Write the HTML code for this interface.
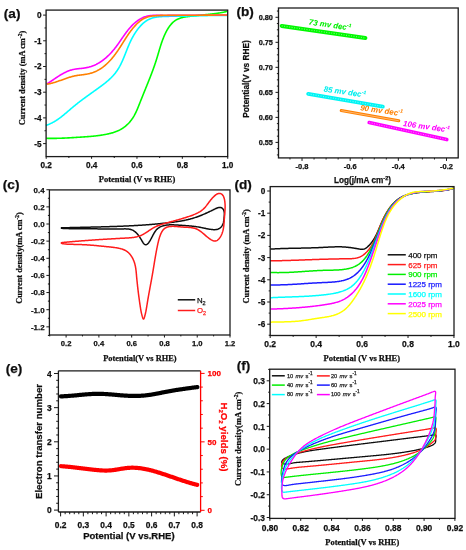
<!DOCTYPE html>
<html><head><meta charset="utf-8"><title>Figure</title>
<style>
html,body{margin:0;padding:0;background:#fff;}
body{width:466px;height:550px;overflow:hidden;}
svg{display:block;}
</style></head><body>
<svg width="466" height="550" viewBox="0 0 466 550">
<defs><filter id="soft" filterUnits="userSpaceOnUse" x="0" y="0" width="466" height="550"><feGaussianBlur stdDeviation="0.4"/></filter></defs>
<rect x="0" y="0" width="466" height="550" fill="#ffffff"/>
<g filter="url(#soft)">
<polyline points="46.33,138.30 47.01,138.32 47.69,138.33 48.37,138.35 49.05,138.36 49.74,138.37 50.42,138.38 51.10,138.38 51.79,138.38 52.48,138.38 53.16,138.38 53.85,138.38 54.54,138.37 55.23,138.36 55.92,138.35 56.62,138.34 57.31,138.32 58.00,138.30 58.70,138.29 59.39,138.27 60.09,138.24 60.79,138.22 61.48,138.19 62.18,138.17 62.88,138.14 63.58,138.11 64.28,138.08 64.98,138.05 65.68,138.01 66.38,137.98 67.08,137.94 67.78,137.91 68.49,137.87 69.19,137.83 69.89,137.79 70.59,137.75 71.30,137.71 72.00,137.67 72.70,137.63 73.41,137.59 74.11,137.54 74.82,137.50 75.52,137.46 76.22,137.41 76.93,137.37 77.63,137.32 78.34,137.28 79.04,137.23 79.75,137.19 80.45,137.14 81.15,137.10 81.86,137.05 82.56,137.01 83.26,136.96 83.97,136.91 84.67,136.87 85.37,136.82 86.07,136.77 86.78,136.72 87.48,136.66 88.18,136.61 88.88,136.55 89.58,136.50 90.28,136.44 90.98,136.38 91.67,136.31 92.37,136.25 93.07,136.18 93.77,136.11 94.46,136.04 95.16,135.96 95.85,135.89 96.54,135.80 97.24,135.72 97.93,135.63 98.62,135.54 99.31,135.45 100.00,135.35 100.69,135.25 101.38,135.15 102.06,135.04 102.75,134.93 103.43,134.82 104.12,134.70 104.80,134.57 105.48,134.44 106.16,134.31 106.84,134.17 107.52,134.03 108.19,133.88 108.87,133.73 109.54,133.57 110.21,133.40 110.88,133.23 111.54,133.05 112.20,132.86 112.86,132.67 113.52,132.46 114.17,132.25 114.82,132.03 115.46,131.80 116.10,131.56 116.74,131.31 117.37,131.05 117.99,130.77 118.61,130.49 119.23,130.19 119.84,129.89 120.44,129.57 121.04,129.24 121.63,128.89 122.22,128.53 122.79,128.16 123.37,127.77 123.93,127.37 124.49,126.96 125.04,126.53 125.58,126.09 126.11,125.64 126.64,125.17 127.15,124.70 127.66,124.21 128.16,123.71 128.65,123.21 129.13,122.69 129.60,122.16 130.06,121.62 130.51,121.08 130.95,120.52 131.38,119.96 131.80,119.39 132.21,118.81 132.61,118.22 132.99,117.63 133.37,117.03 133.73,116.42 134.09,115.81 134.43,115.20 134.77,114.58 135.10,113.95 135.42,113.32 135.73,112.69 136.03,112.05 136.33,111.41 136.63,110.76 136.91,110.12 137.19,109.47 137.47,108.82 137.74,108.17 138.01,107.52 138.28,106.87 138.54,106.22 138.80,105.57 139.06,104.92 139.31,104.27 139.57,103.62 139.83,102.97 140.08,102.33 140.34,101.69 140.59,101.05 140.84,100.41 141.10,99.77 141.35,99.13 141.61,98.50 141.86,97.86 142.12,97.23 142.37,96.59 142.62,95.96 142.88,95.32 143.13,94.69 143.39,94.05 143.65,93.42 143.90,92.78 144.16,92.15 144.42,91.51 144.68,90.87 144.94,90.23 145.20,89.59 145.46,88.94 145.72,88.30 145.98,87.65 146.24,87.01 146.50,86.36 146.77,85.71 147.03,85.06 147.29,84.41 147.55,83.76 147.82,83.10 148.08,82.45 148.34,81.79 148.60,81.14 148.87,80.48 149.13,79.82 149.39,79.16 149.65,78.50 149.91,77.84 150.17,77.18 150.43,76.52 150.68,75.85 150.94,75.19 151.19,74.53 151.45,73.86 151.70,73.20 151.95,72.53 152.20,71.87 152.45,71.20 152.70,70.53 152.94,69.86 153.19,69.20 153.43,68.53 153.67,67.86 153.91,67.19 154.14,66.52 154.38,65.86 154.61,65.19 154.84,64.52 155.07,63.85 155.29,63.18 155.52,62.51 155.74,61.84 155.95,61.17 156.17,60.50 156.38,59.83 156.59,59.17 156.80,58.50 157.00,57.83 157.21,57.16 157.41,56.50 157.60,55.83 157.80,55.16 158.00,54.50 158.19,53.83 158.39,53.16 158.58,52.50 158.78,51.84 158.97,51.17 159.17,50.51 159.37,49.85 159.56,49.19 159.76,48.53 159.96,47.87 160.16,47.21 160.37,46.55 160.57,45.89 160.78,45.23 160.99,44.58 161.21,43.92 161.42,43.27 161.64,42.62 161.87,41.97 162.10,41.32 162.33,40.67 162.57,40.02 162.81,39.37 163.06,38.73 163.32,38.08 163.58,37.44 163.84,36.80 164.11,36.16 164.39,35.52 164.68,34.88 164.97,34.25 165.27,33.61 165.57,32.98 165.89,32.35 166.21,31.72 166.54,31.09 166.88,30.47 167.22,29.85 167.58,29.24 167.95,28.64 168.32,28.04 168.71,27.45 169.10,26.87 169.50,26.30 169.92,25.74 170.34,25.19 170.78,24.65 171.23,24.13 171.69,23.62 172.16,23.13 172.64,22.65 173.13,22.19 173.64,21.75 174.15,21.33 174.68,20.92 175.23,20.54 175.78,20.18 176.35,19.84 176.94,19.52 177.53,19.22 178.14,18.95 178.76,18.69 179.38,18.45 180.02,18.23 180.67,18.02 181.32,17.83 181.99,17.65 182.66,17.49 183.33,17.33 184.02,17.19 184.70,17.06 185.40,16.94 186.09,16.82 186.79,16.72 187.49,16.61 188.20,16.52 188.90,16.43 189.60,16.34 190.31,16.25 191.01,16.16 191.72,16.08 192.42,16.00 193.13,15.92 193.83,15.85 194.54,15.77 195.24,15.70 195.95,15.62 196.65,15.55 197.36,15.48 198.06,15.41 198.77,15.34 199.47,15.28 200.17,15.21 200.88,15.14 201.58,15.07 202.28,15.01 202.99,14.94 203.69,14.87 204.39,14.80 205.09,14.73 205.79,14.67 206.49,14.60 207.19,14.52 207.89,14.45 208.58,14.38 209.28,14.30 209.98,14.23 210.67,14.15 211.37,14.07 212.06,13.99 212.75,13.91 213.45,13.82 214.14,13.73 214.83,13.64 215.52,13.55 216.21,13.45 216.90,13.35 217.58,13.25 218.27,13.15 218.95,13.04 219.64,12.93 220.32,12.81 221.00,12.69 221.68,12.57 222.36,12.44 223.03,12.31 223.71,12.17 224.39,12.03 225.06,11.89 225.73,11.74 226.40,11.58 227.07,11.42" fill="none" stroke="#00ff00" stroke-width="1.60" stroke-linejoin="round" />
<polyline points="45.78,125.37 46.47,125.16 47.14,124.94 47.81,124.70 48.48,124.45 49.13,124.19 49.78,123.92 50.42,123.64 51.06,123.35 51.69,123.04 52.31,122.73 52.93,122.40 53.54,122.07 54.15,121.73 54.75,121.37 55.34,121.01 55.93,120.65 56.52,120.27 57.10,119.89 57.68,119.50 58.25,119.10 58.82,118.70 59.39,118.29 59.95,117.87 60.51,117.45 61.07,117.03 61.62,116.60 62.17,116.16 62.72,115.72 63.26,115.28 63.81,114.84 64.35,114.39 64.89,113.94 65.43,113.48 65.96,113.03 66.50,112.57 67.03,112.11 67.57,111.66 68.10,111.20 68.63,110.74 69.16,110.28 69.70,109.82 70.23,109.36 70.76,108.91 71.29,108.45 71.83,108.00 72.36,107.55 72.90,107.10 73.44,106.65 73.98,106.21 74.52,105.77 75.06,105.33 75.60,104.89 76.14,104.46 76.68,104.03 77.23,103.60 77.78,103.17 78.32,102.74 78.87,102.32 79.42,101.90 79.97,101.47 80.52,101.06 81.07,100.64 81.63,100.22 82.18,99.80 82.74,99.39 83.29,98.98 83.85,98.56 84.41,98.15 84.96,97.74 85.52,97.33 86.08,96.92 86.65,96.51 87.21,96.11 87.77,95.70 88.33,95.29 88.90,94.89 89.46,94.48 90.03,94.07 90.60,93.67 91.17,93.26 91.73,92.85 92.30,92.45 92.87,92.04 93.44,91.63 94.02,91.22 94.59,90.81 95.16,90.41 95.74,90.00 96.31,89.58 96.88,89.17 97.46,88.76 98.04,88.35 98.61,87.93 99.19,87.52 99.76,87.10 100.34,86.68 100.91,86.26 101.48,85.84 102.05,85.41 102.62,84.98 103.18,84.55 103.74,84.12 104.30,83.69 104.85,83.25 105.40,82.81 105.95,82.36 106.49,81.92 107.03,81.47 107.56,81.01 108.09,80.56 108.61,80.10 109.13,79.63 109.64,79.16 110.14,78.69 110.64,78.21 111.13,77.73 111.61,77.24 112.09,76.75 112.55,76.26 113.02,75.76 113.47,75.25 113.92,74.74 114.36,74.22 114.79,73.70 115.21,73.17 115.63,72.64 116.04,72.10 116.44,71.55 116.83,71.00 117.22,70.44 117.60,69.88 117.97,69.31 118.33,68.73 118.69,68.14 119.03,67.55 119.37,66.96 119.71,66.36 120.03,65.75 120.35,65.14 120.67,64.52 120.98,63.90 121.28,63.27 121.58,62.64 121.88,62.01 122.17,61.37 122.46,60.73 122.74,60.09 123.02,59.44 123.30,58.79 123.57,58.14 123.84,57.48 124.11,56.83 124.38,56.17 124.64,55.51 124.90,54.85 125.17,54.19 125.43,53.52 125.69,52.86 125.95,52.20 126.21,51.53 126.47,50.87 126.74,50.21 127.00,49.54 127.26,48.88 127.53,48.22 127.80,47.56 128.07,46.90 128.34,46.25 128.61,45.60 128.89,44.94 129.17,44.29 129.46,43.65 129.74,43.00 130.04,42.36 130.33,41.73 130.63,41.09 130.94,40.46 131.25,39.84 131.57,39.21 131.89,38.59 132.21,37.97 132.54,37.36 132.88,36.75 133.22,36.14 133.57,35.54 133.92,34.94 134.28,34.34 134.65,33.75 135.02,33.16 135.40,32.57 135.79,31.99 136.18,31.41 136.58,30.84 136.99,30.27 137.40,29.71 137.83,29.14 138.26,28.59 138.70,28.03 139.14,27.49 139.60,26.95 140.06,26.41 140.53,25.89 141.01,25.37 141.50,24.87 142.00,24.37 142.50,23.88 143.02,23.41 143.54,22.95 144.07,22.50 144.61,22.07 145.16,21.65 145.71,21.24 146.28,20.86 146.85,20.49 147.42,20.13 148.01,19.80 148.60,19.49 149.20,19.19 149.81,18.92 150.42,18.66 151.05,18.43 151.67,18.21 152.31,18.01 152.94,17.83 153.59,17.66 154.24,17.51 154.90,17.38 155.56,17.25 156.22,17.14 156.89,17.04 157.57,16.95 158.25,16.87 158.93,16.80 159.62,16.74 160.31,16.68 161.00,16.63 161.70,16.58 162.40,16.54 163.10,16.51 163.81,16.47 164.52,16.44 165.23,16.42 165.94,16.40 166.65,16.38 167.36,16.36 168.08,16.34 168.80,16.33 169.51,16.32 170.23,16.31 170.95,16.30 171.66,16.30 172.38,16.29 173.10,16.28 173.82,16.28 174.53,16.27 175.25,16.26 175.96,16.26 176.67,16.25 177.38,16.24 178.09,16.23 178.80,16.22 179.51,16.21 180.22,16.20 180.92,16.19 181.63,16.18 182.33,16.16 183.03,16.15 183.74,16.14 184.44,16.12 185.14,16.11 185.84,16.10 186.54,16.08 187.24,16.07 187.93,16.05 188.63,16.03 189.33,16.02 190.02,16.00 190.72,15.99 191.42,15.97 192.11,15.95 192.81,15.94 193.50,15.92 194.19,15.90 194.89,15.89 195.58,15.87 196.27,15.85 196.97,15.83 197.66,15.82 198.35,15.80 199.05,15.78 199.74,15.76 200.43,15.75 201.12,15.73 201.82,15.71 202.51,15.70 203.20,15.68 203.90,15.66 204.59,15.65 205.28,15.63 205.98,15.62 206.67,15.60 207.37,15.59 208.06,15.57 208.76,15.56 209.45,15.54 210.15,15.53 210.85,15.52 211.54,15.50 212.24,15.49 212.94,15.48 213.64,15.47 214.34,15.46 215.04,15.45 215.74,15.44 216.44,15.43 217.15,15.42 217.85,15.41 218.55,15.40 219.26,15.40 219.97,15.39 220.67,15.38 221.38,15.38 222.09,15.38 222.80,15.37 223.51,15.37 224.23,15.37 224.94,15.37 225.66,15.37 226.37,15.37 227.09,15.37" fill="none" stroke="#00ffff" stroke-width="1.60" stroke-linejoin="round" />
<polyline points="46.91,83.96 47.43,83.63 47.96,83.29 48.49,82.95 49.02,82.60 49.56,82.24 50.11,81.87 50.65,81.50 51.21,81.13 51.76,80.75 52.33,80.36 52.89,79.97 53.46,79.58 54.04,79.19 54.62,78.80 55.20,78.40 55.78,78.01 56.37,77.61 56.97,77.22 57.57,76.83 58.17,76.44 58.77,76.05 59.38,75.67 59.99,75.29 60.61,74.92 61.23,74.55 61.85,74.19 62.48,73.84 63.11,73.49 63.74,73.15 64.38,72.82 65.02,72.50 65.66,72.18 66.30,71.88 66.95,71.59 67.60,71.32 68.26,71.05 68.91,70.80 69.57,70.56 70.23,70.33 70.90,70.12 71.57,69.93 72.24,69.75 72.91,69.59 73.58,69.44 74.26,69.31 74.94,69.19 75.62,69.08 76.30,68.99 76.98,68.90 77.66,68.81 78.35,68.73 79.03,68.66 79.72,68.58 80.40,68.51 81.09,68.44 81.77,68.36 82.45,68.28 83.13,68.20 83.81,68.11 84.49,68.01 85.17,67.90 85.85,67.78 86.52,67.65 87.19,67.51 87.86,67.35 88.53,67.19 89.19,67.02 89.85,66.83 90.50,66.64 91.16,66.43 91.80,66.21 92.45,65.98 93.09,65.74 93.72,65.49 94.35,65.22 94.98,64.95 95.60,64.66 96.21,64.37 96.82,64.06 97.43,63.74 98.03,63.41 98.62,63.07 99.21,62.72 99.80,62.36 100.37,62.00 100.95,61.62 101.52,61.23 102.08,60.83 102.64,60.43 103.20,60.02 103.74,59.60 104.29,59.17 104.83,58.73 105.36,58.28 105.89,57.83 106.42,57.37 106.94,56.90 107.45,56.43 107.96,55.95 108.47,55.46 108.97,54.97 109.47,54.47 109.96,53.97 110.45,53.45 110.93,52.94 111.41,52.42 111.88,51.89 112.35,51.36 112.81,50.82 113.27,50.28 113.73,49.74 114.18,49.19 114.62,48.64 115.06,48.09 115.50,47.53 115.93,46.96 116.36,46.40 116.78,45.83 117.20,45.26 117.62,44.69 118.03,44.12 118.44,43.54 118.85,42.96 119.25,42.39 119.66,41.81 120.06,41.23 120.46,40.65 120.86,40.06 121.26,39.48 121.65,38.90 122.05,38.32 122.45,37.74 122.85,37.16 123.25,36.59 123.65,36.01 124.05,35.44 124.45,34.86 124.86,34.29 125.27,33.73 125.68,33.16 126.10,32.60 126.51,32.04 126.94,31.48 127.36,30.93 127.79,30.38 128.22,29.84 128.66,29.30 129.11,28.76 129.56,28.23 130.02,27.71 130.48,27.19 130.95,26.67 131.42,26.17 131.91,25.66 132.40,25.17 132.89,24.68 133.40,24.20 133.91,23.72 134.43,23.26 134.95,22.80 135.48,22.35 136.02,21.91 136.57,21.49 137.12,21.07 137.68,20.66 138.24,20.27 138.81,19.89 139.39,19.52 139.97,19.16 140.56,18.82 141.15,18.49 141.75,18.18 142.36,17.88 142.97,17.60 143.59,17.34 144.21,17.09 144.84,16.85 145.48,16.64 146.12,16.44 146.76,16.26 147.41,16.10 148.07,15.96 148.73,15.84 149.39,15.74 150.06,15.65 150.73,15.57 151.41,15.51 152.09,15.46 152.77,15.42 153.46,15.39 154.15,15.37 154.84,15.36 155.54,15.36 156.23,15.36 156.93,15.36 157.63,15.37 158.34,15.38 159.04,15.39 159.74,15.40 160.45,15.41 161.15,15.41 161.86,15.42 162.57,15.42 163.28,15.43 163.99,15.43 164.69,15.43 165.40,15.43 166.11,15.43 166.82,15.43 167.53,15.42 168.24,15.42 168.95,15.41 169.66,15.41 170.38,15.40 171.09,15.39 171.80,15.39 172.51,15.38 173.22,15.37 173.93,15.36 174.64,15.35 175.35,15.34 176.06,15.34 176.77,15.33 177.47,15.32 178.18,15.31 178.89,15.30 179.60,15.29 180.30,15.28 181.01,15.27 181.71,15.27 182.41,15.26 183.12,15.25 183.82,15.24 184.52,15.24 185.22,15.23 185.92,15.23 186.62,15.22 187.32,15.22 188.01,15.21 188.71,15.21 189.41,15.21 190.10,15.20 190.80,15.20 191.49,15.20 192.19,15.20 192.88,15.19 193.57,15.19 194.27,15.19 194.96,15.19 195.65,15.19 196.34,15.19 197.04,15.19 197.73,15.18 198.42,15.18 199.11,15.18 199.80,15.18 200.50,15.18 201.19,15.18 201.88,15.18 202.57,15.18 203.26,15.18 203.95,15.18 204.65,15.18 205.34,15.18 206.03,15.18 206.72,15.18 207.42,15.18 208.11,15.18 208.80,15.18 209.50,15.18 210.19,15.18 210.89,15.18 211.58,15.17 212.28,15.17 212.98,15.17 213.67,15.17 214.37,15.17 215.07,15.16 215.77,15.16 216.47,15.16 217.17,15.16 217.87,15.15 218.57,15.15 219.27,15.14 219.98,15.14 220.68,15.14 221.39,15.13 222.10,15.12 222.80,15.12 223.51,15.11 224.22,15.11 224.93,15.10 225.65,15.09 226.36,15.08 227.07,15.07" fill="none" stroke="#ff00ff" stroke-width="1.60" stroke-linejoin="round" />
<polyline points="46.75,84.12 47.40,84.04 48.05,83.95 48.70,83.85 49.35,83.73 50.00,83.60 50.65,83.46 51.31,83.31 51.97,83.14 52.62,82.97 53.28,82.79 53.94,82.60 54.60,82.40 55.26,82.20 55.92,81.99 56.58,81.77 57.25,81.55 57.91,81.33 58.58,81.09 59.24,80.86 59.91,80.62 60.58,80.38 61.25,80.14 61.92,79.90 62.59,79.66 63.26,79.41 63.94,79.17 64.61,78.93 65.28,78.69 65.96,78.46 66.64,78.22 67.31,77.99 67.99,77.77 68.67,77.55 69.35,77.33 70.03,77.12 70.71,76.92 71.39,76.73 72.07,76.54 72.76,76.36 73.44,76.19 74.13,76.03 74.81,75.88 75.50,75.75 76.19,75.62 76.88,75.50 77.56,75.39 78.25,75.29 78.94,75.20 79.63,75.11 80.32,75.02 81.00,74.94 81.69,74.86 82.37,74.77 83.06,74.69 83.74,74.60 84.42,74.51 85.10,74.41 85.78,74.31 86.45,74.20 87.13,74.08 87.80,73.95 88.47,73.81 89.13,73.66 89.79,73.49 90.45,73.31 91.11,73.12 91.76,72.92 92.41,72.70 93.05,72.48 93.69,72.24 94.33,71.99 94.96,71.73 95.58,71.46 96.20,71.17 96.82,70.88 97.43,70.57 98.04,70.25 98.64,69.92 99.23,69.58 99.82,69.23 100.40,68.87 100.97,68.50 101.54,68.11 102.11,67.72 102.66,67.32 103.21,66.90 103.76,66.48 104.30,66.05 104.83,65.61 105.36,65.16 105.88,64.70 106.40,64.23 106.91,63.76 107.42,63.28 107.92,62.79 108.42,62.30 108.91,61.79 109.39,61.29 109.87,60.77 110.35,60.25 110.82,59.72 111.29,59.19 111.75,58.65 112.21,58.11 112.66,57.56 113.11,57.01 113.55,56.46 113.99,55.90 114.42,55.33 114.85,54.77 115.28,54.20 115.70,53.63 116.12,53.05 116.54,52.47 116.95,51.89 117.35,51.31 117.76,50.73 118.15,50.15 118.55,49.56 118.94,48.97 119.33,48.39 119.72,47.80 120.10,47.21 120.48,46.63 120.85,46.04 121.23,45.45 121.60,44.87 121.97,44.28 122.33,43.70 122.70,43.11 123.07,42.53 123.43,41.95 123.80,41.36 124.16,40.78 124.53,40.20 124.90,39.62 125.26,39.04 125.63,38.46 126.00,37.88 126.38,37.31 126.75,36.73 127.13,36.16 127.51,35.59 127.89,35.02 128.28,34.45 128.67,33.88 129.07,33.32 129.47,32.75 129.87,32.19 130.28,31.63 130.70,31.07 131.12,30.52 131.54,29.97 131.98,29.41 132.42,28.86 132.86,28.32 133.32,27.77 133.78,27.23 134.25,26.69 134.73,26.15 135.22,25.62 135.71,25.09 136.21,24.57 136.72,24.05 137.24,23.54 137.77,23.04 138.30,22.55 138.84,22.07 139.39,21.60 139.95,21.15 140.51,20.71 141.08,20.29 141.65,19.88 142.23,19.50 142.82,19.13 143.41,18.79 144.01,18.46 144.62,18.17 145.23,17.89 145.84,17.64 146.47,17.40 147.09,17.19 147.72,17.00 148.36,16.82 149.00,16.66 149.64,16.51 150.29,16.38 150.95,16.27 151.60,16.16 152.27,16.06 152.93,15.98 153.60,15.90 154.27,15.83 154.95,15.77 155.62,15.71 156.30,15.66 156.99,15.61 157.67,15.56 158.36,15.52 159.05,15.48 159.74,15.45 160.44,15.41 161.14,15.38 161.84,15.36 162.54,15.33 163.24,15.31 163.94,15.29 164.65,15.28 165.36,15.26 166.06,15.25 166.77,15.24 167.48,15.23 168.20,15.23 168.91,15.22 169.62,15.22 170.33,15.22 171.05,15.22 171.76,15.22 172.48,15.22 173.19,15.22 173.91,15.22 174.62,15.23 175.33,15.23 176.05,15.24 176.76,15.24 177.47,15.25 178.19,15.25 178.90,15.26 179.61,15.26 180.32,15.27 181.03,15.27 181.73,15.27 182.44,15.28 183.14,15.28 183.85,15.28 184.55,15.28 185.25,15.28 185.95,15.28 186.65,15.28 187.35,15.28 188.05,15.28 188.75,15.28 189.44,15.28 190.14,15.27 190.83,15.27 191.53,15.27 192.22,15.26 192.91,15.26 193.61,15.25 194.30,15.25 194.99,15.25 195.68,15.24 196.37,15.23 197.06,15.23 197.75,15.22 198.44,15.22 199.13,15.21 199.82,15.21 200.51,15.20 201.20,15.19 201.89,15.19 202.58,15.18 203.27,15.17 203.96,15.17 204.65,15.16 205.35,15.15 206.04,15.14 206.73,15.14 207.42,15.13 208.11,15.12 208.80,15.12 209.50,15.11 210.19,15.11 210.88,15.10 211.58,15.09 212.27,15.09 212.97,15.08 213.66,15.08 214.36,15.07 215.06,15.06 215.76,15.06 216.46,15.06 217.16,15.05 217.86,15.05 218.56,15.04 219.27,15.04 219.97,15.04 220.68,15.03 221.39,15.03 222.09,15.03 222.80,15.03 223.52,15.03 224.23,15.03 224.94,15.03 225.66,15.03 226.37,15.03 227.09,15.03" fill="none" stroke="#ff8000" stroke-width="1.60" stroke-linejoin="round" />
<rect x="46.10" y="10.10" width="181.60" height="146.50" fill="none" stroke="#1a1a1a" stroke-width="1.30"/>
<line x1="46.10" y1="143.60" x2="43.10" y2="143.60" stroke="#1a1a1a" stroke-width="1.00"/>
<line x1="46.10" y1="117.90" x2="43.10" y2="117.90" stroke="#1a1a1a" stroke-width="1.00"/>
<line x1="46.10" y1="92.20" x2="43.10" y2="92.20" stroke="#1a1a1a" stroke-width="1.00"/>
<line x1="46.10" y1="66.50" x2="43.10" y2="66.50" stroke="#1a1a1a" stroke-width="1.00"/>
<line x1="46.10" y1="40.80" x2="43.10" y2="40.80" stroke="#1a1a1a" stroke-width="1.00"/>
<line x1="46.10" y1="15.10" x2="43.10" y2="15.10" stroke="#1a1a1a" stroke-width="1.00"/>
<line x1="46.10" y1="130.75" x2="44.50" y2="130.75" stroke="#1a1a1a" stroke-width="1.00"/>
<line x1="46.10" y1="105.05" x2="44.50" y2="105.05" stroke="#1a1a1a" stroke-width="1.00"/>
<line x1="46.10" y1="79.35" x2="44.50" y2="79.35" stroke="#1a1a1a" stroke-width="1.00"/>
<line x1="46.10" y1="53.65" x2="44.50" y2="53.65" stroke="#1a1a1a" stroke-width="1.00"/>
<line x1="46.10" y1="27.95" x2="44.50" y2="27.95" stroke="#1a1a1a" stroke-width="1.00"/>
<text x="41.50" y="18.00" font-family='"Liberation Sans", sans-serif' font-size="8.20" font-weight="bold" text-anchor="end" fill="#111"  stroke="#111" stroke-width="0.25">0</text>
<text x="41.50" y="43.70" font-family='"Liberation Sans", sans-serif' font-size="8.20" font-weight="bold" text-anchor="end" fill="#111"  stroke="#111" stroke-width="0.25">-1</text>
<text x="41.50" y="69.40" font-family='"Liberation Sans", sans-serif' font-size="8.20" font-weight="bold" text-anchor="end" fill="#111"  stroke="#111" stroke-width="0.25">-2</text>
<text x="41.50" y="95.10" font-family='"Liberation Sans", sans-serif' font-size="8.20" font-weight="bold" text-anchor="end" fill="#111"  stroke="#111" stroke-width="0.25">-3</text>
<text x="41.50" y="120.80" font-family='"Liberation Sans", sans-serif' font-size="8.20" font-weight="bold" text-anchor="end" fill="#111"  stroke="#111" stroke-width="0.25">-4</text>
<text x="41.50" y="146.50" font-family='"Liberation Sans", sans-serif' font-size="8.20" font-weight="bold" text-anchor="end" fill="#111"  stroke="#111" stroke-width="0.25">-5</text>
<line x1="46.20" y1="156.60" x2="46.20" y2="158.80" stroke="#1a1a1a" stroke-width="1.00"/>
<line x1="91.58" y1="156.60" x2="91.58" y2="158.80" stroke="#1a1a1a" stroke-width="1.00"/>
<line x1="136.96" y1="156.60" x2="136.96" y2="158.80" stroke="#1a1a1a" stroke-width="1.00"/>
<line x1="182.34" y1="156.60" x2="182.34" y2="158.80" stroke="#1a1a1a" stroke-width="1.00"/>
<line x1="227.72" y1="156.60" x2="227.72" y2="158.80" stroke="#1a1a1a" stroke-width="1.00"/>
<line x1="68.89" y1="156.60" x2="68.89" y2="158.00" stroke="#1a1a1a" stroke-width="1.00"/>
<line x1="114.27" y1="156.60" x2="114.27" y2="158.00" stroke="#1a1a1a" stroke-width="1.00"/>
<line x1="159.65" y1="156.60" x2="159.65" y2="158.00" stroke="#1a1a1a" stroke-width="1.00"/>
<line x1="205.03" y1="156.60" x2="205.03" y2="158.00" stroke="#1a1a1a" stroke-width="1.00"/>
<text x="46.20" y="168.30" font-family='"Liberation Sans", sans-serif' font-size="8.20" font-weight="bold" text-anchor="middle" fill="#111"  stroke="#111" stroke-width="0.25">0.2</text>
<text x="91.58" y="168.30" font-family='"Liberation Sans", sans-serif' font-size="8.20" font-weight="bold" text-anchor="middle" fill="#111"  stroke="#111" stroke-width="0.25">0.4</text>
<text x="136.96" y="168.30" font-family='"Liberation Sans", sans-serif' font-size="8.20" font-weight="bold" text-anchor="middle" fill="#111"  stroke="#111" stroke-width="0.25">0.6</text>
<text x="182.34" y="168.30" font-family='"Liberation Sans", sans-serif' font-size="8.20" font-weight="bold" text-anchor="middle" fill="#111"  stroke="#111" stroke-width="0.25">0.8</text>
<text x="227.72" y="168.30" font-family='"Liberation Sans", sans-serif' font-size="8.20" font-weight="bold" text-anchor="middle" fill="#111"  stroke="#111" stroke-width="0.25">1.0</text>
<text x="137.00" y="182.40" font-family='"Liberation Serif", serif' font-size="8.50" font-weight="bold" text-anchor="middle" fill="#111"  stroke="#111" stroke-width="0.25">Potential (V vs RHE)</text>
<text x="24.90" y="78.00" font-family='"Liberation Serif", serif' font-size="8.40" font-weight="bold" text-anchor="middle" fill="#111" transform="rotate(-90.00 24.90 78.00)"  stroke="#111" stroke-width="0.25">Current density (mA cm<tspan dy="-3" font-size="5.5">-2</tspan><tspan dy="3">)</tspan></text>
<text x="3.80" y="17.70" font-family='"Liberation Sans", sans-serif' font-size="13.60" font-weight="bold" text-anchor="start" fill="#111"  stroke="#111" stroke-width="0.25">(a)</text>
<line x1="281.70" y1="25.90" x2="365.40" y2="38.00" stroke="#00f800" stroke-width="4.00" stroke-linecap="round"/>
<line x1="281.70" y1="25.90" x2="365.40" y2="38.00" stroke="#ffffff" stroke-opacity="0.45" stroke-width="1.10" stroke-dasharray="1.0 1.5"/>
<line x1="308.20" y1="93.90" x2="382.80" y2="106.60" stroke="#00f4f4" stroke-width="3.90" stroke-linecap="round"/>
<line x1="308.20" y1="93.90" x2="382.80" y2="106.60" stroke="#ffffff" stroke-opacity="0.45" stroke-width="1.10" stroke-dasharray="1.0 1.5"/>
<line x1="341.20" y1="110.60" x2="398.80" y2="120.80" stroke="#ff8000" stroke-width="3.00" stroke-linecap="round"/>
<line x1="341.20" y1="110.60" x2="398.80" y2="120.80" stroke="#ffffff" stroke-opacity="0.55" stroke-width="0.80"/>
<line x1="369.20" y1="122.60" x2="446.80" y2="139.60" stroke="#ff00ff" stroke-width="3.60" stroke-linecap="round"/>
<line x1="369.20" y1="122.60" x2="446.80" y2="139.60" stroke="#ffffff" stroke-opacity="0.50" stroke-width="1.00" stroke-dasharray="1.0 1.5"/>
<rect x="278.50" y="8.00" width="179.70" height="149.90" fill="none" stroke="#1a1a1a" stroke-width="1.30"/>
<line x1="278.50" y1="142.40" x2="275.50" y2="142.40" stroke="#1a1a1a" stroke-width="1.00"/>
<line x1="278.50" y1="117.38" x2="275.50" y2="117.38" stroke="#1a1a1a" stroke-width="1.00"/>
<line x1="278.50" y1="92.36" x2="275.50" y2="92.36" stroke="#1a1a1a" stroke-width="1.00"/>
<line x1="278.50" y1="67.34" x2="275.50" y2="67.34" stroke="#1a1a1a" stroke-width="1.00"/>
<line x1="278.50" y1="42.32" x2="275.50" y2="42.32" stroke="#1a1a1a" stroke-width="1.00"/>
<line x1="278.50" y1="17.30" x2="275.50" y2="17.30" stroke="#1a1a1a" stroke-width="1.00"/>
<line x1="278.50" y1="154.91" x2="276.90" y2="154.91" stroke="#1a1a1a" stroke-width="1.00"/>
<line x1="278.50" y1="148.66" x2="276.90" y2="148.66" stroke="#1a1a1a" stroke-width="1.00"/>
<line x1="278.50" y1="136.15" x2="276.90" y2="136.15" stroke="#1a1a1a" stroke-width="1.00"/>
<line x1="278.50" y1="129.89" x2="276.90" y2="129.89" stroke="#1a1a1a" stroke-width="1.00"/>
<line x1="278.50" y1="123.64" x2="276.90" y2="123.64" stroke="#1a1a1a" stroke-width="1.00"/>
<line x1="278.50" y1="111.13" x2="276.90" y2="111.13" stroke="#1a1a1a" stroke-width="1.00"/>
<line x1="278.50" y1="104.87" x2="276.90" y2="104.87" stroke="#1a1a1a" stroke-width="1.00"/>
<line x1="278.50" y1="98.62" x2="276.90" y2="98.62" stroke="#1a1a1a" stroke-width="1.00"/>
<line x1="278.50" y1="86.11" x2="276.90" y2="86.11" stroke="#1a1a1a" stroke-width="1.00"/>
<line x1="278.50" y1="79.85" x2="276.90" y2="79.85" stroke="#1a1a1a" stroke-width="1.00"/>
<line x1="278.50" y1="73.60" x2="276.90" y2="73.60" stroke="#1a1a1a" stroke-width="1.00"/>
<line x1="278.50" y1="61.09" x2="276.90" y2="61.09" stroke="#1a1a1a" stroke-width="1.00"/>
<line x1="278.50" y1="54.83" x2="276.90" y2="54.83" stroke="#1a1a1a" stroke-width="1.00"/>
<line x1="278.50" y1="48.58" x2="276.90" y2="48.58" stroke="#1a1a1a" stroke-width="1.00"/>
<line x1="278.50" y1="36.07" x2="276.90" y2="36.07" stroke="#1a1a1a" stroke-width="1.00"/>
<line x1="278.50" y1="29.81" x2="276.90" y2="29.81" stroke="#1a1a1a" stroke-width="1.00"/>
<line x1="278.50" y1="23.56" x2="276.90" y2="23.56" stroke="#1a1a1a" stroke-width="1.00"/>
<line x1="278.50" y1="11.05" x2="276.90" y2="11.05" stroke="#1a1a1a" stroke-width="1.00"/>
<text x="272.90" y="145.00" font-family='"Liberation Sans", sans-serif' font-size="7.30" font-weight="bold" text-anchor="end" fill="#111"  stroke="#111" stroke-width="0.25">0.55</text>
<text x="272.90" y="119.98" font-family='"Liberation Sans", sans-serif' font-size="7.30" font-weight="bold" text-anchor="end" fill="#111"  stroke="#111" stroke-width="0.25">0.60</text>
<text x="272.90" y="94.96" font-family='"Liberation Sans", sans-serif' font-size="7.30" font-weight="bold" text-anchor="end" fill="#111"  stroke="#111" stroke-width="0.25">0.65</text>
<text x="272.90" y="69.94" font-family='"Liberation Sans", sans-serif' font-size="7.30" font-weight="bold" text-anchor="end" fill="#111"  stroke="#111" stroke-width="0.25">0.70</text>
<text x="272.90" y="44.92" font-family='"Liberation Sans", sans-serif' font-size="7.30" font-weight="bold" text-anchor="end" fill="#111"  stroke="#111" stroke-width="0.25">0.75</text>
<text x="272.90" y="19.90" font-family='"Liberation Sans", sans-serif' font-size="7.30" font-weight="bold" text-anchor="end" fill="#111"  stroke="#111" stroke-width="0.25">0.80</text>
<line x1="302.02" y1="157.90" x2="302.02" y2="160.90" stroke="#1a1a1a" stroke-width="1.00"/>
<line x1="350.18" y1="157.90" x2="350.18" y2="160.90" stroke="#1a1a1a" stroke-width="1.00"/>
<line x1="398.34" y1="157.90" x2="398.34" y2="160.90" stroke="#1a1a1a" stroke-width="1.00"/>
<line x1="446.50" y1="157.90" x2="446.50" y2="160.90" stroke="#1a1a1a" stroke-width="1.00"/>
<line x1="289.98" y1="157.90" x2="289.98" y2="159.50" stroke="#1a1a1a" stroke-width="1.00"/>
<line x1="314.06" y1="157.90" x2="314.06" y2="159.50" stroke="#1a1a1a" stroke-width="1.00"/>
<line x1="326.10" y1="157.90" x2="326.10" y2="159.50" stroke="#1a1a1a" stroke-width="1.00"/>
<line x1="338.14" y1="157.90" x2="338.14" y2="159.50" stroke="#1a1a1a" stroke-width="1.00"/>
<line x1="362.22" y1="157.90" x2="362.22" y2="159.50" stroke="#1a1a1a" stroke-width="1.00"/>
<line x1="374.26" y1="157.90" x2="374.26" y2="159.50" stroke="#1a1a1a" stroke-width="1.00"/>
<line x1="386.30" y1="157.90" x2="386.30" y2="159.50" stroke="#1a1a1a" stroke-width="1.00"/>
<line x1="410.38" y1="157.90" x2="410.38" y2="159.50" stroke="#1a1a1a" stroke-width="1.00"/>
<line x1="422.42" y1="157.90" x2="422.42" y2="159.50" stroke="#1a1a1a" stroke-width="1.00"/>
<line x1="434.46" y1="157.90" x2="434.46" y2="159.50" stroke="#1a1a1a" stroke-width="1.00"/>
<text x="302.02" y="169.00" font-family='"Liberation Sans", sans-serif' font-size="7.50" font-weight="bold" text-anchor="middle" fill="#111"  stroke="#111" stroke-width="0.25">-0.8</text>
<text x="350.18" y="169.00" font-family='"Liberation Sans", sans-serif' font-size="7.50" font-weight="bold" text-anchor="middle" fill="#111"  stroke="#111" stroke-width="0.25">-0.6</text>
<text x="398.34" y="169.00" font-family='"Liberation Sans", sans-serif' font-size="7.50" font-weight="bold" text-anchor="middle" fill="#111"  stroke="#111" stroke-width="0.25">-0.4</text>
<text x="446.50" y="169.00" font-family='"Liberation Sans", sans-serif' font-size="7.50" font-weight="bold" text-anchor="middle" fill="#111"  stroke="#111" stroke-width="0.25">-0.2</text>
<text x="362.50" y="182.70" font-family='"Liberation Sans", sans-serif' font-size="8.20" font-weight="bold" text-anchor="middle" fill="#111"  stroke="#111" stroke-width="0.25">Log(j/mA cm<tspan dy="-3" font-size="5.5">-2</tspan><tspan dy="3">)</tspan></text>
<text x="249.00" y="79.00" font-family='"Liberation Sans", sans-serif' font-size="8.30" font-weight="bold" text-anchor="middle" fill="#111" transform="rotate(-90.00 249.00 79.00)"  stroke="#111" stroke-width="0.25">Potential(V vs RHE)</text>
<text x="308.60" y="24.60" font-family='"Liberation Sans", sans-serif' font-size="7.90" font-weight="bold" text-anchor="start" fill="#00ee00" transform="rotate(8.00 308.60 24.60)" font-style="italic" stroke="#00ee00" stroke-width="0.05">73 mv dec<tspan dy="-3.2" font-size="5.0">-1</tspan></text>
<text x="323.40" y="91.60" font-family='"Liberation Sans", sans-serif' font-size="7.90" font-weight="bold" text-anchor="start" fill="#00eeee" transform="rotate(8.00 323.40 91.60)" font-style="italic" stroke="#00eeee" stroke-width="0.05">85 mv dec<tspan dy="-3.2" font-size="5.0">-1</tspan></text>
<text x="360.00" y="110.20" font-family='"Liberation Sans", sans-serif' font-size="7.90" font-weight="bold" text-anchor="start" fill="#ff8000" transform="rotate(8.00 360.00 110.20)" font-style="italic" stroke="#ff8000" stroke-width="0.05">90 mv dec<tspan dy="-3.2" font-size="5.0">-1</tspan></text>
<text x="402.80" y="126.00" font-family='"Liberation Sans", sans-serif' font-size="7.90" font-weight="bold" text-anchor="start" fill="#ff00ff" transform="rotate(8.00 402.80 126.00)" font-style="italic" stroke="#ff00ff" stroke-width="0.05">106 mv dec<tspan dy="-3.2" font-size="5.0">-1</tspan></text>
<text x="236.40" y="16.40" font-family='"Liberation Sans", sans-serif' font-size="13.60" font-weight="bold" text-anchor="start" fill="#111"  stroke="#111" stroke-width="0.25">(b)</text>
<polyline points="60.84,227.87 61.54,227.85 62.25,227.83 62.95,227.81 63.65,227.79 64.36,227.77 65.06,227.75 65.76,227.73 66.47,227.71 67.17,227.69 67.87,227.67 68.57,227.65 69.27,227.64 69.97,227.62 70.68,227.60 71.38,227.58 72.08,227.56 72.78,227.55 73.48,227.53 74.18,227.51 74.88,227.49 75.58,227.48 76.28,227.46 76.98,227.44 77.68,227.43 78.38,227.41 79.08,227.39 79.78,227.38 80.48,227.36 81.18,227.34 81.88,227.33 82.58,227.31 83.28,227.30 83.98,227.28 84.68,227.26 85.38,227.25 86.08,227.23 86.77,227.22 87.47,227.20 88.17,227.18 88.87,227.17 89.57,227.15 90.27,227.13 90.97,227.12 91.66,227.10 92.36,227.09 93.06,227.07 93.76,227.05 94.46,227.04 95.15,227.02 95.85,227.00 96.55,226.98 97.25,226.97 97.94,226.95 98.64,226.93 99.34,226.91 100.04,226.90 100.73,226.88 101.43,226.86 102.13,226.84 102.83,226.82 103.52,226.80 104.22,226.78 104.92,226.76 105.62,226.74 106.31,226.72 107.01,226.70 107.71,226.68 108.40,226.66 109.10,226.64 109.80,226.62 110.50,226.60 111.19,226.58 111.89,226.55 112.59,226.53 113.28,226.51 113.98,226.48 114.68,226.46 115.38,226.43 116.07,226.41 116.77,226.38 117.47,226.36 118.16,226.33 118.86,226.31 119.56,226.28 120.26,226.25 120.95,226.22 121.65,226.20 122.35,226.17 123.04,226.14 123.74,226.11 124.44,226.08 125.14,226.05 125.83,226.02 126.53,225.99 127.23,225.95 127.93,225.92 128.62,225.89 129.32,225.85 130.02,225.82 130.72,225.78 131.42,225.75 132.11,225.71 132.81,225.67 133.51,225.64 134.21,225.60 134.91,225.56 135.61,225.52 136.30,225.48 137.00,225.44 137.70,225.40 138.40,225.35 139.10,225.31 139.80,225.27 140.50,225.22 141.20,225.18 141.89,225.13 142.59,225.09 143.29,225.04 143.99,224.99 144.69,224.94 145.39,224.89 146.09,224.84 146.79,224.79 147.49,224.74 148.19,224.69 148.89,224.63 149.59,224.58 150.29,224.52 150.99,224.47 151.69,224.41 152.39,224.35 153.09,224.29 153.79,224.23 154.49,224.17 155.19,224.11 155.89,224.05 156.59,223.99 157.29,223.92 157.99,223.86 158.69,223.79 159.39,223.72 160.09,223.65 160.79,223.59 161.49,223.52 162.18,223.44 162.88,223.37 163.58,223.30 164.27,223.22 164.97,223.15 165.67,223.07 166.36,223.00 167.06,222.92 167.75,222.84 168.45,222.76 169.14,222.67 169.83,222.59 170.53,222.51 171.22,222.42 171.91,222.34 172.60,222.25 173.29,222.16 173.98,222.07 174.67,221.97 175.36,221.88 176.04,221.78 176.73,221.68 177.42,221.58 178.10,221.48 178.78,221.37 179.47,221.26 180.15,221.15 180.83,221.03 181.51,220.91 182.19,220.79 182.87,220.66 183.55,220.53 184.23,220.40 184.91,220.26 185.58,220.12 186.26,219.98 186.93,219.83 187.60,219.67 188.27,219.51 188.94,219.35 189.61,219.18 190.28,219.00 190.95,218.82 191.61,218.64 192.28,218.45 192.94,218.25 193.60,218.05 194.26,217.84 194.92,217.63 195.58,217.41 196.24,217.18 196.90,216.95 197.55,216.72 198.21,216.48 198.86,216.24 199.52,215.99 200.17,215.73 200.83,215.47 201.48,215.21 202.13,214.94 202.78,214.67 203.44,214.40 204.09,214.12 204.74,213.83 205.39,213.54 206.05,213.25 206.70,212.96 207.35,212.66 208.01,212.36 208.66,212.05 209.32,211.74 209.97,211.43 210.63,211.12 211.29,210.80 211.94,210.48 212.60,210.16 213.26,209.83 213.92,209.50 214.58,209.18 215.24,208.85 215.90,208.54 216.55,208.26 217.20,208.00 217.83,207.78 218.46,207.60 219.07,207.48 219.66,207.42 220.24,207.42 220.80,207.51 221.33,207.68 221.84,207.93 222.32,208.27 222.75,208.68 223.13,209.16 223.45,209.69 223.72,210.27 223.94,210.89 224.10,211.55 224.22,212.23 224.29,212.94 224.33,213.66 224.33,214.40 224.31,215.14 224.26,215.89 224.20,216.64 224.13,217.38 224.05,218.11 223.97,218.83 223.90,219.53 223.82,220.22 223.73,220.89 223.62,221.56 223.49,222.22 223.31,222.88 223.10,223.54 222.83,224.19 222.52,224.84 222.18,225.47 221.79,226.07 221.37,226.64 220.91,227.18 220.42,227.66 219.90,228.10 219.35,228.47 218.78,228.79 218.18,229.05 217.56,229.25 216.93,229.41 216.28,229.52 215.61,229.60 214.93,229.64 214.25,229.65 213.55,229.63 212.85,229.59 212.15,229.53 211.45,229.46 210.74,229.37 210.04,229.27 209.33,229.16 208.63,229.04 207.92,228.92 207.22,228.78 206.51,228.64 205.81,228.50 205.11,228.36 204.41,228.21 203.71,228.06 203.01,227.91 202.32,227.77 201.62,227.62 200.93,227.48 200.24,227.35 199.55,227.22 198.87,227.10 198.18,226.99 197.50,226.88 196.82,226.77 196.14,226.68 195.46,226.58 194.78,226.49 194.11,226.41 193.43,226.33 192.75,226.25 192.08,226.17 191.40,226.10 190.72,226.04 190.04,225.97 189.37,225.91 188.68,225.85 188.00,225.80 187.32,225.74 186.63,225.69 185.95,225.64 185.26,225.59 184.57,225.54 183.87,225.49 183.17,225.44 182.47,225.39 181.77,225.35 181.06,225.30 180.35,225.25 179.63,225.20 178.91,225.15 178.19,225.10 177.46,225.05 176.74,225.01 176.01,224.96 175.28,224.92 174.55,224.89 173.82,224.86 173.09,224.84 172.36,224.82 171.64,224.82 170.91,224.82 170.20,224.83 169.48,224.86 168.77,224.89 168.07,224.94 167.38,225.01 166.69,225.09 166.00,225.18 165.33,225.29 164.67,225.42 164.01,225.57 163.37,225.73 162.73,225.92 162.11,226.13 161.50,226.36 160.90,226.61 160.32,226.89 159.75,227.19 159.19,227.52 158.65,227.88 158.13,228.26 157.62,228.67 157.13,229.11 156.66,229.58 156.21,230.09 155.77,230.62 155.35,231.18 154.95,231.76 154.55,232.37 154.17,232.99 153.80,233.63 153.44,234.28 153.08,234.94 152.73,235.62 152.37,236.29 152.03,236.97 151.68,237.65 151.32,238.32 150.97,238.99 150.61,239.65 150.24,240.29 149.86,240.93 149.47,241.54 149.07,242.13 148.66,242.68 148.24,243.19 147.81,243.64 147.37,244.03 146.92,244.34 146.46,244.56 145.99,244.69 145.51,244.71 145.04,244.61 144.58,244.39 144.14,244.03 143.71,243.57 143.29,243.02 142.89,242.41 142.49,241.75 142.09,241.08 141.70,240.40 141.30,239.73 140.91,239.07 140.51,238.42 140.11,237.78 139.70,237.16 139.29,236.55 138.88,235.95 138.45,235.38 138.02,234.82 137.59,234.28 137.14,233.75 136.68,233.25 136.21,232.78 135.73,232.32 135.24,231.89 134.74,231.49 134.22,231.11 133.68,230.77 133.13,230.45 132.56,230.16 131.98,229.90 131.37,229.68 130.75,229.49 130.11,229.33 129.45,229.19 128.78,229.09 128.10,229.01 127.41,228.95 126.70,228.91 125.99,228.88 125.27,228.87 124.54,228.87 123.81,228.88 123.08,228.90 122.34,228.92 121.61,228.95 120.88,228.97 120.15,229.00 119.42,229.01 118.70,229.03 117.98,229.04 117.27,229.06 116.55,229.06 115.84,229.07 115.14,229.08 114.43,229.08 113.73,229.08 113.03,229.08 112.33,229.07 111.63,229.07 110.94,229.06 110.24,229.06 109.55,229.05 108.86,229.04 108.17,229.03 107.48,229.02 106.79,229.01 106.10,229.00 105.41,228.99 104.72,228.97 104.03,228.96 103.35,228.95 102.66,228.94 101.97,228.93 101.28,228.92 100.59,228.91 99.90,228.90 99.20,228.89 98.51,228.88 97.82,228.88 97.12,228.87 96.43,228.87 95.73,228.86 95.03,228.86 94.33,228.86 93.63,228.85 92.93,228.85 92.23,228.85 91.53,228.85 90.83,228.85 90.13,228.85 89.43,228.85 88.72,228.84 88.02,228.84 87.32,228.84 86.61,228.84 85.91,228.84 85.20,228.84 84.50,228.84 83.80,228.84 83.09,228.84 82.39,228.83 81.68,228.83 80.98,228.83 80.28,228.82 79.57,228.82 78.87,228.81 78.17,228.81 77.46,228.80 76.76,228.79 76.06,228.79 75.36,228.78 74.66,228.77 73.96,228.75 73.26,228.74 72.56,228.73 71.86,228.71 71.17,228.70 70.47,228.68 69.77,228.66 69.08,228.64 68.39,228.62 67.69,228.60 67.00,228.57 66.31,228.55 65.62,228.52 64.94,228.49 64.25,228.46 63.56,228.42 62.88,228.39 62.20,228.35 61.51,228.31 60.83,228.27" fill="none" stroke="#111111" stroke-width="1.50" stroke-linejoin="round" />
<polyline points="60.81,242.71 61.52,242.64 62.22,242.57 62.92,242.50 63.62,242.43 64.32,242.36 65.02,242.30 65.72,242.23 66.42,242.17 67.12,242.10 67.82,242.04 68.52,241.97 69.22,241.91 69.92,241.85 70.62,241.78 71.32,241.72 72.02,241.66 72.71,241.60 73.41,241.54 74.11,241.48 74.81,241.42 75.51,241.36 76.20,241.30 76.90,241.24 77.60,241.19 78.29,241.13 78.99,241.07 79.69,241.02 80.38,240.96 81.08,240.91 81.77,240.85 82.47,240.80 83.17,240.74 83.86,240.69 84.56,240.64 85.25,240.58 85.95,240.53 86.65,240.48 87.34,240.43 88.04,240.38 88.73,240.33 89.43,240.28 90.12,240.23 90.82,240.18 91.52,240.13 92.21,240.08 92.91,240.03 93.60,239.98 94.30,239.93 94.99,239.89 95.69,239.84 96.39,239.79 97.08,239.75 97.78,239.70 98.48,239.65 99.17,239.61 99.87,239.56 100.56,239.52 101.26,239.47 101.96,239.43 102.66,239.39 103.35,239.34 104.05,239.30 104.75,239.26 105.45,239.21 106.14,239.17 106.84,239.13 107.54,239.08 108.24,239.04 108.94,239.00 109.64,238.96 110.34,238.92 111.04,238.88 111.73,238.84 112.43,238.80 113.14,238.75 113.84,238.71 114.54,238.67 115.24,238.63 115.94,238.59 116.64,238.56 117.34,238.52 118.05,238.48 118.75,238.44 119.45,238.40 120.15,238.36 120.86,238.32 121.56,238.28 122.27,238.24 122.97,238.21 123.68,238.17 124.38,238.13 125.09,238.09 125.80,238.05 126.50,238.02 127.21,237.98 127.91,237.93 128.62,237.89 129.32,237.83 130.03,237.78 130.73,237.72 131.43,237.65 132.12,237.57 132.82,237.49 133.51,237.39 134.19,237.29 134.88,237.17 135.56,237.04 136.23,236.90 136.90,236.75 137.57,236.58 138.23,236.39 138.89,236.19 139.54,235.97 140.18,235.73 140.82,235.48 141.45,235.20 142.07,234.91 142.69,234.59 143.31,234.26 143.91,233.92 144.52,233.57 145.12,233.20 145.72,232.82 146.31,232.44 146.91,232.05 147.50,231.66 148.09,231.26 148.68,230.86 149.27,230.46 149.86,230.07 150.45,229.68 151.05,229.29 151.64,228.91 152.24,228.54 152.85,228.18 153.45,227.83 154.07,227.49 154.68,227.17 155.30,226.86 155.93,226.56 156.56,226.27 157.19,226.00 157.82,225.74 158.46,225.48 159.11,225.24 159.75,225.00 160.40,224.77 161.06,224.55 161.71,224.34 162.37,224.13 163.03,223.93 163.69,223.73 164.35,223.54 165.02,223.35 165.69,223.16 166.36,222.98 167.03,222.80 167.70,222.62 168.37,222.45 169.04,222.27 169.71,222.09 170.39,221.92 171.06,221.74 171.74,221.56 172.41,221.38 173.08,221.20 173.76,221.01 174.43,220.83 175.11,220.64 175.78,220.45 176.46,220.26 177.13,220.07 177.80,219.88 178.48,219.69 179.15,219.49 179.82,219.30 180.49,219.10 181.16,218.90 181.83,218.70 182.50,218.50 183.17,218.29 183.84,218.09 184.51,217.88 185.18,217.67 185.84,217.46 186.51,217.25 187.17,217.03 187.83,216.82 188.50,216.60 189.16,216.38 189.82,216.15 190.47,215.92 191.13,215.68 191.79,215.44 192.44,215.19 193.10,214.94 193.75,214.67 194.40,214.40 195.05,214.13 195.70,213.84 196.34,213.54 196.98,213.24 197.62,212.92 198.24,212.60 198.86,212.26 199.47,211.91 200.06,211.55 200.64,211.17 201.21,210.78 201.76,210.38 202.29,209.96 202.81,209.53 203.31,209.08 203.79,208.62 204.26,208.15 204.71,207.66 205.16,207.17 205.59,206.66 206.02,206.14 206.44,205.62 206.85,205.08 207.27,204.54 207.68,203.99 208.09,203.44 208.51,202.88 208.93,202.32 209.35,201.76 209.78,201.19 210.22,200.62 210.67,200.06 211.13,199.49 211.61,198.92 212.10,198.36 212.61,197.79 213.14,197.23 213.69,196.68 214.25,196.14 214.83,195.61 215.43,195.12 216.03,194.67 216.63,194.28 217.24,193.94 217.84,193.68 218.44,193.50 219.03,193.40 219.60,193.40 220.16,193.48 220.69,193.64 221.20,193.87 221.68,194.16 222.13,194.53 222.54,194.95 222.90,195.42 223.24,195.95 223.53,196.52 223.79,197.13 224.02,197.77 224.23,198.44 224.40,199.14 224.55,199.86 224.68,200.59 224.79,201.33 224.88,202.07 224.95,202.82 225.01,203.55 225.05,204.29 225.08,205.02 225.10,205.74 225.11,206.46 225.11,207.17 225.10,207.88 225.08,208.59 225.06,209.29 225.03,209.99 224.99,210.69 224.94,211.38 224.89,212.08 224.84,212.77 224.78,213.45 224.72,214.14 224.66,214.83 224.60,215.51 224.54,216.20 224.48,216.88 224.42,217.57 224.37,218.26 224.32,218.94 224.27,219.63 224.22,220.32 224.18,221.01 224.13,221.70 224.08,222.39 224.03,223.08 223.98,223.77 223.92,224.46 223.85,225.15 223.78,225.84 223.69,226.54 223.60,227.23 223.49,227.92 223.37,228.61 223.24,229.30 223.08,230.00 222.92,230.69 222.73,231.38 222.52,232.07 222.29,232.75 222.04,233.44 221.77,234.13 221.47,234.82 221.14,235.49 220.79,236.16 220.42,236.80 220.03,237.43 219.62,238.02 219.19,238.57 218.73,239.09 218.26,239.55 217.77,239.97 217.27,240.32 216.74,240.61 216.20,240.83 215.65,240.98 215.08,241.04 214.50,241.02 213.91,240.93 213.31,240.77 212.71,240.55 212.10,240.27 211.49,239.95 210.89,239.60 210.28,239.21 209.68,238.80 209.09,238.38 208.51,237.94 207.93,237.49 207.35,237.03 206.78,236.56 206.22,236.08 205.65,235.60 205.09,235.12 204.54,234.64 203.98,234.15 203.42,233.68 202.87,233.21 202.31,232.74 201.75,232.29 201.19,231.85 200.63,231.42 200.06,231.01 199.49,230.62 198.92,230.25 198.34,229.90 197.75,229.57 197.16,229.27 196.56,229.00 195.95,228.76 195.34,228.54 194.72,228.34 194.09,228.17 193.46,228.02 192.81,227.89 192.17,227.77 191.51,227.67 190.85,227.58 190.18,227.51 189.51,227.45 188.82,227.40 188.14,227.35 187.44,227.31 186.74,227.27 186.04,227.24 185.33,227.21 184.61,227.17 183.88,227.13 183.16,227.09 182.42,227.05 181.68,226.99 180.93,226.93 180.19,226.87 179.43,226.80 178.68,226.73 177.93,226.66 177.18,226.59 176.43,226.53 175.68,226.47 174.94,226.43 174.20,226.39 173.48,226.37 172.75,226.36 172.04,226.37 171.34,226.40 170.65,226.44 169.98,226.51 169.31,226.60 168.66,226.72 168.03,226.87 167.42,227.05 166.82,227.26 166.25,227.50 165.69,227.78 165.16,228.10 164.65,228.45 164.16,228.85 163.70,229.29 163.27,229.77 162.85,230.28 162.46,230.83 162.09,231.40 161.74,232.00 161.41,232.62 161.09,233.26 160.80,233.92 160.52,234.59 160.25,235.26 160.00,235.95 159.76,236.63 159.54,237.31 159.33,238.00 159.13,238.68 158.93,239.36 158.75,240.04 158.57,240.72 158.41,241.40 158.24,242.08 158.08,242.76 157.93,243.44 157.78,244.12 157.63,244.80 157.49,245.48 157.34,246.16 157.20,246.85 157.06,247.53 156.93,248.22 156.79,248.90 156.66,249.59 156.53,250.27 156.40,250.96 156.27,251.65 156.14,252.33 156.02,253.02 155.89,253.71 155.77,254.40 155.65,255.09 155.53,255.78 155.41,256.47 155.29,257.16 155.17,257.85 155.06,258.54 154.94,259.23 154.82,259.92 154.71,260.61 154.60,261.30 154.48,261.99 154.37,262.69 154.26,263.38 154.14,264.07 154.03,264.76 153.92,265.45 153.81,266.14 153.69,266.83 153.58,267.52 153.47,268.22 153.35,268.91 153.24,269.60 153.12,270.29 153.01,270.98 152.89,271.67 152.78,272.36 152.66,273.05 152.54,273.74 152.42,274.42 152.30,275.11 152.18,275.80 152.06,276.49 151.94,277.18 151.81,277.86 151.69,278.55 151.56,279.24 151.44,279.93 151.31,280.61 151.19,281.30 151.06,281.98 150.93,282.67 150.81,283.36 150.68,284.04 150.55,284.73 150.42,285.42 150.30,286.10 150.17,286.79 150.04,287.48 149.91,288.16 149.79,288.85 149.66,289.54 149.53,290.22 149.41,290.91 149.28,291.60 149.15,292.29 149.03,292.98 148.91,293.67 148.78,294.35 148.66,295.04 148.54,295.73 148.41,296.42 148.29,297.11 148.17,297.81 148.05,298.50 147.93,299.19 147.82,299.88 147.70,300.58 147.59,301.27 147.47,301.96 147.36,302.66 147.25,303.35 147.14,304.05 147.03,304.75 146.91,305.44 146.80,306.14 146.69,306.83 146.57,307.53 146.45,308.22 146.33,308.92 146.21,309.61 146.08,310.30 145.94,310.99 145.81,311.68 145.66,312.36 145.51,313.05 145.36,313.73 145.20,314.41 145.03,315.09 144.85,315.76 144.67,316.44 144.47,317.10 144.27,317.77 144.06,318.37 143.84,318.84 143.62,319.10 143.39,319.08 143.16,318.81 142.93,318.35 142.71,317.76 142.49,317.09 142.27,316.38 142.06,315.64 141.86,314.88 141.67,314.11 141.49,313.34 141.32,312.59 141.17,311.85 141.02,311.13 140.89,310.42 140.77,309.73 140.65,309.04 140.54,308.36 140.43,307.68 140.33,307.01 140.23,306.33 140.13,305.66 140.03,304.98 139.93,304.30 139.83,303.62 139.73,302.94 139.63,302.25 139.53,301.57 139.44,300.88 139.34,300.20 139.25,299.51 139.15,298.82 139.06,298.13 138.97,297.44 138.87,296.75 138.78,296.05 138.69,295.36 138.60,294.67 138.51,293.97 138.42,293.28 138.34,292.58 138.25,291.88 138.16,291.18 138.08,290.49 138.00,289.79 137.91,289.09 137.83,288.39 137.75,287.69 137.67,286.99 137.59,286.29 137.51,285.59 137.44,284.89 137.36,284.19 137.28,283.49 137.21,282.79 137.14,282.09 137.07,281.40 137.00,280.70 136.93,280.00 136.86,279.30 136.79,278.60 136.73,277.90 136.66,277.21 136.60,276.51 136.54,275.82 136.48,275.12 136.41,274.43 136.35,273.73 136.29,273.04 136.22,272.35 136.15,271.66 136.08,270.97 136.00,270.28 135.91,269.60 135.82,268.91 135.72,268.23 135.61,267.55 135.48,266.87 135.35,266.19 135.21,265.51 135.05,264.83 134.88,264.16 134.70,263.49 134.49,262.82 134.28,262.15 134.04,261.49 133.79,260.83 133.51,260.17 133.22,259.51 132.91,258.86 132.58,258.21 132.22,257.57 131.86,256.94 131.47,256.33 131.06,255.73 130.64,255.14 130.20,254.57 129.75,254.03 129.28,253.50 128.79,253.00 128.29,252.52 127.78,252.07 127.25,251.65 126.71,251.26 126.16,250.90 125.59,250.57 125.01,250.27 124.42,249.99 123.82,249.73 123.21,249.50 122.59,249.28 121.95,249.08 121.31,248.89 120.66,248.71 120.00,248.55 119.34,248.39 118.66,248.24 117.98,248.10 117.30,247.97 116.60,247.85 115.91,247.73 115.20,247.63 114.50,247.52 113.79,247.42 113.08,247.33 112.36,247.24 111.65,247.16 110.93,247.08 110.21,247.00 109.50,246.93 108.78,246.86 108.06,246.78 107.35,246.72 106.64,246.65 105.93,246.58 105.22,246.51 104.52,246.44 103.82,246.37 103.12,246.30 102.42,246.23 101.73,246.16 101.04,246.09 100.35,246.02 99.66,245.95 98.97,245.88 98.29,245.81 97.60,245.75 96.91,245.68 96.23,245.62 95.54,245.55 94.86,245.49 94.17,245.43 93.49,245.37 92.80,245.31 92.11,245.25 91.42,245.19 90.73,245.14 90.04,245.09 89.34,245.04 88.65,244.99 87.95,244.94 87.25,244.89 86.55,244.85 85.85,244.81 85.15,244.77 84.45,244.73 83.74,244.69 83.04,244.66 82.33,244.63 81.63,244.59 80.93,244.57 80.22,244.54 79.51,244.51 78.81,244.49 78.10,244.47 77.40,244.45 76.69,244.43 75.99,244.42 75.29,244.40 74.58,244.39 73.88,244.38 73.18,244.37 72.48,244.36 71.78,244.35 71.08,244.34 70.38,244.32 69.68,244.30 68.99,244.27 68.30,244.24 67.60,244.20 66.91,244.15 66.22,244.09 65.54,244.02 64.85,243.95 64.17,243.86 63.49,243.75 62.81,243.64 62.14,243.51 61.47,243.36 60.80,243.20" fill="none" stroke="#ff1a1a" stroke-width="1.50" stroke-linejoin="round" />
<rect x="49.40" y="189.90" width="180.60" height="145.10" fill="none" stroke="#1a1a1a" stroke-width="1.30"/>
<line x1="49.40" y1="326.84" x2="46.40" y2="326.84" stroke="#1a1a1a" stroke-width="1.00"/>
<line x1="49.40" y1="309.70" x2="46.40" y2="309.70" stroke="#1a1a1a" stroke-width="1.00"/>
<line x1="49.40" y1="292.56" x2="46.40" y2="292.56" stroke="#1a1a1a" stroke-width="1.00"/>
<line x1="49.40" y1="275.42" x2="46.40" y2="275.42" stroke="#1a1a1a" stroke-width="1.00"/>
<line x1="49.40" y1="258.28" x2="46.40" y2="258.28" stroke="#1a1a1a" stroke-width="1.00"/>
<line x1="49.40" y1="241.14" x2="46.40" y2="241.14" stroke="#1a1a1a" stroke-width="1.00"/>
<line x1="49.40" y1="224.00" x2="46.40" y2="224.00" stroke="#1a1a1a" stroke-width="1.00"/>
<line x1="49.40" y1="206.86" x2="46.40" y2="206.86" stroke="#1a1a1a" stroke-width="1.00"/>
<line x1="49.40" y1="189.72" x2="46.40" y2="189.72" stroke="#1a1a1a" stroke-width="1.00"/>
<line x1="49.40" y1="335.41" x2="47.90" y2="335.41" stroke="#1a1a1a" stroke-width="1.00"/>
<line x1="49.40" y1="318.27" x2="47.90" y2="318.27" stroke="#1a1a1a" stroke-width="1.00"/>
<line x1="49.40" y1="301.13" x2="47.90" y2="301.13" stroke="#1a1a1a" stroke-width="1.00"/>
<line x1="49.40" y1="283.99" x2="47.90" y2="283.99" stroke="#1a1a1a" stroke-width="1.00"/>
<line x1="49.40" y1="266.85" x2="47.90" y2="266.85" stroke="#1a1a1a" stroke-width="1.00"/>
<line x1="49.40" y1="249.71" x2="47.90" y2="249.71" stroke="#1a1a1a" stroke-width="1.00"/>
<line x1="49.40" y1="232.57" x2="47.90" y2="232.57" stroke="#1a1a1a" stroke-width="1.00"/>
<line x1="49.40" y1="215.43" x2="47.90" y2="215.43" stroke="#1a1a1a" stroke-width="1.00"/>
<line x1="49.40" y1="198.29" x2="47.90" y2="198.29" stroke="#1a1a1a" stroke-width="1.00"/>
<text x="44.60" y="329.64" font-family='"Liberation Sans", sans-serif' font-size="7.90" font-weight="bold" text-anchor="end" fill="#111"  stroke="#111" stroke-width="0.25">-1.2</text>
<text x="44.60" y="312.50" font-family='"Liberation Sans", sans-serif' font-size="7.90" font-weight="bold" text-anchor="end" fill="#111"  stroke="#111" stroke-width="0.25">-1.0</text>
<text x="44.60" y="295.36" font-family='"Liberation Sans", sans-serif' font-size="7.90" font-weight="bold" text-anchor="end" fill="#111"  stroke="#111" stroke-width="0.25">-0.8</text>
<text x="44.60" y="278.22" font-family='"Liberation Sans", sans-serif' font-size="7.90" font-weight="bold" text-anchor="end" fill="#111"  stroke="#111" stroke-width="0.25">-0.6</text>
<text x="44.60" y="261.08" font-family='"Liberation Sans", sans-serif' font-size="7.90" font-weight="bold" text-anchor="end" fill="#111"  stroke="#111" stroke-width="0.25">-0.4</text>
<text x="44.60" y="243.94" font-family='"Liberation Sans", sans-serif' font-size="7.90" font-weight="bold" text-anchor="end" fill="#111"  stroke="#111" stroke-width="0.25">-0.2</text>
<text x="44.60" y="226.80" font-family='"Liberation Sans", sans-serif' font-size="7.90" font-weight="bold" text-anchor="end" fill="#111"  stroke="#111" stroke-width="0.25">0.0</text>
<text x="44.60" y="209.66" font-family='"Liberation Sans", sans-serif' font-size="7.90" font-weight="bold" text-anchor="end" fill="#111"  stroke="#111" stroke-width="0.25">0.2</text>
<text x="44.60" y="192.52" font-family='"Liberation Sans", sans-serif' font-size="7.90" font-weight="bold" text-anchor="end" fill="#111"  stroke="#111" stroke-width="0.25">0.4</text>
<line x1="66.10" y1="335.00" x2="66.10" y2="337.50" stroke="#1a1a1a" stroke-width="1.00"/>
<line x1="98.88" y1="335.00" x2="98.88" y2="337.50" stroke="#1a1a1a" stroke-width="1.00"/>
<line x1="131.66" y1="335.00" x2="131.66" y2="337.50" stroke="#1a1a1a" stroke-width="1.00"/>
<line x1="164.44" y1="335.00" x2="164.44" y2="337.50" stroke="#1a1a1a" stroke-width="1.00"/>
<line x1="197.22" y1="335.00" x2="197.22" y2="337.50" stroke="#1a1a1a" stroke-width="1.00"/>
<line x1="230.00" y1="335.00" x2="230.00" y2="337.50" stroke="#1a1a1a" stroke-width="1.00"/>
<line x1="49.71" y1="335.00" x2="49.71" y2="336.40" stroke="#1a1a1a" stroke-width="1.00"/>
<line x1="82.49" y1="335.00" x2="82.49" y2="336.40" stroke="#1a1a1a" stroke-width="1.00"/>
<line x1="115.27" y1="335.00" x2="115.27" y2="336.40" stroke="#1a1a1a" stroke-width="1.00"/>
<line x1="148.05" y1="335.00" x2="148.05" y2="336.40" stroke="#1a1a1a" stroke-width="1.00"/>
<line x1="180.83" y1="335.00" x2="180.83" y2="336.40" stroke="#1a1a1a" stroke-width="1.00"/>
<line x1="213.61" y1="335.00" x2="213.61" y2="336.40" stroke="#1a1a1a" stroke-width="1.00"/>
<text x="66.10" y="346.30" font-family='"Liberation Sans", sans-serif' font-size="7.60" font-weight="bold" text-anchor="middle" fill="#111"  stroke="#111" stroke-width="0.25">0.2</text>
<text x="98.88" y="346.30" font-family='"Liberation Sans", sans-serif' font-size="7.60" font-weight="bold" text-anchor="middle" fill="#111"  stroke="#111" stroke-width="0.25">0.4</text>
<text x="131.66" y="346.30" font-family='"Liberation Sans", sans-serif' font-size="7.60" font-weight="bold" text-anchor="middle" fill="#111"  stroke="#111" stroke-width="0.25">0.6</text>
<text x="164.44" y="346.30" font-family='"Liberation Sans", sans-serif' font-size="7.60" font-weight="bold" text-anchor="middle" fill="#111"  stroke="#111" stroke-width="0.25">0.8</text>
<text x="197.22" y="346.30" font-family='"Liberation Sans", sans-serif' font-size="7.60" font-weight="bold" text-anchor="middle" fill="#111"  stroke="#111" stroke-width="0.25">1.0</text>
<text x="230.00" y="346.30" font-family='"Liberation Sans", sans-serif' font-size="7.60" font-weight="bold" text-anchor="middle" fill="#111"  stroke="#111" stroke-width="0.25">1.2</text>
<text x="139.90" y="360.80" font-family='"Liberation Serif", serif' font-size="8.40" font-weight="bold" text-anchor="middle" fill="#111"  stroke="#111" stroke-width="0.25">Potential(V vs RHE)</text>
<text x="22.20" y="258.00" font-family='"Liberation Serif", serif' font-size="8.30" font-weight="bold" text-anchor="middle" fill="#111" transform="rotate(-90.00 22.20 258.00)"  stroke="#111" stroke-width="0.25">Current density(mA cm<tspan dy="-3" font-size="5.5">-2</tspan><tspan dy="3">)</tspan></text>
<line x1="177.80" y1="299.80" x2="195.20" y2="299.80" stroke="#111" stroke-width="1.50"/>
<text x="196.90" y="302.60" font-family='"Liberation Sans", sans-serif' font-size="7.80" font-weight="normal" text-anchor="start" fill="#111"  stroke="#111" stroke-width="0.25">N<tspan dy="2" font-size="5.5">2</tspan></text>
<line x1="177.80" y1="310.50" x2="195.20" y2="310.50" stroke="#ff1a1a" stroke-width="1.50"/>
<text x="196.90" y="313.40" font-family='"Liberation Sans", sans-serif' font-size="7.80" font-weight="normal" text-anchor="start" fill="#ff1a1a"  stroke="#ff1a1a" stroke-width="0.25">O<tspan dy="2" font-size="5.5">2</tspan></text>
<text x="2.80" y="188.70" font-family='"Liberation Sans", sans-serif' font-size="13.60" font-weight="bold" text-anchor="start" fill="#111"  stroke="#111" stroke-width="0.25">(c)</text>
<polyline points="270.31,249.11 271.13,249.06 271.94,249.01 272.76,248.96 273.57,248.92 274.38,248.88 275.19,248.84 276.00,248.80 276.81,248.76 277.62,248.73 278.42,248.69 279.23,248.66 280.03,248.63 280.83,248.60 281.63,248.57 282.43,248.55 283.23,248.52 284.03,248.50 284.82,248.47 285.62,248.45 286.42,248.43 287.21,248.41 288.00,248.39 288.80,248.37 289.59,248.35 290.38,248.34 291.17,248.32 291.96,248.30 292.76,248.29 293.55,248.27 294.33,248.26 295.12,248.24 295.91,248.23 296.70,248.21 297.49,248.20 298.28,248.18 299.07,248.17 299.86,248.15 300.64,248.14 301.43,248.12 302.22,248.11 303.01,248.09 303.80,248.07 304.59,248.06 305.38,248.04 306.17,248.02 306.96,248.00 307.75,247.98 308.54,247.96 309.33,247.94 310.12,247.92 310.91,247.90 311.70,247.87 312.50,247.85 313.29,247.82 314.08,247.79 314.88,247.77 315.68,247.74 316.47,247.70 317.27,247.67 318.07,247.64 318.87,247.60 319.67,247.56 320.47,247.52 321.28,247.48 322.08,247.44 322.89,247.40 323.69,247.35 324.50,247.31 325.31,247.27 326.11,247.22 326.92,247.18 327.73,247.14 328.54,247.10 329.35,247.06 330.16,247.02 330.98,246.99 331.79,246.95 332.60,246.92 333.41,246.90 334.22,246.88 335.04,246.86 335.85,246.84 336.66,246.83 337.47,246.82 338.29,246.82 339.10,246.83 339.91,246.84 340.72,246.85 341.53,246.87 342.34,246.90 343.15,246.94 343.96,246.98 344.77,247.03 345.58,247.09 346.39,247.15 347.20,247.22 348.00,247.30 348.80,247.39 349.60,247.48 350.40,247.58 351.19,247.68 351.98,247.79 352.77,247.90 353.55,248.02 354.32,248.14 355.09,248.26 355.85,248.39 356.61,248.51 357.36,248.64 358.10,248.77 358.83,248.90 359.55,249.03 360.27,249.14 360.98,249.23 361.67,249.28 362.36,249.28 363.03,249.23 363.70,249.12 364.35,248.94 364.99,248.67 365.61,248.32 366.23,247.90 366.83,247.44 367.41,246.95 367.99,246.43 368.54,245.90 369.09,245.36 369.62,244.80 370.13,244.23 370.64,243.64 371.13,243.04 371.61,242.43 372.08,241.81 372.53,241.18 372.98,240.53 373.41,239.88 373.83,239.21 374.24,238.54 374.65,237.86 375.04,237.17 375.42,236.47 375.80,235.76 376.16,235.05 376.52,234.33 376.87,233.61 377.21,232.87 377.55,232.14 377.88,231.40 378.21,230.65 378.54,229.90 378.86,229.15 379.18,228.40 379.50,227.64 379.82,226.89 380.14,226.13 380.46,225.37 380.78,224.61 381.10,223.85 381.43,223.09 381.76,222.33 382.10,221.57 382.44,220.82 382.79,220.07 383.14,219.32 383.50,218.57 383.87,217.83 384.24,217.09 384.61,216.36 385.00,215.63 385.39,214.91 385.78,214.19 386.18,213.48 386.59,212.77 387.01,212.07 387.43,211.38 387.86,210.70 388.30,210.02 388.74,209.36 389.19,208.70 389.65,208.05 390.12,207.41 390.60,206.78 391.08,206.16 391.58,205.55 392.08,204.95 392.59,204.37 393.10,203.79 393.63,203.23 394.17,202.68 394.71,202.15 395.27,201.62 395.83,201.11 396.40,200.62 396.99,200.14 397.58,199.68 398.18,199.23 398.80,198.80 399.42,198.38 400.05,197.98 400.70,197.60 401.35,197.23 402.02,196.88 402.69,196.55 403.38,196.23 404.07,195.93 404.77,195.64 405.48,195.36 406.20,195.10 406.93,194.86 407.67,194.62 408.41,194.40 409.16,194.19 409.91,194.00 410.68,193.81 411.45,193.64 412.22,193.47 413.00,193.32 413.79,193.17 414.58,193.03 415.37,192.91 416.17,192.79 416.98,192.68 417.79,192.57 418.60,192.47 419.41,192.38 420.23,192.30 421.05,192.22 421.88,192.14 422.70,192.07 423.53,192.01 424.36,191.95 425.18,191.89 426.01,191.83 426.85,191.78 427.68,191.73 428.51,191.68 429.34,191.63 430.17,191.58 431.00,191.54 431.83,191.49 432.65,191.44 433.48,191.39 434.30,191.34 435.12,191.29 435.94,191.24 436.75,191.18 437.56,191.12 438.37,191.06 439.17,190.99 439.97,190.92 440.77,190.84 441.56,190.76 442.34,190.67 443.12,190.58 443.89,190.47 444.66,190.37 445.42,190.25 446.18,190.13 446.92,189.99 447.67,189.85 448.40,189.70 449.12,189.54 449.84,189.37 450.55,189.19 451.25,189.00 451.94,188.80 452.62,188.58" fill="none" stroke="#111111" stroke-width="1.50" stroke-linejoin="round" />
<polyline points="270.27,260.85 271.10,260.84 271.93,260.83 272.76,260.82 273.58,260.80 274.41,260.79 275.23,260.78 276.05,260.76 276.86,260.75 277.68,260.73 278.49,260.71 279.30,260.70 280.11,260.68 280.91,260.66 281.72,260.64 282.52,260.62 283.32,260.60 284.12,260.58 284.92,260.56 285.71,260.53 286.51,260.51 287.30,260.49 288.10,260.47 288.89,260.44 289.68,260.42 290.47,260.39 291.26,260.37 292.05,260.34 292.83,260.32 293.62,260.29 294.41,260.26 295.19,260.24 295.98,260.21 296.76,260.18 297.55,260.16 298.33,260.13 299.12,260.10 299.90,260.07 300.69,260.04 301.47,260.02 302.26,259.99 303.04,259.96 303.83,259.93 304.62,259.90 305.40,259.87 306.19,259.84 306.98,259.82 307.77,259.79 308.56,259.76 309.35,259.73 310.14,259.70 310.94,259.67 311.73,259.64 312.53,259.62 313.33,259.59 314.13,259.56 314.93,259.53 315.73,259.51 316.53,259.48 317.34,259.45 318.15,259.43 318.95,259.40 319.77,259.37 320.58,259.35 321.39,259.32 322.21,259.30 323.03,259.27 323.85,259.25 324.68,259.22 325.50,259.20 326.33,259.18 327.15,259.16 327.98,259.13 328.81,259.11 329.64,259.09 330.47,259.07 331.29,259.05 332.12,259.03 332.95,259.01 333.78,258.99 334.61,258.97 335.44,258.95 336.26,258.93 337.09,258.92 337.91,258.90 338.73,258.88 339.55,258.87 340.37,258.85 341.19,258.84 342.00,258.82 342.82,258.81 343.63,258.79 344.43,258.78 345.24,258.77 346.04,258.76 346.84,258.74 347.63,258.73 348.42,258.72 349.21,258.71 349.99,258.69 350.77,258.67 351.54,258.63 352.31,258.59 353.07,258.53 353.83,258.46 354.57,258.37 355.31,258.26 356.05,258.13 356.77,257.97 357.49,257.79 358.19,257.58 358.89,257.35 359.58,257.07 360.26,256.77 360.93,256.43 361.58,256.07 362.23,255.67 362.86,255.26 363.48,254.81 364.09,254.34 364.69,253.86 365.27,253.35 365.84,252.82 366.40,252.28 366.94,251.72 367.46,251.15 367.98,250.57 368.47,249.98 368.96,249.37 369.42,248.76 369.88,248.13 370.32,247.49 370.76,246.85 371.18,246.19 371.59,245.53 371.98,244.86 372.37,244.18 372.75,243.49 373.12,242.79 373.49,242.09 373.84,241.38 374.19,240.67 374.53,239.94 374.86,239.22 375.19,238.48 375.52,237.74 375.83,237.00 376.15,236.25 376.46,235.50 376.77,234.75 377.07,233.99 377.37,233.23 377.68,232.46 377.98,231.70 378.27,230.93 378.57,230.16 378.87,229.39 379.17,228.62 379.48,227.84 379.78,227.07 380.09,226.30 380.40,225.53 380.71,224.76 381.03,223.99 381.35,223.22 381.68,222.45 382.01,221.69 382.35,220.93 382.69,220.17 383.04,219.42 383.40,218.67 383.76,217.92 384.13,217.18 384.51,216.44 384.89,215.71 385.28,214.99 385.68,214.27 386.08,213.55 386.49,212.85 386.91,212.15 387.34,211.46 387.77,210.77 388.21,210.10 388.66,209.43 389.12,208.77 389.59,208.12 390.06,207.48 390.54,206.85 391.03,206.23 391.53,205.62 392.03,205.03 392.55,204.44 393.07,203.87 393.61,203.30 394.15,202.75 394.70,202.22 395.26,201.70 395.83,201.19 396.41,200.69 397.00,200.21 397.59,199.74 398.20,199.29 398.82,198.86 399.45,198.44 400.09,198.04 400.73,197.65 401.39,197.28 402.06,196.93 402.74,196.59 403.43,196.27 404.12,195.96 404.83,195.66 405.54,195.39 406.26,195.12 406.99,194.87 407.73,194.63 408.47,194.40 409.22,194.19 409.98,193.98 410.74,193.79 411.51,193.61 412.28,193.44 413.06,193.28 413.85,193.13 414.64,192.98 415.43,192.85 416.23,192.72 417.03,192.61 417.84,192.50 418.65,192.39 419.46,192.30 420.28,192.20 421.09,192.12 421.91,192.04 422.73,191.96 423.55,191.89 424.38,191.83 425.20,191.76 426.03,191.70 426.85,191.64 427.68,191.59 428.50,191.54 429.32,191.48 430.15,191.43 430.97,191.38 431.79,191.33 432.61,191.28 433.43,191.23 434.24,191.18 435.06,191.13 435.87,191.07 436.68,191.01 437.48,190.95 438.29,190.89 439.09,190.82 439.89,190.75 440.69,190.68 441.48,190.60 442.27,190.51 443.06,190.42 443.84,190.32 444.62,190.22 445.39,190.11 446.16,189.99 446.93,189.86 447.69,189.73 448.44,189.58 449.19,189.43 449.94,189.27 450.68,189.10 451.42,188.92 452.15,188.73 452.87,188.52" fill="none" stroke="#ff1a1a" stroke-width="1.50" stroke-linejoin="round" />
<polyline points="270.40,272.45 271.21,272.48 272.02,272.52 272.82,272.54 273.63,272.57 274.44,272.58 275.24,272.60 276.04,272.61 276.85,272.62 277.65,272.63 278.45,272.63 279.25,272.62 280.05,272.62 280.85,272.61 281.64,272.60 282.44,272.59 283.23,272.57 284.03,272.55 284.82,272.53 285.62,272.50 286.41,272.48 287.20,272.45 288.00,272.41 288.79,272.38 289.58,272.35 290.37,272.31 291.16,272.27 291.96,272.23 292.75,272.18 293.54,272.14 294.33,272.09 295.12,272.05 295.91,272.00 296.70,271.95 297.49,271.90 298.28,271.85 299.07,271.80 299.87,271.75 300.66,271.69 301.45,271.64 302.24,271.58 303.04,271.53 303.83,271.48 304.62,271.42 305.42,271.37 306.21,271.31 307.01,271.26 307.81,271.20 308.60,271.15 309.40,271.10 310.20,271.04 311.00,270.99 311.80,270.94 312.60,270.89 313.40,270.84 314.21,270.79 315.01,270.75 315.82,270.70 316.63,270.66 317.43,270.61 318.24,270.57 319.05,270.53 319.87,270.50 320.68,270.46 321.49,270.43 322.31,270.40 323.13,270.37 323.95,270.34 324.77,270.31 325.59,270.29 326.42,270.27 327.24,270.25 328.07,270.24 328.90,270.22 329.72,270.21 330.55,270.19 331.38,270.17 332.21,270.16 333.03,270.14 333.86,270.11 334.68,270.09 335.50,270.06 336.32,270.03 337.14,269.99 337.95,269.95 338.77,269.90 339.57,269.84 340.38,269.78 341.18,269.71 341.97,269.64 342.77,269.55 343.55,269.46 344.33,269.35 345.11,269.24 345.88,269.12 346.64,268.98 347.40,268.83 348.15,268.67 348.89,268.50 349.63,268.32 350.36,268.12 351.08,267.90 351.79,267.67 352.49,267.43 353.19,267.17 353.87,266.89 354.55,266.60 355.22,266.29 355.88,265.96 356.53,265.62 357.17,265.25 357.80,264.87 358.42,264.47 359.04,264.05 359.64,263.61 360.24,263.15 360.82,262.67 361.40,262.17 361.97,261.65 362.53,261.11 363.08,260.54 363.62,259.96 364.15,259.35 364.67,258.73 365.18,258.09 365.68,257.43 366.17,256.76 366.66,256.08 367.13,255.39 367.59,254.70 368.05,253.99 368.49,253.28 368.92,252.56 369.35,251.85 369.76,251.13 370.17,250.41 370.56,249.70 370.95,248.98 371.33,248.27 371.70,247.56 372.06,246.85 372.41,246.14 372.76,245.42 373.10,244.71 373.43,244.00 373.76,243.29 374.08,242.58 374.40,241.87 374.71,241.16 375.02,240.44 375.32,239.73 375.63,239.02 375.92,238.30 376.22,237.58 376.51,236.87 376.80,236.15 377.09,235.42 377.38,234.70 377.67,233.98 377.96,233.25 378.25,232.52 378.54,231.79 378.83,231.05 379.12,230.31 379.41,229.57 379.71,228.83 380.01,228.09 380.31,227.34 380.62,226.58 380.93,225.83 381.24,225.07 381.56,224.31 381.88,223.54 382.21,222.78 382.54,222.01 382.87,221.25 383.22,220.49 383.56,219.72 383.92,218.96 384.27,218.20 384.64,217.45 385.01,216.69 385.38,215.94 385.77,215.20 386.16,214.46 386.55,213.72 386.96,212.99 387.37,212.27 387.78,211.56 388.21,210.85 388.64,210.15 389.08,209.46 389.53,208.78 389.99,208.11 390.45,207.45 390.93,206.80 391.41,206.17 391.90,205.54 392.40,204.93 392.91,204.33 393.43,203.74 393.96,203.17 394.50,202.62 395.05,202.08 395.61,201.55 396.18,201.05 396.76,200.56 397.35,200.08 397.96,199.63 398.57,199.19 399.19,198.77 399.82,198.36 400.46,197.97 401.11,197.60 401.77,197.24 402.44,196.90 403.12,196.57 403.81,196.25 404.50,195.95 405.20,195.66 405.91,195.39 406.63,195.12 407.35,194.87 408.08,194.63 408.82,194.41 409.57,194.19 410.32,193.99 411.07,193.79 411.83,193.61 412.60,193.43 413.37,193.26 414.15,193.11 414.93,192.96 415.72,192.82 416.51,192.68 417.30,192.56 418.10,192.44 418.90,192.33 419.71,192.22 420.51,192.12 421.32,192.03 422.14,191.94 422.95,191.85 423.77,191.77 424.59,191.70 425.41,191.63 426.23,191.56 427.05,191.49 427.88,191.43 428.70,191.37 429.52,191.31 430.35,191.25 431.17,191.19 432.00,191.14 432.82,191.08 433.64,191.02 434.46,190.97 435.28,190.91 436.10,190.85 436.91,190.79 437.73,190.73 438.54,190.67 439.35,190.60 440.15,190.53 440.95,190.46 441.75,190.38 442.55,190.30 443.34,190.22 444.13,190.13 444.91,190.03 445.69,189.93 446.46,189.82 447.23,189.71 447.99,189.59 448.75,189.46 449.50,189.33 450.25,189.19 450.98,189.03 451.72,188.88 452.44,188.71 453.16,188.53" fill="none" stroke="#00ee00" stroke-width="1.50" stroke-linejoin="round" />
<polyline points="270.29,284.88 271.12,284.90 271.94,284.91 272.77,284.92 273.59,284.93 274.40,284.93 275.22,284.93 276.04,284.93 276.85,284.92 277.66,284.91 278.47,284.90 279.28,284.89 280.08,284.88 280.89,284.86 281.69,284.84 282.49,284.82 283.29,284.79 284.09,284.77 284.88,284.74 285.68,284.71 286.48,284.68 287.27,284.64 288.06,284.61 288.86,284.57 289.65,284.53 290.44,284.49 291.23,284.45 292.02,284.41 292.81,284.37 293.60,284.32 294.38,284.27 295.17,284.23 295.96,284.18 296.75,284.13 297.53,284.08 298.32,284.03 299.11,283.98 299.89,283.93 300.68,283.88 301.47,283.83 302.26,283.78 303.05,283.72 303.83,283.67 304.62,283.62 305.41,283.57 306.20,283.52 306.99,283.46 307.79,283.41 308.58,283.36 309.37,283.31 310.17,283.26 310.96,283.21 311.76,283.16 312.55,283.11 313.35,283.06 314.15,283.02 314.95,282.97 315.76,282.93 316.56,282.88 317.37,282.84 318.18,282.80 318.98,282.76 319.80,282.72 320.61,282.69 321.42,282.65 322.24,282.62 323.06,282.58 323.88,282.55 324.70,282.52 325.52,282.49 326.34,282.45 327.17,282.41 327.99,282.37 328.82,282.33 329.64,282.29 330.47,282.24 331.29,282.18 332.11,282.12 332.94,282.06 333.76,281.98 334.58,281.91 335.40,281.82 336.22,281.73 337.04,281.62 337.85,281.51 338.66,281.39 339.46,281.26 340.26,281.12 341.06,280.97 341.85,280.80 342.63,280.63 343.40,280.44 344.17,280.23 344.93,280.02 345.68,279.79 346.42,279.54 347.15,279.28 347.88,279.00 348.59,278.71 349.28,278.40 349.97,278.07 350.64,277.72 351.31,277.36 351.96,276.98 352.60,276.58 353.23,276.17 353.84,275.75 354.45,275.30 355.04,274.85 355.63,274.38 356.20,273.89 356.77,273.39 357.32,272.88 357.87,272.36 358.41,271.82 358.93,271.27 359.45,270.71 359.96,270.14 360.46,269.56 360.95,268.96 361.43,268.36 361.90,267.75 362.37,267.12 362.83,266.49 363.28,265.85 363.72,265.20 364.15,264.55 364.58,263.88 365.00,263.21 365.42,262.53 365.83,261.84 366.23,261.15 366.62,260.46 367.01,259.75 367.39,259.05 367.77,258.33 368.14,257.62 368.51,256.90 368.87,256.17 369.23,255.44 369.58,254.71 369.92,253.98 370.27,253.25 370.60,252.51 370.94,251.77 371.27,251.03 371.60,250.30 371.92,249.56 372.24,248.82 372.55,248.07 372.87,247.33 373.18,246.59 373.49,245.85 373.79,245.10 374.10,244.36 374.40,243.62 374.70,242.87 375.00,242.13 375.30,241.38 375.59,240.64 375.89,239.89 376.18,239.15 376.48,238.40 376.77,237.65 377.07,236.91 377.36,236.16 377.65,235.41 377.95,234.66 378.24,233.92 378.54,233.17 378.84,232.42 379.13,231.67 379.43,230.93 379.74,230.18 380.04,229.43 380.34,228.68 380.65,227.94 380.96,227.19 381.27,226.44 381.59,225.70 381.91,224.95 382.23,224.20 382.55,223.46 382.88,222.71 383.21,221.97 383.55,221.22 383.89,220.48 384.23,219.73 384.58,218.99 384.94,218.25 385.30,217.51 385.66,216.78 386.03,216.05 386.40,215.32 386.79,214.60 387.17,213.88 387.56,213.17 387.96,212.47 388.37,211.77 388.78,211.07 389.20,210.38 389.63,209.71 390.06,209.03 390.50,208.37 390.95,207.72 391.41,207.07 391.87,206.44 392.35,205.81 392.83,205.20 393.32,204.59 393.82,204.00 394.33,203.42 394.85,202.85 395.37,202.30 395.91,201.76 396.46,201.23 397.02,200.71 397.58,200.21 398.16,199.73 398.75,199.26 399.35,198.81 399.96,198.37 400.58,197.95 401.21,197.55 401.86,197.16 402.51,196.80 403.18,196.44 403.86,196.11 404.54,195.79 405.24,195.48 405.95,195.19 406.66,194.92 407.39,194.65 408.12,194.41 408.86,194.17 409.61,193.95 410.36,193.74 411.13,193.54 411.90,193.35 412.67,193.17 413.46,193.01 414.24,192.85 415.04,192.70 415.84,192.56 416.64,192.43 417.45,192.31 418.26,192.20 419.08,192.09 419.90,191.99 420.72,191.90 421.55,191.81 422.38,191.73 423.21,191.66 424.04,191.59 424.88,191.52 425.71,191.46 426.55,191.40 427.38,191.34 428.22,191.29 429.06,191.24 429.89,191.19 430.73,191.14 431.57,191.09 432.40,191.04 433.23,190.99 434.06,190.95 434.89,190.90 435.71,190.85 436.53,190.80 437.35,190.74 438.16,190.69 438.97,190.63 439.78,190.56 440.58,190.50 441.38,190.42 442.17,190.35 442.95,190.27 443.73,190.18 444.50,190.09 445.27,189.99 446.03,189.88 446.78,189.77 447.52,189.64 448.26,189.51 448.99,189.37 449.70,189.23 450.41,189.07 451.11,188.90 451.80,188.72 452.49,188.53 453.16,188.33" fill="none" stroke="#1a1aff" stroke-width="1.50" stroke-linejoin="round" />
<polyline points="270.61,297.71 271.37,297.67 272.14,297.64 272.91,297.60 273.68,297.56 274.45,297.53 275.23,297.49 276.01,297.46 276.78,297.43 277.56,297.40 278.34,297.37 279.13,297.34 279.91,297.31 280.69,297.28 281.48,297.25 282.27,297.22 283.06,297.20 283.85,297.17 284.64,297.14 285.43,297.11 286.23,297.09 287.02,297.06 287.82,297.03 288.61,297.01 289.41,296.98 290.21,296.95 291.01,296.92 291.81,296.90 292.61,296.87 293.41,296.84 294.22,296.81 295.02,296.78 295.83,296.75 296.63,296.72 297.44,296.69 298.24,296.66 299.05,296.62 299.86,296.59 300.66,296.55 301.47,296.52 302.28,296.48 303.09,296.44 303.90,296.40 304.70,296.36 305.51,296.32 306.32,296.27 307.13,296.23 307.94,296.18 308.75,296.13 309.56,296.08 310.37,296.03 311.18,295.98 311.99,295.92 312.80,295.87 313.61,295.81 314.41,295.75 315.22,295.68 316.03,295.62 316.84,295.55 317.64,295.48 318.45,295.41 319.26,295.34 320.06,295.26 320.87,295.18 321.67,295.10 322.48,295.02 323.28,294.93 324.08,294.84 324.88,294.75 325.68,294.65 326.48,294.55 327.28,294.45 328.08,294.35 328.87,294.24 329.67,294.13 330.46,294.01 331.25,293.88 332.04,293.75 332.82,293.62 333.60,293.47 334.38,293.32 335.15,293.17 335.92,293.00 336.69,292.83 337.45,292.65 338.20,292.46 338.95,292.26 339.70,292.05 340.44,291.83 341.17,291.60 341.90,291.35 342.63,291.10 343.34,290.84 344.05,290.56 344.75,290.27 345.45,289.96 346.14,289.65 346.82,289.32 347.49,288.97 348.15,288.61 348.81,288.24 349.45,287.85 350.09,287.44 350.72,287.02 351.34,286.58 351.94,286.12 352.54,285.65 353.13,285.16 353.71,284.65 354.28,284.12 354.83,283.58 355.38,283.02 355.92,282.45 356.45,281.86 356.97,281.26 357.48,280.64 357.98,280.01 358.47,279.37 358.96,278.72 359.43,278.06 359.90,277.39 360.36,276.70 360.81,276.01 361.25,275.31 361.69,274.61 362.12,273.89 362.54,273.17 362.95,272.45 363.35,271.71 363.75,270.98 364.15,270.24 364.53,269.49 364.91,268.75 365.28,268.00 365.65,267.25 366.01,266.49 366.37,265.74 366.72,264.99 367.06,264.24 367.40,263.49 367.73,262.74 368.06,262.00 368.38,261.26 368.70,260.51 369.02,259.78 369.33,259.04 369.63,258.30 369.93,257.57 370.23,256.83 370.53,256.10 370.82,255.37 371.11,254.64 371.39,253.91 371.68,253.19 371.96,252.46 372.23,251.73 372.51,251.01 372.78,250.28 373.05,249.55 373.32,248.83 373.59,248.10 373.86,247.38 374.12,246.65 374.39,245.93 374.65,245.20 374.91,244.47 375.18,243.75 375.44,243.02 375.70,242.29 375.97,241.56 376.23,240.83 376.49,240.10 376.76,239.36 377.02,238.63 377.29,237.89 377.55,237.15 377.82,236.41 378.09,235.67 378.37,234.92 378.64,234.18 378.92,233.43 379.19,232.68 379.48,231.92 379.76,231.17 380.05,230.41 380.34,229.65 380.63,228.89 380.93,228.12 381.23,227.36 381.53,226.59 381.84,225.82 382.15,225.06 382.46,224.29 382.78,223.52 383.11,222.76 383.44,222.00 383.77,221.24 384.11,220.48 384.46,219.72 384.81,218.97 385.17,218.22 385.53,217.47 385.90,216.73 386.27,215.99 386.65,215.26 387.04,214.54 387.43,213.82 387.83,213.10 388.24,212.39 388.65,211.69 389.08,211.00 389.51,210.31 389.94,209.63 390.39,208.96 390.84,208.30 391.30,207.65 391.77,207.01 392.25,206.38 392.74,205.76 393.24,205.15 393.74,204.55 394.26,203.96 394.78,203.38 395.31,202.82 395.86,202.27 396.41,201.73 396.97,201.21 397.55,200.70 398.13,200.20 398.73,199.72 399.33,199.25 399.94,198.80 400.57,198.36 401.20,197.93 401.84,197.52 402.49,197.13 403.15,196.75 403.82,196.38 404.50,196.03 405.18,195.69 405.87,195.36 406.57,195.06 407.28,194.76 407.99,194.48 408.71,194.21 409.44,193.96 410.17,193.73 410.91,193.51 411.66,193.30 412.41,193.11 413.17,192.93 413.93,192.76 414.70,192.61 415.47,192.47 416.24,192.34 417.02,192.22 417.81,192.11 418.60,192.00 419.39,191.91 420.19,191.83 420.99,191.75 421.79,191.67 422.59,191.61 423.40,191.54 424.21,191.48 425.02,191.43 425.84,191.37 426.65,191.32 427.47,191.28 428.29,191.23 429.11,191.18 429.93,191.14 430.75,191.09 431.57,191.05 432.39,191.00 433.21,190.96 434.03,190.91 434.85,190.86 435.67,190.81 436.49,190.76 437.30,190.70 438.12,190.64 438.93,190.58 439.74,190.51 440.55,190.44 441.36,190.36 442.16,190.28 442.97,190.19 443.76,190.10 444.56,190.00 445.35,189.89 446.14,189.77 446.92,189.65 447.70,189.52 448.48,189.38 449.25,189.23 450.02,189.08 450.78,188.91 451.53,188.73 452.28,188.54 453.03,188.34 453.76,188.13" fill="none" stroke="#00ffff" stroke-width="1.50" stroke-linejoin="round" />
<polyline points="270.71,309.10 271.45,309.08 272.20,309.05 272.95,309.03 273.70,309.00 274.46,308.98 275.22,308.95 275.98,308.92 276.74,308.89 277.51,308.86 278.28,308.83 279.06,308.80 279.83,308.77 280.61,308.74 281.39,308.70 282.18,308.67 282.96,308.63 283.75,308.59 284.54,308.55 285.33,308.51 286.13,308.47 286.92,308.43 287.72,308.38 288.52,308.34 289.32,308.29 290.12,308.25 290.93,308.20 291.73,308.15 292.54,308.10 293.34,308.04 294.15,307.99 294.96,307.93 295.77,307.88 296.58,307.82 297.40,307.76 298.21,307.70 299.02,307.64 299.84,307.57 300.65,307.51 301.46,307.44 302.28,307.37 303.09,307.30 303.91,307.23 304.72,307.15 305.54,307.08 306.35,307.00 307.17,306.92 307.98,306.84 308.79,306.76 309.61,306.68 310.42,306.59 311.23,306.50 312.04,306.41 312.85,306.32 313.66,306.23 314.46,306.13 315.27,306.04 316.07,305.94 316.88,305.84 317.68,305.74 318.48,305.63 319.28,305.52 320.08,305.42 320.87,305.31 321.67,305.19 322.46,305.08 323.25,304.96 324.04,304.84 324.82,304.72 325.60,304.60 326.39,304.47 327.16,304.34 327.94,304.21 328.71,304.08 329.48,303.94 330.25,303.79 331.01,303.64 331.77,303.48 332.53,303.32 333.28,303.15 334.03,302.97 334.77,302.78 335.51,302.59 336.25,302.38 336.98,302.16 337.70,301.94 338.42,301.70 339.14,301.45 339.85,301.18 340.55,300.91 341.25,300.62 341.94,300.31 342.63,299.99 343.31,299.66 343.99,299.31 344.65,298.94 345.32,298.56 345.97,298.16 346.62,297.74 347.26,297.31 347.89,296.86 348.52,296.40 349.14,295.92 349.75,295.43 350.35,294.93 350.94,294.41 351.53,293.88 352.11,293.34 352.68,292.79 353.24,292.22 353.79,291.65 354.33,291.06 354.86,290.46 355.38,289.85 355.90,289.24 356.40,288.61 356.90,287.97 357.38,287.33 357.86,286.68 358.32,286.02 358.78,285.35 359.23,284.67 359.67,283.99 360.10,283.30 360.53,282.60 360.94,281.90 361.35,281.19 361.76,280.48 362.15,279.76 362.54,279.04 362.92,278.31 363.29,277.58 363.66,276.84 364.02,276.10 364.37,275.36 364.72,274.61 365.06,273.86 365.40,273.11 365.73,272.36 366.05,271.60 366.37,270.85 366.69,270.09 367.00,269.33 367.31,268.57 367.61,267.81 367.91,267.05 368.20,266.29 368.49,265.53 368.78,264.78 369.06,264.02 369.34,263.27 369.62,262.51 369.90,261.76 370.17,261.02 370.44,260.27 370.70,259.52 370.97,258.78 371.23,258.04 371.49,257.29 371.75,256.55 372.00,255.81 372.26,255.08 372.51,254.34 372.76,253.60 373.01,252.86 373.26,252.13 373.51,251.39 373.76,250.66 374.01,249.92 374.25,249.19 374.50,248.45 374.75,247.72 374.99,246.98 375.24,246.25 375.48,245.51 375.73,244.77 375.98,244.04 376.23,243.30 376.47,242.56 376.72,241.82 376.97,241.08 377.23,240.34 377.48,239.59 377.73,238.85 377.99,238.10 378.25,237.36 378.50,236.61 378.77,235.86 379.03,235.10 379.29,234.35 379.56,233.59 379.83,232.83 380.11,232.07 380.38,231.31 380.66,230.54 380.94,229.77 381.23,229.00 381.52,228.23 381.81,227.46 382.11,226.69 382.41,225.91 382.71,225.14 383.02,224.37 383.34,223.60 383.66,222.83 383.98,222.06 384.31,221.29 384.64,220.53 384.98,219.77 385.32,219.01 385.67,218.25 386.03,217.50 386.39,216.76 386.76,216.02 387.13,215.28 387.51,214.55 387.90,213.82 388.29,213.11 388.70,212.39 389.11,211.69 389.52,210.99 389.94,210.30 390.38,209.62 390.82,208.95 391.26,208.28 391.72,207.63 392.18,206.98 392.66,206.35 393.14,205.72 393.63,205.11 394.13,204.51 394.64,203.92 395.15,203.34 395.68,202.77 396.22,202.22 396.77,201.68 397.32,201.15 397.89,200.64 398.47,200.14 399.06,199.66 399.66,199.19 400.27,198.73 400.88,198.29 401.51,197.86 402.15,197.45 402.79,197.05 403.45,196.67 404.11,196.30 404.78,195.94 405.46,195.60 406.14,195.27 406.84,194.96 407.54,194.67 408.25,194.38 408.96,194.11 409.68,193.86 410.41,193.62 411.15,193.40 411.89,193.19 412.63,192.99 413.39,192.81 414.14,192.64 414.91,192.49 415.67,192.34 416.45,192.21 417.22,192.09 418.00,191.98 418.79,191.87 419.58,191.78 420.37,191.69 421.17,191.61 421.97,191.53 422.77,191.47 423.57,191.40 424.38,191.34 425.19,191.29 426.00,191.23 426.82,191.18 427.63,191.14 428.45,191.09 429.27,191.05 430.09,191.00 430.91,190.96 431.73,190.92 432.55,190.87 433.37,190.83 434.19,190.78 435.01,190.74 435.83,190.69 436.65,190.64 437.47,190.58 438.29,190.52 439.10,190.46 439.92,190.40 440.73,190.33 441.54,190.25 442.35,190.17 443.15,190.08 443.96,189.99 444.76,189.89 445.55,189.78 446.35,189.67 447.14,189.55 447.92,189.41 448.71,189.27 449.49,189.12 450.26,188.96 451.03,188.79 451.79,188.61 452.55,188.42 453.30,188.22 454.05,188.00" fill="none" stroke="#ff00ff" stroke-width="1.50" stroke-linejoin="round" />
<polyline points="270.38,322.17 271.21,322.14 272.03,322.11 272.85,322.09 273.66,322.07 274.47,322.05 275.28,322.03 276.08,322.02 276.88,322.00 277.68,321.99 278.47,321.97 279.27,321.96 280.06,321.95 280.85,321.93 281.63,321.92 282.42,321.91 283.20,321.89 283.98,321.88 284.76,321.86 285.54,321.84 286.32,321.82 287.10,321.80 287.88,321.77 288.66,321.75 289.43,321.72 290.21,321.68 290.99,321.65 291.77,321.61 292.54,321.57 293.32,321.52 294.10,321.47 294.88,321.42 295.67,321.36 296.45,321.30 297.23,321.23 298.02,321.15 298.81,321.08 299.60,320.99 300.39,320.90 301.19,320.81 301.99,320.71 302.79,320.60 303.59,320.49 304.39,320.38 305.20,320.26 306.01,320.14 306.82,320.02 307.63,319.89 308.44,319.76 309.25,319.63 310.07,319.50 310.88,319.37 311.70,319.24 312.52,319.11 313.34,318.97 314.16,318.84 314.98,318.71 315.81,318.59 316.63,318.46 317.46,318.33 318.28,318.21 319.11,318.09 319.93,317.97 320.76,317.85 321.58,317.73 322.40,317.61 323.21,317.49 324.02,317.37 324.83,317.24 325.64,317.11 326.43,316.97 327.23,316.83 328.01,316.68 328.79,316.53 329.56,316.36 330.32,316.19 331.08,316.02 331.82,315.83 332.56,315.63 333.28,315.43 334.00,315.21 334.71,314.98 335.42,314.74 336.11,314.49 336.80,314.22 337.48,313.95 338.15,313.65 338.81,313.35 339.46,313.02 340.11,312.69 340.75,312.33 341.38,311.96 342.00,311.57 342.62,311.17 343.22,310.74 343.83,310.30 344.42,309.84 345.01,309.36 345.58,308.86 346.16,308.34 346.72,307.80 347.28,307.25 347.83,306.68 348.37,306.10 348.91,305.50 349.44,304.89 349.97,304.27 350.49,303.64 351.00,303.00 351.50,302.35 352.00,301.69 352.49,301.02 352.98,300.35 353.46,299.67 353.93,298.99 354.40,298.30 354.86,297.61 355.32,296.92 355.77,296.23 356.22,295.54 356.66,294.84 357.09,294.15 357.52,293.46 357.94,292.77 358.36,292.07 358.77,291.38 359.18,290.69 359.58,289.99 359.98,289.30 360.37,288.60 360.76,287.90 361.14,287.21 361.52,286.51 361.89,285.81 362.26,285.11 362.63,284.41 362.99,283.70 363.34,283.00 363.69,282.30 364.04,281.59 364.38,280.88 364.72,280.17 365.05,279.46 365.39,278.75 365.71,278.04 366.04,277.32 366.35,276.61 366.67,275.89 366.98,275.17 367.29,274.44 367.60,273.72 367.90,272.99 368.20,272.27 368.49,271.53 368.78,270.80 369.07,270.07 369.36,269.33 369.64,268.59 369.92,267.85 370.20,267.10 370.48,266.36 370.75,265.61 371.02,264.85 371.28,264.10 371.55,263.34 371.81,262.58 372.07,261.82 372.33,261.06 372.59,260.30 372.84,259.53 373.09,258.77 373.35,258.00 373.59,257.23 373.84,256.46 374.09,255.68 374.33,254.91 374.58,254.14 374.82,253.36 375.06,252.59 375.30,251.81 375.54,251.03 375.78,250.25 376.01,249.48 376.25,248.70 376.49,247.92 376.72,247.14 376.96,246.36 377.19,245.58 377.43,244.81 377.66,244.03 377.90,243.25 378.13,242.47 378.36,241.70 378.60,240.92 378.83,240.15 379.07,239.37 379.30,238.60 379.54,237.83 379.78,237.05 380.02,236.29 380.25,235.52 380.49,234.75 380.73,233.98 380.97,233.22 381.22,232.46 381.46,231.70 381.71,230.94 381.96,230.18 382.21,229.43 382.46,228.68 382.72,227.93 382.98,227.18 383.25,226.44 383.51,225.69 383.79,224.96 384.06,224.22 384.34,223.49 384.63,222.75 384.92,222.03 385.21,221.30 385.52,220.58 385.82,219.86 386.14,219.15 386.45,218.44 386.78,217.73 387.11,217.03 387.45,216.33 387.80,215.63 388.15,214.94 388.51,214.26 388.88,213.57 389.26,212.90 389.65,212.22 390.04,211.55 390.45,210.89 390.86,210.23 391.28,209.57 391.71,208.92 392.16,208.28 392.61,207.64 393.07,207.00 393.54,206.37 394.03,205.75 394.52,205.13 395.03,204.51 395.55,203.91 396.08,203.31 396.62,202.71 397.17,202.13 397.74,201.55 398.31,200.98 398.89,200.42 399.49,199.88 400.09,199.34 400.70,198.82 401.33,198.31 401.96,197.81 402.60,197.33 403.25,196.86 403.91,196.41 404.58,195.98 405.25,195.56 405.93,195.17 406.62,194.79 407.32,194.43 408.03,194.09 408.74,193.77 409.46,193.47 410.18,193.20 410.91,192.95 411.65,192.72 412.39,192.52 413.14,192.34 413.90,192.18 414.66,192.05 415.42,191.93 416.19,191.84 416.96,191.75 417.74,191.69 418.52,191.63 419.31,191.58 420.10,191.55 420.89,191.52 421.69,191.49 422.49,191.47 423.29,191.45 424.10,191.43 424.90,191.41 425.71,191.38 426.52,191.35 427.33,191.32 428.15,191.28 428.96,191.24 429.78,191.19 430.60,191.14 431.41,191.09 432.23,191.03 433.05,190.97 433.86,190.91 434.68,190.84 435.50,190.77 436.31,190.69 437.13,190.61 437.94,190.53 438.75,190.44 439.56,190.35 440.37,190.26 441.18,190.16 441.98,190.06 442.78,189.95 443.58,189.84 444.37,189.73 445.17,189.62 445.95,189.50 446.74,189.38 447.52,189.25 448.30,189.13 449.07,188.99 449.84,188.86 450.60,188.72 451.36,188.58 452.11,188.44 452.85,188.29 453.60,188.14 454.33,187.98" fill="none" stroke="#ffff00" stroke-width="1.50" stroke-linejoin="round" />
<rect x="270.20" y="186.60" width="183.80" height="148.90" fill="none" stroke="#1a1a1a" stroke-width="1.30"/>
<line x1="270.20" y1="191.00" x2="267.20" y2="191.00" stroke="#1a1a1a" stroke-width="1.00"/>
<line x1="270.20" y1="213.20" x2="267.20" y2="213.20" stroke="#1a1a1a" stroke-width="1.00"/>
<line x1="270.20" y1="235.40" x2="267.20" y2="235.40" stroke="#1a1a1a" stroke-width="1.00"/>
<line x1="270.20" y1="257.60" x2="267.20" y2="257.60" stroke="#1a1a1a" stroke-width="1.00"/>
<line x1="270.20" y1="279.80" x2="267.20" y2="279.80" stroke="#1a1a1a" stroke-width="1.00"/>
<line x1="270.20" y1="302.00" x2="267.20" y2="302.00" stroke="#1a1a1a" stroke-width="1.00"/>
<line x1="270.20" y1="324.20" x2="267.20" y2="324.20" stroke="#1a1a1a" stroke-width="1.00"/>
<line x1="270.20" y1="202.10" x2="268.70" y2="202.10" stroke="#1a1a1a" stroke-width="1.00"/>
<line x1="270.20" y1="224.30" x2="268.70" y2="224.30" stroke="#1a1a1a" stroke-width="1.00"/>
<line x1="270.20" y1="246.50" x2="268.70" y2="246.50" stroke="#1a1a1a" stroke-width="1.00"/>
<line x1="270.20" y1="268.70" x2="268.70" y2="268.70" stroke="#1a1a1a" stroke-width="1.00"/>
<line x1="270.20" y1="290.90" x2="268.70" y2="290.90" stroke="#1a1a1a" stroke-width="1.00"/>
<line x1="270.20" y1="313.10" x2="268.70" y2="313.10" stroke="#1a1a1a" stroke-width="1.00"/>
<line x1="270.20" y1="335.28" x2="268.70" y2="335.28" stroke="#1a1a1a" stroke-width="1.00"/>
<text x="265.20" y="193.90" font-family='"Liberation Sans", sans-serif' font-size="8.20" font-weight="bold" text-anchor="end" fill="#111"  stroke="#111" stroke-width="0.25">0</text>
<text x="265.20" y="216.10" font-family='"Liberation Sans", sans-serif' font-size="8.20" font-weight="bold" text-anchor="end" fill="#111"  stroke="#111" stroke-width="0.25">-1</text>
<text x="265.20" y="238.30" font-family='"Liberation Sans", sans-serif' font-size="8.20" font-weight="bold" text-anchor="end" fill="#111"  stroke="#111" stroke-width="0.25">-2</text>
<text x="265.20" y="260.50" font-family='"Liberation Sans", sans-serif' font-size="8.20" font-weight="bold" text-anchor="end" fill="#111"  stroke="#111" stroke-width="0.25">-3</text>
<text x="265.20" y="282.70" font-family='"Liberation Sans", sans-serif' font-size="8.20" font-weight="bold" text-anchor="end" fill="#111"  stroke="#111" stroke-width="0.25">-4</text>
<text x="265.20" y="304.90" font-family='"Liberation Sans", sans-serif' font-size="8.20" font-weight="bold" text-anchor="end" fill="#111"  stroke="#111" stroke-width="0.25">-5</text>
<text x="265.20" y="327.10" font-family='"Liberation Sans", sans-serif' font-size="8.20" font-weight="bold" text-anchor="end" fill="#111"  stroke="#111" stroke-width="0.25">-6</text>
<line x1="270.20" y1="335.50" x2="270.20" y2="338.00" stroke="#1a1a1a" stroke-width="1.00"/>
<line x1="316.14" y1="335.50" x2="316.14" y2="338.00" stroke="#1a1a1a" stroke-width="1.00"/>
<line x1="362.08" y1="335.50" x2="362.08" y2="338.00" stroke="#1a1a1a" stroke-width="1.00"/>
<line x1="408.02" y1="335.50" x2="408.02" y2="338.00" stroke="#1a1a1a" stroke-width="1.00"/>
<line x1="453.96" y1="335.50" x2="453.96" y2="338.00" stroke="#1a1a1a" stroke-width="1.00"/>
<line x1="293.17" y1="335.50" x2="293.17" y2="336.90" stroke="#1a1a1a" stroke-width="1.00"/>
<line x1="339.11" y1="335.50" x2="339.11" y2="336.90" stroke="#1a1a1a" stroke-width="1.00"/>
<line x1="385.05" y1="335.50" x2="385.05" y2="336.90" stroke="#1a1a1a" stroke-width="1.00"/>
<line x1="430.99" y1="335.50" x2="430.99" y2="336.90" stroke="#1a1a1a" stroke-width="1.00"/>
<text x="270.20" y="346.90" font-family='"Liberation Sans", sans-serif' font-size="8.50" font-weight="bold" text-anchor="middle" fill="#111"  stroke="#111" stroke-width="0.25">0.2</text>
<text x="316.14" y="346.90" font-family='"Liberation Sans", sans-serif' font-size="8.50" font-weight="bold" text-anchor="middle" fill="#111"  stroke="#111" stroke-width="0.25">0.4</text>
<text x="362.08" y="346.90" font-family='"Liberation Sans", sans-serif' font-size="8.50" font-weight="bold" text-anchor="middle" fill="#111"  stroke="#111" stroke-width="0.25">0.6</text>
<text x="408.02" y="346.90" font-family='"Liberation Sans", sans-serif' font-size="8.50" font-weight="bold" text-anchor="middle" fill="#111"  stroke="#111" stroke-width="0.25">0.8</text>
<text x="453.96" y="346.90" font-family='"Liberation Sans", sans-serif' font-size="8.50" font-weight="bold" text-anchor="middle" fill="#111"  stroke="#111" stroke-width="0.25">1.0</text>
<text x="361.80" y="360.90" font-family='"Liberation Serif", serif' font-size="8.50" font-weight="bold" text-anchor="middle" fill="#111"  stroke="#111" stroke-width="0.25">Potential (V vs RHE)</text>
<text x="248.70" y="256.30" font-family='"Liberation Serif", serif' font-size="8.40" font-weight="bold" text-anchor="middle" fill="#111" transform="rotate(-90.00 248.70 256.30)"  stroke="#111" stroke-width="0.25">Current density (mA cm<tspan dy="-3" font-size="5.5">-2</tspan><tspan dy="3">)</tspan></text>
<line x1="387.70" y1="254.80" x2="405.80" y2="254.80" stroke="#111111" stroke-width="1.50"/>
<text x="408.20" y="257.80" font-family='"Liberation Sans", sans-serif' font-size="8.00" font-weight="normal" text-anchor="start" fill="#111111"  stroke="#111111" stroke-width="0.25">400 rpm</text>
<line x1="387.70" y1="264.60" x2="405.80" y2="264.60" stroke="#ff1a1a" stroke-width="1.50"/>
<text x="408.20" y="267.60" font-family='"Liberation Sans", sans-serif' font-size="8.00" font-weight="normal" text-anchor="start" fill="#ff1a1a"  stroke="#ff1a1a" stroke-width="0.25">625 rpm</text>
<line x1="387.70" y1="274.40" x2="405.80" y2="274.40" stroke="#00ee00" stroke-width="1.50"/>
<text x="408.20" y="277.40" font-family='"Liberation Sans", sans-serif' font-size="8.00" font-weight="normal" text-anchor="start" fill="#00ee00"  stroke="#00ee00" stroke-width="0.25">900 rpm</text>
<line x1="387.70" y1="284.20" x2="405.80" y2="284.20" stroke="#1a1aff" stroke-width="1.50"/>
<text x="408.20" y="287.20" font-family='"Liberation Sans", sans-serif' font-size="8.00" font-weight="normal" text-anchor="start" fill="#1a1aff"  stroke="#1a1aff" stroke-width="0.25">1225 rpm</text>
<line x1="387.70" y1="294.00" x2="405.80" y2="294.00" stroke="#00ffff" stroke-width="1.50"/>
<text x="408.20" y="297.00" font-family='"Liberation Sans", sans-serif' font-size="8.00" font-weight="normal" text-anchor="start" fill="#00ffff"  stroke="#00ffff" stroke-width="0.25">1600 rpm</text>
<line x1="387.70" y1="303.80" x2="405.80" y2="303.80" stroke="#ff00ff" stroke-width="1.50"/>
<text x="408.20" y="306.80" font-family='"Liberation Sans", sans-serif' font-size="8.00" font-weight="normal" text-anchor="start" fill="#ff00ff"  stroke="#ff00ff" stroke-width="0.25">2025 rpm</text>
<line x1="387.70" y1="313.60" x2="405.80" y2="313.60" stroke="#ffff00" stroke-width="1.50"/>
<text x="408.20" y="316.60" font-family='"Liberation Sans", sans-serif' font-size="8.00" font-weight="normal" text-anchor="start" fill="#ffff00"  stroke="#ffff00" stroke-width="0.25">2500 rpm</text>
<text x="234.40" y="189.40" font-family='"Liberation Sans", sans-serif' font-size="13.60" font-weight="bold" text-anchor="start" fill="#111"  stroke="#111" stroke-width="0.25">(d)</text>
<polyline points="60.96,396.38 61.66,396.35 62.36,396.32 63.05,396.29 63.75,396.25 64.45,396.21 65.15,396.17 65.85,396.13 66.54,396.08 67.24,396.04 67.94,395.99 68.64,395.94 69.33,395.88 70.03,395.83 70.73,395.77 71.43,395.72 72.12,395.66 72.82,395.60 73.52,395.54 74.22,395.48 74.91,395.42 75.61,395.35 76.31,395.29 77.01,395.22 77.70,395.16 78.40,395.09 79.10,395.03 79.79,394.96 80.49,394.89 81.19,394.83 81.89,394.76 82.58,394.70 83.28,394.63 83.98,394.57 84.67,394.51 85.37,394.45 86.07,394.39 86.76,394.33 87.46,394.27 88.16,394.22 88.85,394.17 89.55,394.12 90.25,394.07 90.94,394.03 91.64,393.99 92.34,393.96 93.03,393.92 93.73,393.89 94.43,393.87 95.12,393.85 95.82,393.83 96.51,393.82 97.21,393.82 97.91,393.82 98.60,393.82 99.30,393.83 99.99,393.84 100.69,393.85 101.39,393.87 102.08,393.90 102.78,393.92 103.47,393.95 104.17,393.99 104.86,394.02 105.56,394.06 106.26,394.11 106.95,394.15 107.65,394.20 108.34,394.25 109.04,394.30 109.73,394.35 110.43,394.40 111.12,394.46 111.82,394.52 112.51,394.57 113.21,394.63 113.90,394.69 114.60,394.75 115.29,394.81 115.99,394.87 116.68,394.93 117.38,395.00 118.07,395.06 118.77,395.12 119.46,395.17 120.15,395.23 120.85,395.29 121.54,395.34 122.24,395.40 122.93,395.45 123.63,395.50 124.32,395.55 125.01,395.60 125.71,395.64 126.40,395.69 127.09,395.72 127.79,395.76 128.48,395.80 129.18,395.83 129.87,395.85 130.56,395.88 131.26,395.90 131.95,395.91 132.64,395.92 133.34,395.93 134.03,395.94 134.72,395.94 135.41,395.93 136.11,395.92 136.80,395.91 137.49,395.89 138.19,395.87 138.88,395.85 139.57,395.82 140.26,395.78 140.95,395.74 141.65,395.70 142.34,395.65 143.03,395.60 143.72,395.54 144.42,395.48 145.11,395.42 145.80,395.34 146.49,395.27 147.18,395.19 147.87,395.11 148.57,395.02 149.26,394.92 149.95,394.82 150.64,394.72 151.33,394.61 152.02,394.50 152.71,394.39 153.40,394.27 154.09,394.15 154.78,394.02 155.48,393.90 156.17,393.77 156.86,393.64 157.55,393.50 158.24,393.37 158.93,393.23 159.62,393.10 160.31,392.96 161.00,392.82 161.69,392.68 162.38,392.55 163.07,392.41 163.76,392.27 164.45,392.14 165.14,392.00 165.82,391.87 166.51,391.73 167.20,391.60 167.89,391.47 168.58,391.35 169.27,391.22 169.96,391.10 170.65,390.98 171.34,390.86 172.02,390.74 172.71,390.62 173.40,390.50 174.09,390.39 174.78,390.27 175.46,390.16 176.15,390.05 176.84,389.94 177.53,389.83 178.22,389.72 178.90,389.62 179.59,389.51 180.28,389.41 180.96,389.31 181.65,389.21 182.34,389.10 183.03,389.00 183.71,388.91 184.40,388.81 185.09,388.71 185.77,388.61 186.46,388.52 187.14,388.42 187.83,388.33 188.52,388.24 189.20,388.14 189.89,388.05 190.57,387.96 191.26,387.87 191.95,387.78 192.63,387.69 193.32,387.60 194.00,387.51 194.69,387.42 195.37,387.33 196.06,387.24 196.74,387.16 197.42,387.07" fill="none" stroke="#000000" stroke-width="4.20" stroke-linejoin="round" stroke-linecap="round"/>
<polyline points="60.95,466.18 61.64,466.23 62.34,466.28 63.04,466.33 63.73,466.38 64.43,466.43 65.12,466.49 65.82,466.55 66.52,466.61 67.21,466.68 67.91,466.74 68.61,466.81 69.30,466.88 70.00,466.95 70.69,467.02 71.39,467.09 72.09,467.17 72.78,467.24 73.48,467.32 74.18,467.40 74.87,467.48 75.57,467.56 76.27,467.64 76.96,467.72 77.66,467.80 78.36,467.89 79.05,467.97 79.75,468.06 80.45,468.14 81.14,468.23 81.84,468.31 82.54,468.40 83.23,468.48 83.93,468.57 84.62,468.65 85.32,468.74 86.02,468.83 86.71,468.91 87.41,468.99 88.11,469.08 88.80,469.16 89.50,469.24 90.19,469.33 90.89,469.41 91.58,469.49 92.28,469.57 92.98,469.65 93.67,469.72 94.37,469.80 95.06,469.87 95.76,469.94 96.45,470.01 97.15,470.08 97.84,470.15 98.54,470.21 99.23,470.26 99.93,470.32 100.62,470.36 101.32,470.41 102.01,470.44 102.71,470.48 103.40,470.50 104.09,470.52 104.79,470.54 105.48,470.55 106.17,470.55 106.87,470.54 107.56,470.52 108.25,470.50 108.95,470.47 109.64,470.42 110.33,470.37 111.03,470.31 111.72,470.24 112.41,470.17 113.10,470.08 113.79,469.99 114.49,469.90 115.18,469.80 115.87,469.69 116.56,469.58 117.25,469.47 117.94,469.36 118.63,469.24 119.32,469.13 120.01,469.01 120.70,468.90 121.39,468.78 122.08,468.67 122.77,468.56 123.46,468.46 124.15,468.36 124.84,468.26 125.53,468.17 126.22,468.09 126.90,468.01 127.59,467.94 128.28,467.88 128.97,467.83 129.65,467.79 130.34,467.76 131.03,467.74 131.71,467.72 132.40,467.72 133.09,467.72 133.77,467.73 134.46,467.75 135.14,467.78 135.83,467.82 136.51,467.86 137.20,467.92 137.88,467.97 138.56,468.04 139.25,468.11 139.93,468.19 140.61,468.28 141.30,468.38 141.98,468.48 142.66,468.58 143.34,468.70 144.02,468.81 144.70,468.94 145.38,469.07 146.06,469.21 146.74,469.35 147.42,469.49 148.10,469.64 148.78,469.80 149.46,469.96 150.14,470.13 150.82,470.30 151.50,470.47 152.17,470.65 152.85,470.83 153.53,471.02 154.20,471.21 154.88,471.40 155.56,471.60 156.23,471.79 156.91,472.00 157.58,472.20 158.25,472.41 158.93,472.62 159.60,472.83 160.28,473.04 160.95,473.26 161.62,473.48 162.29,473.70 162.96,473.92 163.63,474.14 164.31,474.36 164.98,474.59 165.65,474.81 166.32,475.04 166.98,475.26 167.65,475.49 168.32,475.72 168.99,475.95 169.66,476.18 170.32,476.41 170.99,476.64 171.66,476.86 172.32,477.09 172.99,477.32 173.65,477.55 174.32,477.78 174.98,478.01 175.64,478.24 176.31,478.46 176.97,478.69 177.63,478.92 178.29,479.14 178.95,479.37 179.61,479.59 180.27,479.81 180.93,480.03 181.59,480.25 182.25,480.47 182.91,480.68 183.57,480.90 184.23,481.11 184.88,481.32 185.54,481.53 186.19,481.74 186.85,481.94 187.50,482.15 188.16,482.35 188.81,482.54 189.46,482.74 190.12,482.93 190.77,483.12 191.42,483.31 192.07,483.49 192.72,483.68 193.37,483.85 194.02,484.03 194.67,484.20 195.32,484.37 195.97,484.53 196.61,484.70 197.26,484.85" fill="none" stroke="#ff0000" stroke-width="4.20" stroke-linejoin="round" stroke-linecap="round"/>
<line x1="58.40" y1="370.80" x2="200.60" y2="370.80" stroke="#1a1a1a" stroke-width="1.30"/>
<line x1="58.40" y1="370.80" x2="58.40" y2="512.00" stroke="#1a1a1a" stroke-width="1.30"/>
<line x1="58.40" y1="512.00" x2="200.60" y2="512.00" stroke="#1a1a1a" stroke-width="1.30"/>
<line x1="200.60" y1="370.80" x2="200.60" y2="512.00" stroke="#ff0000" stroke-width="1.30"/>
<line x1="58.40" y1="510.10" x2="54.00" y2="510.10" stroke="#1a1a1a" stroke-width="1.00"/>
<line x1="58.40" y1="475.95" x2="54.00" y2="475.95" stroke="#1a1a1a" stroke-width="1.00"/>
<line x1="58.40" y1="441.80" x2="54.00" y2="441.80" stroke="#1a1a1a" stroke-width="1.00"/>
<line x1="58.40" y1="407.65" x2="54.00" y2="407.65" stroke="#1a1a1a" stroke-width="1.00"/>
<line x1="58.40" y1="373.50" x2="54.00" y2="373.50" stroke="#1a1a1a" stroke-width="1.00"/>
<line x1="58.40" y1="503.27" x2="56.20" y2="503.27" stroke="#1a1a1a" stroke-width="1.00"/>
<line x1="58.40" y1="496.44" x2="56.20" y2="496.44" stroke="#1a1a1a" stroke-width="1.00"/>
<line x1="58.40" y1="489.61" x2="56.20" y2="489.61" stroke="#1a1a1a" stroke-width="1.00"/>
<line x1="58.40" y1="482.78" x2="56.20" y2="482.78" stroke="#1a1a1a" stroke-width="1.00"/>
<line x1="58.40" y1="469.12" x2="56.20" y2="469.12" stroke="#1a1a1a" stroke-width="1.00"/>
<line x1="58.40" y1="462.29" x2="56.20" y2="462.29" stroke="#1a1a1a" stroke-width="1.00"/>
<line x1="58.40" y1="455.46" x2="56.20" y2="455.46" stroke="#1a1a1a" stroke-width="1.00"/>
<line x1="58.40" y1="448.63" x2="56.20" y2="448.63" stroke="#1a1a1a" stroke-width="1.00"/>
<line x1="58.40" y1="434.97" x2="56.20" y2="434.97" stroke="#1a1a1a" stroke-width="1.00"/>
<line x1="58.40" y1="428.14" x2="56.20" y2="428.14" stroke="#1a1a1a" stroke-width="1.00"/>
<line x1="58.40" y1="421.31" x2="56.20" y2="421.31" stroke="#1a1a1a" stroke-width="1.00"/>
<line x1="58.40" y1="414.48" x2="56.20" y2="414.48" stroke="#1a1a1a" stroke-width="1.00"/>
<line x1="58.40" y1="400.82" x2="56.20" y2="400.82" stroke="#1a1a1a" stroke-width="1.00"/>
<line x1="58.40" y1="393.99" x2="56.20" y2="393.99" stroke="#1a1a1a" stroke-width="1.00"/>
<line x1="58.40" y1="387.16" x2="56.20" y2="387.16" stroke="#1a1a1a" stroke-width="1.00"/>
<line x1="58.40" y1="380.33" x2="56.20" y2="380.33" stroke="#1a1a1a" stroke-width="1.00"/>
<text x="51.60" y="513.10" font-family='"Liberation Sans", sans-serif' font-size="8.40" font-weight="bold" text-anchor="end" fill="#111"  stroke="#111" stroke-width="0.25">0</text>
<text x="51.60" y="478.95" font-family='"Liberation Sans", sans-serif' font-size="8.40" font-weight="bold" text-anchor="end" fill="#111"  stroke="#111" stroke-width="0.25">1</text>
<text x="51.60" y="444.80" font-family='"Liberation Sans", sans-serif' font-size="8.40" font-weight="bold" text-anchor="end" fill="#111"  stroke="#111" stroke-width="0.25">2</text>
<text x="51.60" y="410.65" font-family='"Liberation Sans", sans-serif' font-size="8.40" font-weight="bold" text-anchor="end" fill="#111"  stroke="#111" stroke-width="0.25">3</text>
<text x="51.60" y="376.50" font-family='"Liberation Sans", sans-serif' font-size="8.40" font-weight="bold" text-anchor="end" fill="#111"  stroke="#111" stroke-width="0.25">4</text>
<line x1="200.60" y1="510.30" x2="204.60" y2="510.30" stroke="#ff0000" stroke-width="1.00"/>
<line x1="200.60" y1="441.85" x2="204.60" y2="441.85" stroke="#ff0000" stroke-width="1.00"/>
<line x1="200.60" y1="373.40" x2="204.60" y2="373.40" stroke="#ff0000" stroke-width="1.00"/>
<line x1="200.60" y1="496.61" x2="202.80" y2="496.61" stroke="#ff0000" stroke-width="1.00"/>
<line x1="200.60" y1="482.92" x2="202.80" y2="482.92" stroke="#ff0000" stroke-width="1.00"/>
<line x1="200.60" y1="469.23" x2="202.80" y2="469.23" stroke="#ff0000" stroke-width="1.00"/>
<line x1="200.60" y1="455.54" x2="202.80" y2="455.54" stroke="#ff0000" stroke-width="1.00"/>
<line x1="200.60" y1="428.16" x2="202.80" y2="428.16" stroke="#ff0000" stroke-width="1.00"/>
<line x1="200.60" y1="414.47" x2="202.80" y2="414.47" stroke="#ff0000" stroke-width="1.00"/>
<line x1="200.60" y1="400.78" x2="202.80" y2="400.78" stroke="#ff0000" stroke-width="1.00"/>
<line x1="200.60" y1="387.09" x2="202.80" y2="387.09" stroke="#ff0000" stroke-width="1.00"/>
<text x="207.60" y="376.10" font-family='"Liberation Sans", sans-serif' font-size="8.00" font-weight="bold" text-anchor="start" fill="#ff0000"  stroke="#ff0000" stroke-width="0.25">100</text>
<text x="207.60" y="444.55" font-family='"Liberation Sans", sans-serif' font-size="8.00" font-weight="bold" text-anchor="start" fill="#ff0000"  stroke="#ff0000" stroke-width="0.25">50</text>
<text x="207.60" y="513.00" font-family='"Liberation Sans", sans-serif' font-size="8.00" font-weight="bold" text-anchor="start" fill="#ff0000"  stroke="#ff0000" stroke-width="0.25">0</text>
<line x1="60.60" y1="512.00" x2="60.60" y2="516.40" stroke="#1a1a1a" stroke-width="1.00"/>
<line x1="83.35" y1="512.00" x2="83.35" y2="516.40" stroke="#1a1a1a" stroke-width="1.00"/>
<line x1="106.10" y1="512.00" x2="106.10" y2="516.40" stroke="#1a1a1a" stroke-width="1.00"/>
<line x1="128.85" y1="512.00" x2="128.85" y2="516.40" stroke="#1a1a1a" stroke-width="1.00"/>
<line x1="151.60" y1="512.00" x2="151.60" y2="516.40" stroke="#1a1a1a" stroke-width="1.00"/>
<line x1="174.35" y1="512.00" x2="174.35" y2="516.40" stroke="#1a1a1a" stroke-width="1.00"/>
<line x1="197.10" y1="512.00" x2="197.10" y2="516.40" stroke="#1a1a1a" stroke-width="1.00"/>
<line x1="65.15" y1="512.00" x2="65.15" y2="514.20" stroke="#1a1a1a" stroke-width="1.00"/>
<line x1="69.70" y1="512.00" x2="69.70" y2="514.20" stroke="#1a1a1a" stroke-width="1.00"/>
<line x1="74.25" y1="512.00" x2="74.25" y2="514.20" stroke="#1a1a1a" stroke-width="1.00"/>
<line x1="78.80" y1="512.00" x2="78.80" y2="514.20" stroke="#1a1a1a" stroke-width="1.00"/>
<line x1="87.90" y1="512.00" x2="87.90" y2="514.20" stroke="#1a1a1a" stroke-width="1.00"/>
<line x1="92.45" y1="512.00" x2="92.45" y2="514.20" stroke="#1a1a1a" stroke-width="1.00"/>
<line x1="97.00" y1="512.00" x2="97.00" y2="514.20" stroke="#1a1a1a" stroke-width="1.00"/>
<line x1="101.55" y1="512.00" x2="101.55" y2="514.20" stroke="#1a1a1a" stroke-width="1.00"/>
<line x1="110.65" y1="512.00" x2="110.65" y2="514.20" stroke="#1a1a1a" stroke-width="1.00"/>
<line x1="115.20" y1="512.00" x2="115.20" y2="514.20" stroke="#1a1a1a" stroke-width="1.00"/>
<line x1="119.75" y1="512.00" x2="119.75" y2="514.20" stroke="#1a1a1a" stroke-width="1.00"/>
<line x1="124.30" y1="512.00" x2="124.30" y2="514.20" stroke="#1a1a1a" stroke-width="1.00"/>
<line x1="133.40" y1="512.00" x2="133.40" y2="514.20" stroke="#1a1a1a" stroke-width="1.00"/>
<line x1="137.95" y1="512.00" x2="137.95" y2="514.20" stroke="#1a1a1a" stroke-width="1.00"/>
<line x1="142.50" y1="512.00" x2="142.50" y2="514.20" stroke="#1a1a1a" stroke-width="1.00"/>
<line x1="147.05" y1="512.00" x2="147.05" y2="514.20" stroke="#1a1a1a" stroke-width="1.00"/>
<line x1="156.15" y1="512.00" x2="156.15" y2="514.20" stroke="#1a1a1a" stroke-width="1.00"/>
<line x1="160.70" y1="512.00" x2="160.70" y2="514.20" stroke="#1a1a1a" stroke-width="1.00"/>
<line x1="165.25" y1="512.00" x2="165.25" y2="514.20" stroke="#1a1a1a" stroke-width="1.00"/>
<line x1="169.80" y1="512.00" x2="169.80" y2="514.20" stroke="#1a1a1a" stroke-width="1.00"/>
<line x1="178.90" y1="512.00" x2="178.90" y2="514.20" stroke="#1a1a1a" stroke-width="1.00"/>
<line x1="183.45" y1="512.00" x2="183.45" y2="514.20" stroke="#1a1a1a" stroke-width="1.00"/>
<line x1="188.00" y1="512.00" x2="188.00" y2="514.20" stroke="#1a1a1a" stroke-width="1.00"/>
<line x1="192.55" y1="512.00" x2="192.55" y2="514.20" stroke="#1a1a1a" stroke-width="1.00"/>
<text x="60.60" y="528.00" font-family='"Liberation Sans", sans-serif' font-size="8.40" font-weight="bold" text-anchor="middle" fill="#111"  stroke="#111" stroke-width="0.25">0.2</text>
<text x="83.35" y="528.00" font-family='"Liberation Sans", sans-serif' font-size="8.40" font-weight="bold" text-anchor="middle" fill="#111"  stroke="#111" stroke-width="0.25">0.3</text>
<text x="106.10" y="528.00" font-family='"Liberation Sans", sans-serif' font-size="8.40" font-weight="bold" text-anchor="middle" fill="#111"  stroke="#111" stroke-width="0.25">0.4</text>
<text x="128.85" y="528.00" font-family='"Liberation Sans", sans-serif' font-size="8.40" font-weight="bold" text-anchor="middle" fill="#111"  stroke="#111" stroke-width="0.25">0.5</text>
<text x="151.60" y="528.00" font-family='"Liberation Sans", sans-serif' font-size="8.40" font-weight="bold" text-anchor="middle" fill="#111"  stroke="#111" stroke-width="0.25">0.6</text>
<text x="174.35" y="528.00" font-family='"Liberation Sans", sans-serif' font-size="8.40" font-weight="bold" text-anchor="middle" fill="#111"  stroke="#111" stroke-width="0.25">0.7</text>
<text x="197.10" y="528.00" font-family='"Liberation Sans", sans-serif' font-size="8.40" font-weight="bold" text-anchor="middle" fill="#111"  stroke="#111" stroke-width="0.25">0.8</text>
<text x="128.90" y="538.60" font-family='"Liberation Sans", sans-serif' font-size="9.50" font-weight="bold" text-anchor="middle" fill="#111"  stroke="#111" stroke-width="0.25">Potential (V vs.RHE)</text>
<text x="41.90" y="441.50" font-family='"Liberation Sans", sans-serif' font-size="9.65" font-weight="bold" text-anchor="middle" fill="#111" transform="rotate(-90.00 41.90 441.50)"  stroke="#111" stroke-width="0.25">Electron transfer number</text>
<text x="220.60" y="437.00" font-family='"Liberation Sans", sans-serif' font-size="9.70" font-weight="bold" text-anchor="middle" fill="#ff0000" transform="rotate(90.00 220.60 437.00)"  stroke="#ff0000" stroke-width="0.25">H<tspan dy="2" font-size="6">2</tspan><tspan dy="-2">O</tspan><tspan dy="2" font-size="6">2</tspan><tspan dy="-2"> yields (%)</tspan></text>
<text x="5.70" y="372.70" font-family='"Liberation Sans", sans-serif' font-size="13.60" font-weight="bold" text-anchor="start" fill="#111"  stroke="#111" stroke-width="0.25">(e)</text>
<polyline points="300.02,452.82 300.47,452.72 300.92,452.61 301.37,452.50 301.82,452.40 302.27,452.30 302.72,452.20 303.18,452.10 303.63,452.01 304.08,451.91 304.53,451.82 304.99,451.73 305.44,451.64 305.89,451.55 306.35,451.46 306.80,451.38 307.26,451.29 307.71,451.21 308.17,451.13 308.62,451.05 309.08,450.97 309.53,450.89 309.99,450.81 310.45,450.73 310.90,450.66 311.36,450.59 311.82,450.51 312.27,450.44 312.73,450.37 313.19,450.30 313.65,450.23 314.10,450.16 314.56,450.09 315.02,450.02 315.48,449.96 315.94,449.89 316.40,449.82 316.85,449.76 317.31,449.69 317.77,449.63 318.23,449.56 318.69,449.50 319.15,449.43 319.61,449.37 320.07,449.31 320.52,449.24 320.98,449.18 321.44,449.12 321.90,449.06 322.36,448.99 322.82,448.93 323.28,448.87 323.74,448.81 324.19,448.74 324.65,448.68 325.11,448.62 325.57,448.56 326.03,448.50 326.49,448.43 326.95,448.37 327.41,448.31 327.87,448.25 328.32,448.19 328.78,448.13 329.24,448.07 329.70,448.01 330.16,447.95 330.62,447.89 331.08,447.82 331.54,447.76 332.00,447.70 332.45,447.64 332.91,447.58 333.37,447.52 333.83,447.46 334.29,447.40 334.75,447.34 335.21,447.28 335.67,447.22 336.13,447.17 336.58,447.11 337.04,447.05 337.50,446.99 337.96,446.93 338.42,446.87 338.88,446.81 339.34,446.75 339.80,446.69 340.26,446.63 340.71,446.57 341.17,446.52 341.63,446.46 342.09,446.40 342.55,446.34 343.01,446.28 343.47,446.22 343.93,446.16 344.39,446.11 344.85,446.05 345.30,445.99 345.76,445.93 346.22,445.87 346.68,445.81 347.14,445.76 347.60,445.70 348.06,445.64 348.52,445.58 348.98,445.53 349.44,445.47 349.90,445.41 350.35,445.35 350.81,445.29 351.27,445.24 351.73,445.18 352.19,445.12 352.65,445.06 353.11,445.01 353.57,444.95 354.03,444.89 354.49,444.83 354.95,444.78 355.41,444.72 355.86,444.66 356.32,444.61 356.78,444.55 357.24,444.49 357.70,444.43 358.16,444.38 358.62,444.32 359.08,444.26 359.54,444.21 360.00,444.15 360.46,444.09 360.92,444.04 361.38,443.98 361.83,443.92 362.29,443.86 362.75,443.81 363.21,443.75 363.67,443.69 364.13,443.64 364.59,443.58 365.05,443.52 365.51,443.47 365.97,443.41 366.43,443.35 366.89,443.30 367.35,443.24 367.81,443.18 368.26,443.13 368.72,443.07 369.18,443.01 369.64,442.96 370.10,442.90 370.56,442.84 371.02,442.79 371.48,442.73 371.94,442.67 372.40,442.62 372.86,442.56 373.32,442.51 373.78,442.45 374.24,442.39 374.70,442.34 375.15,442.28 375.61,442.22 376.07,442.17 376.53,442.11 376.99,442.05 377.45,442.00 377.91,441.94 378.37,441.88 378.83,441.83 379.29,441.77 379.75,441.71 380.21,441.66 380.67,441.60 381.13,441.54 381.59,441.49 382.05,441.43 382.51,441.37 382.96,441.32 383.42,441.26 383.88,441.20 384.34,441.15 384.80,441.09 385.26,441.03 385.72,440.98 386.18,440.92 386.64,440.86 387.10,440.81 387.56,440.75 388.02,440.69 388.48,440.64 388.94,440.58 389.40,440.52 389.86,440.47 390.32,440.41 390.77,440.35 391.23,440.30 391.69,440.24 392.15,440.18 392.61,440.13 393.07,440.07 393.53,440.01 393.99,439.95 394.45,439.90 394.91,439.84 395.37,439.78 395.83,439.73 396.29,439.67 396.75,439.61 397.21,439.55 397.67,439.50 398.13,439.44 398.59,439.38 399.04,439.33 399.50,439.27 399.96,439.21 400.42,439.15 400.88,439.10 401.34,439.04 401.80,438.98 402.26,438.93 402.72,438.87 403.18,438.81 403.64,438.75 404.10,438.70 404.56,438.64 405.02,438.58 405.48,438.53 405.93,438.47 406.39,438.41 406.85,438.36 407.31,438.30 407.77,438.24 408.23,438.19 408.69,438.13 409.15,438.07 409.61,438.02 410.07,437.96 410.53,437.90 410.99,437.85 411.44,437.79 411.90,437.73 412.36,437.68 412.82,437.62 413.28,437.56 413.74,437.51 414.20,437.45 414.66,437.40 415.12,437.34 415.57,437.28 416.03,437.23 416.49,437.17 416.95,437.12 417.41,437.06 417.87,437.01 418.33,436.95 418.79,436.90 419.24,436.84 419.70,436.78 420.16,436.73 420.62,436.67 421.08,436.62 421.54,436.56 422.00,436.51 422.46,436.45 422.92,436.40 423.37,436.34 423.83,436.28 424.29,436.23 424.75,436.17 425.21,436.11 425.67,436.05 426.13,436.00 426.59,435.94 427.05,435.88 427.51,435.82 427.97,435.76 428.43,435.70 428.90,435.64 429.36,435.57 429.82,435.51 430.28,435.45 430.74,435.39 431.21,435.32 431.68,435.25 432.16,435.18 432.64,435.11 433.14,435.03 433.64,434.95 434.14,434.88 434.61,434.83 435.04,434.82 435.41,434.87 435.71,434.97 435.91,435.16 436.03,435.43 436.06,435.77 436.05,436.17 435.99,436.61 435.91,437.10 435.82,437.60 435.75,438.12 435.71,438.65 435.69,439.17 435.69,439.69 435.69,440.20 435.68,440.70 435.66,441.17 435.60,441.63 435.50,442.06 435.36,442.47 435.15,442.84 434.90,443.19 434.61,443.51 434.28,443.81 433.93,444.09 433.57,444.36 433.20,444.61 432.81,444.85 432.42,445.08 432.02,445.30 431.61,445.51 431.20,445.70 430.78,445.89 430.35,446.07 429.92,446.24 429.49,446.41 429.05,446.57 428.61,446.73 428.17,446.88 427.72,447.03 427.28,447.17 426.83,447.31 426.39,447.45 425.94,447.59 425.50,447.73 425.05,447.86 424.60,447.99 424.16,448.12 423.71,448.24 423.26,448.37 422.81,448.49 422.37,448.61 421.92,448.73 421.47,448.84 421.02,448.96 420.57,449.07 420.12,449.18 419.67,449.29 419.22,449.40 418.77,449.50 418.32,449.60 417.86,449.71 417.41,449.81 416.96,449.90 416.51,450.00 416.06,450.10 415.60,450.19 415.15,450.28 414.70,450.37 414.24,450.47 413.79,450.55 413.34,450.64 412.88,450.73 412.43,450.81 411.98,450.90 411.52,450.98 411.07,451.06 410.61,451.14 410.16,451.22 409.70,451.30 409.25,451.38 408.79,451.46 408.33,451.54 407.88,451.61 407.42,451.69 406.97,451.76 406.51,451.84 406.05,451.91 405.60,451.98 405.14,452.06 404.69,452.13 404.23,452.20 403.77,452.27 403.32,452.34 402.86,452.40 402.40,452.47 401.94,452.54 401.49,452.61 401.03,452.67 400.57,452.74 400.11,452.80 399.66,452.87 399.20,452.93 398.74,452.99 398.28,453.06 397.82,453.12 397.36,453.18 396.91,453.24 396.45,453.30 395.99,453.36 395.53,453.42 395.07,453.48 394.61,453.53 394.15,453.59 393.69,453.65 393.24,453.70 392.78,453.76 392.32,453.82 391.86,453.87 391.40,453.92 390.94,453.98 390.48,454.03 390.02,454.09 389.56,454.14 389.10,454.19 388.64,454.24 388.18,454.29 387.72,454.34 387.26,454.39 386.80,454.44 386.34,454.49 385.88,454.54 385.42,454.59 384.96,454.64 384.50,454.69 384.04,454.74 383.58,454.79 383.11,454.83 382.65,454.88 382.19,454.93 381.73,454.97 381.27,455.02 380.81,455.06 380.35,455.11 379.89,455.16 379.43,455.20 378.97,455.25 378.51,455.29 378.04,455.33 377.58,455.38 377.12,455.42 376.66,455.46 376.20,455.51 375.74,455.55 375.28,455.59 374.82,455.64 374.36,455.68 373.89,455.72 373.43,455.76 372.97,455.81 372.51,455.85 372.05,455.89 371.59,455.93 371.13,455.97 370.66,456.01 370.20,456.06 369.74,456.10 369.28,456.14 368.82,456.18 368.36,456.22 367.90,456.26 367.43,456.30 366.97,456.34 366.51,456.38 366.05,456.42 365.59,456.46 365.13,456.50 364.67,456.54 364.20,456.59 363.74,456.63 363.28,456.67 362.82,456.71 362.36,456.75 361.90,456.79 361.44,456.83 360.97,456.87 360.51,456.91 360.05,456.95 359.59,456.99 359.13,457.03 358.67,457.07 358.21,457.11 357.75,457.16 357.29,457.20 356.82,457.24 356.36,457.28 355.90,457.32 355.44,457.36 354.98,457.40 354.52,457.44 354.06,457.48 353.60,457.53 353.14,457.57 352.68,457.61 352.21,457.65 351.75,457.69 351.29,457.73 350.83,457.77 350.37,457.81 349.91,457.86 349.45,457.90 348.99,457.94 348.53,457.98 348.07,458.02 347.61,458.06 347.15,458.11 346.69,458.15 346.22,458.19 345.76,458.23 345.30,458.27 344.84,458.31 344.38,458.35 343.92,458.40 343.46,458.44 343.00,458.48 342.54,458.52 342.08,458.56 341.62,458.60 341.16,458.65 340.70,458.69 340.24,458.73 339.77,458.77 339.31,458.81 338.85,458.85 338.39,458.89 337.93,458.94 337.47,458.98 337.01,459.02 336.55,459.06 336.09,459.10 335.63,459.14 335.17,459.19 334.71,459.23 334.25,459.27 333.79,459.31 333.33,459.35 332.86,459.39 332.40,459.43 331.94,459.47 331.48,459.52 331.02,459.56 330.56,459.60 330.10,459.64 329.64,459.68 329.18,459.72 328.72,459.76 328.26,459.80 327.80,459.85 327.34,459.89 326.87,459.93 326.41,459.97 325.95,460.01 325.49,460.05 325.03,460.09 324.57,460.13 324.11,460.17 323.65,460.21 323.19,460.25 322.73,460.30 322.27,460.34 321.81,460.38 321.34,460.42 320.88,460.46 320.42,460.50 319.96,460.54 319.50,460.58 319.04,460.62 318.58,460.66 318.12,460.70 317.66,460.74 317.20,460.78 316.73,460.82 316.27,460.86 315.81,460.90 315.35,460.94 314.89,460.98 314.43,461.02 313.97,461.06 313.51,461.10 313.04,461.14 312.58,461.18 312.12,461.22 311.66,461.26 311.20,461.30 310.74,461.34 310.28,461.37 309.81,461.41 309.35,461.45 308.89,461.49 308.43,461.53 307.97,461.57 307.51,461.61 307.04,461.65 306.58,461.68 306.12,461.72 305.66,461.76 305.20,461.80 304.74,461.84 304.27,461.87 303.81,461.91 303.35,461.95 302.89,461.98 302.43,462.02 301.96,462.06 301.50,462.09 301.04,462.13 300.58,462.17 300.12,462.20 299.65,462.24 299.19,462.27 298.73,462.31 298.27,462.34 297.81,462.38 297.34,462.42 296.88,462.46 296.42,462.50 295.96,462.55 295.51,462.60 295.05,462.66 294.59,462.72 294.14,462.79 293.69,462.87 293.23,462.95 292.79,463.04 292.34,463.14 291.89,463.24 291.44,463.34 290.99,463.44 290.54,463.54 290.09,463.64 289.64,463.73 289.19,463.82 288.73,463.90 288.27,463.96 287.81,464.02 287.34,464.06 286.87,464.09 286.40,464.11 285.92,464.10 285.43,464.07 284.94,464.03 284.44,463.96 283.95,463.86 283.48,463.74 283.04,463.58 282.64,463.40 282.30,463.17 282.03,462.91 281.84,462.61 281.74,462.26 281.75,461.87 281.86,461.44 282.05,461.00 282.30,460.56 282.61,460.15 282.94,459.78 283.29,459.45 283.66,459.15 284.05,458.88 284.45,458.63 284.85,458.40 285.26,458.18 285.67,457.96 286.09,457.75 286.50,457.54 286.92,457.33 287.34,457.13 287.76,456.94 288.18,456.74 288.61,456.56 289.03,456.37 289.46,456.19 289.89,456.02 290.32,455.84 290.75,455.67 291.18,455.51 291.61,455.35 292.04,455.19 292.48,455.03 292.92,454.88 293.35,454.73 293.79,454.58 294.23,454.44 294.67,454.30 295.12,454.16 295.56,454.03 296.00,453.90 296.44,453.77 296.89,453.64 297.34,453.52 297.78,453.40 298.23,453.28 298.68,453.16 299.12,453.05 299.57,452.93 300.02,452.82 300.02,452.82" fill="none" stroke="#111111" stroke-width="1.30" stroke-linejoin="round" />
<polyline points="300.72,452.05 301.18,451.91 301.64,451.78 302.11,451.65 302.57,451.52 303.03,451.39 303.49,451.26 303.96,451.13 304.42,451.01 304.88,450.88 305.34,450.76 305.81,450.63 306.27,450.51 306.74,450.39 307.20,450.27 307.66,450.15 308.13,450.03 308.59,449.91 309.06,449.79 309.52,449.67 309.99,449.56 310.45,449.44 310.92,449.33 311.39,449.21 311.85,449.10 312.32,448.99 312.79,448.88 313.25,448.77 313.72,448.66 314.19,448.55 314.65,448.44 315.12,448.33 315.59,448.23 316.06,448.12 316.52,448.02 316.99,447.91 317.46,447.81 317.93,447.70 318.40,447.60 318.87,447.50 319.34,447.40 319.81,447.30 320.27,447.20 320.74,447.10 321.21,447.00 321.68,446.90 322.15,446.80 322.62,446.71 323.09,446.61 323.56,446.51 324.03,446.42 324.50,446.32 324.97,446.23 325.44,446.13 325.92,446.04 326.39,445.95 326.86,445.86 327.33,445.76 327.80,445.67 328.27,445.58 328.74,445.49 329.21,445.40 329.69,445.31 330.16,445.22 330.63,445.13 331.10,445.04 331.57,444.96 332.05,444.87 332.52,444.78 332.99,444.69 333.46,444.61 333.93,444.52 334.41,444.44 334.88,444.35 335.35,444.27 335.82,444.18 336.30,444.10 336.77,444.01 337.24,443.93 337.72,443.84 338.19,443.76 338.66,443.68 339.13,443.59 339.61,443.51 340.08,443.43 340.55,443.34 341.03,443.26 341.50,443.18 341.97,443.10 342.45,443.02 342.92,442.93 343.39,442.85 343.87,442.77 344.34,442.69 344.81,442.61 345.29,442.53 345.76,442.45 346.23,442.37 346.71,442.28 347.18,442.20 347.65,442.12 348.13,442.04 348.60,441.96 349.07,441.88 349.55,441.80 350.02,441.72 350.49,441.64 350.97,441.56 351.44,441.48 351.91,441.40 352.39,441.32 352.86,441.24 353.33,441.16 353.81,441.08 354.28,441.00 354.75,440.92 355.23,440.84 355.70,440.76 356.17,440.68 356.65,440.60 357.12,440.52 357.59,440.44 358.07,440.36 358.54,440.28 359.01,440.20 359.49,440.12 359.96,440.04 360.43,439.96 360.91,439.88 361.38,439.80 361.85,439.73 362.33,439.65 362.80,439.57 363.27,439.49 363.75,439.41 364.22,439.33 364.69,439.25 365.17,439.17 365.64,439.09 366.11,439.02 366.59,438.94 367.06,438.86 367.53,438.78 368.01,438.70 368.48,438.62 368.95,438.55 369.43,438.47 369.90,438.39 370.38,438.31 370.85,438.23 371.32,438.15 371.80,438.08 372.27,438.00 372.74,437.92 373.22,437.84 373.69,437.76 374.16,437.69 374.64,437.61 375.11,437.53 375.58,437.45 376.06,437.38 376.53,437.30 377.00,437.22 377.48,437.14 377.95,437.07 378.43,436.99 378.90,436.91 379.37,436.84 379.85,436.76 380.32,436.68 380.79,436.60 381.27,436.53 381.74,436.45 382.21,436.37 382.69,436.30 383.16,436.22 383.64,436.14 384.11,436.07 384.58,435.99 385.06,435.91 385.53,435.84 386.00,435.76 386.48,435.68 386.95,435.61 387.43,435.53 387.90,435.45 388.37,435.38 388.85,435.30 389.32,435.22 389.79,435.15 390.27,435.07 390.74,435.00 391.22,434.92 391.69,434.84 392.16,434.77 392.64,434.69 393.11,434.62 393.59,434.54 394.06,434.47 394.53,434.39 395.01,434.31 395.48,434.24 395.96,434.16 396.43,434.09 396.90,434.01 397.38,433.94 397.85,433.86 398.33,433.79 398.80,433.71 399.27,433.63 399.75,433.56 400.22,433.48 400.70,433.41 401.17,433.33 401.64,433.26 402.12,433.18 402.59,433.11 403.07,433.03 403.54,432.96 404.01,432.88 404.49,432.81 404.96,432.73 405.44,432.66 405.91,432.58 406.39,432.51 406.86,432.43 407.33,432.36 407.81,432.28 408.28,432.21 408.76,432.13 409.23,432.06 409.70,431.98 410.18,431.91 410.65,431.83 411.13,431.75 411.60,431.68 412.07,431.60 412.55,431.53 413.02,431.45 413.50,431.38 413.97,431.30 414.44,431.23 414.92,431.15 415.39,431.08 415.87,431.00 416.34,430.93 416.81,430.85 417.29,430.77 417.76,430.70 418.24,430.62 418.71,430.55 419.18,430.47 419.66,430.39 420.13,430.32 420.60,430.24 421.08,430.17 421.55,430.09 422.03,430.01 422.50,429.94 422.97,429.86 423.45,429.78 423.92,429.71 424.40,429.63 424.87,429.55 425.35,429.47 425.82,429.40 426.30,429.32 426.77,429.24 427.25,429.16 427.73,429.08 428.21,429.00 428.69,428.92 429.17,428.83 429.65,428.75 430.13,428.67 430.61,428.58 431.09,428.50 431.58,428.41 432.06,428.33 432.55,428.24 433.04,428.15 433.52,428.06 434.00,427.99 434.46,427.93 434.89,427.91 435.27,427.94 435.59,428.03 435.85,428.20 436.04,428.44 436.17,428.75 436.24,429.13 436.27,429.55 436.26,430.01 436.23,430.51 436.18,431.03 436.12,431.56 436.06,432.10 436.00,432.65 435.94,433.18 435.90,433.72 435.86,434.25 435.82,434.77 435.80,435.28 435.78,435.78 435.76,436.27 435.74,436.76 435.70,437.24 435.64,437.71 435.56,438.17 435.45,438.62 435.31,439.05 435.14,439.47 434.92,439.86 434.67,440.24 434.38,440.60 434.06,440.94 433.71,441.27 433.36,441.60 432.99,441.92 432.63,442.23 432.26,442.55 431.89,442.86 431.52,443.17 431.14,443.48 430.76,443.78 430.38,444.08 430.00,444.38 429.61,444.68 429.22,444.97 428.83,445.25 428.44,445.53 428.05,445.81 427.65,446.09 427.25,446.36 426.85,446.62 426.44,446.88 426.03,447.14 425.62,447.39 425.21,447.63 424.80,447.87 424.38,448.11 423.96,448.34 423.54,448.57 423.12,448.79 422.69,449.01 422.27,449.23 421.84,449.44 421.41,449.65 420.98,449.85 420.54,450.05 420.10,450.25 419.67,450.44 419.23,450.63 418.79,450.81 418.34,450.99 417.90,451.17 417.46,451.34 417.01,451.52 416.56,451.68 416.11,451.85 415.66,452.01 415.21,452.17 414.76,452.33 414.30,452.48 413.85,452.63 413.39,452.78 412.93,452.93 412.47,453.07 412.01,453.21 411.55,453.35 411.09,453.48 410.63,453.62 410.17,453.75 409.71,453.88 409.24,454.00 408.78,454.13 408.31,454.25 407.85,454.38 407.38,454.50 406.92,454.61 406.45,454.73 405.98,454.85 405.52,454.96 405.05,455.07 404.58,455.18 404.11,455.29 403.65,455.40 403.18,455.51 402.71,455.61 402.24,455.72 401.77,455.82 401.30,455.92 400.83,456.02 400.36,456.12 399.89,456.22 399.42,456.31 398.95,456.41 398.48,456.50 398.01,456.59 397.54,456.69 397.07,456.78 396.60,456.87 396.13,456.95 395.66,457.04 395.18,457.13 394.71,457.21 394.24,457.29 393.77,457.38 393.30,457.46 392.82,457.54 392.35,457.62 391.88,457.70 391.40,457.77 390.93,457.85 390.46,457.93 389.98,458.00 389.51,458.07 389.03,458.15 388.56,458.22 388.09,458.29 387.61,458.36 387.14,458.43 386.66,458.50 386.19,458.56 385.71,458.63 385.24,458.70 384.76,458.76 384.28,458.83 383.81,458.89 383.33,458.95 382.86,459.02 382.38,459.08 381.90,459.14 381.43,459.20 380.95,459.26 380.48,459.32 380.00,459.37 379.52,459.43 379.05,459.49 378.57,459.55 378.09,459.60 377.62,459.66 377.14,459.71 376.66,459.77 376.18,459.82 375.71,459.87 375.23,459.93 374.75,459.98 374.27,460.03 373.80,460.08 373.32,460.13 372.84,460.18 372.36,460.23 371.89,460.28 371.41,460.33 370.93,460.38 370.45,460.43 369.97,460.48 369.50,460.53 369.02,460.58 368.54,460.63 368.06,460.67 367.58,460.72 367.11,460.77 366.63,460.82 366.15,460.86 365.67,460.91 365.19,460.96 364.72,461.00 364.24,461.05 363.76,461.09 363.28,461.14 362.80,461.19 362.32,461.23 361.85,461.28 361.37,461.32 360.89,461.37 360.41,461.42 359.93,461.46 359.46,461.51 358.98,461.55 358.50,461.60 358.02,461.65 357.54,461.69 357.07,461.74 356.59,461.79 356.11,461.83 355.63,461.88 355.16,461.93 354.68,461.97 354.20,462.02 353.72,462.07 353.25,462.11 352.77,462.16 352.29,462.21 351.81,462.25 351.33,462.30 350.86,462.35 350.38,462.40 349.90,462.44 349.42,462.49 348.95,462.54 348.47,462.58 347.99,462.63 347.52,462.68 347.04,462.73 346.56,462.77 346.08,462.82 345.61,462.87 345.13,462.92 344.65,462.96 344.17,463.01 343.70,463.06 343.22,463.11 342.74,463.15 342.26,463.20 341.79,463.25 341.31,463.30 340.83,463.34 340.36,463.39 339.88,463.44 339.40,463.49 338.92,463.53 338.45,463.58 337.97,463.63 337.49,463.68 337.01,463.72 336.54,463.77 336.06,463.82 335.58,463.86 335.11,463.91 334.63,463.96 334.15,464.01 333.67,464.05 333.20,464.10 332.72,464.15 332.24,464.19 331.76,464.24 331.29,464.29 330.81,464.33 330.33,464.38 329.85,464.43 329.38,464.47 328.90,464.52 328.42,464.57 327.94,464.61 327.47,464.66 326.99,464.70 326.51,464.75 326.03,464.80 325.55,464.84 325.08,464.89 324.60,464.93 324.12,464.98 323.64,465.02 323.17,465.07 322.69,465.12 322.21,465.16 321.73,465.21 321.25,465.25 320.78,465.30 320.30,465.34 319.82,465.38 319.34,465.43 318.86,465.47 318.38,465.52 317.91,465.56 317.43,465.61 316.95,465.65 316.47,465.69 315.99,465.74 315.51,465.78 315.03,465.82 314.56,465.87 314.08,465.91 313.60,465.95 313.12,466.00 312.64,466.04 312.16,466.08 311.68,466.12 311.20,466.16 310.72,466.21 310.24,466.25 309.77,466.29 309.29,466.33 308.81,466.37 308.33,466.41 307.85,466.45 307.37,466.49 306.89,466.53 306.41,466.58 305.93,466.62 305.45,466.66 304.97,466.70 304.49,466.74 304.01,466.78 303.53,466.82 303.06,466.86 302.58,466.91 302.10,466.95 301.62,466.99 301.15,467.04 300.67,467.08 300.19,467.13 299.72,467.18 299.24,467.22 298.77,467.27 298.30,467.32 297.82,467.37 297.35,467.43 296.88,467.48 296.41,467.53 295.94,467.59 295.47,467.65 295.00,467.70 294.53,467.77 294.07,467.83 293.59,467.89 293.12,467.96 292.65,468.03 292.18,468.10 291.70,468.18 291.22,468.26 290.74,468.34 290.25,468.43 289.76,468.52 289.27,468.61 288.77,468.70 288.28,468.79 287.78,468.88 287.28,468.95 286.78,469.01 286.28,469.06 285.78,469.09 285.29,469.10 284.79,469.09 284.30,469.05 283.83,468.98 283.38,468.87 282.96,468.72 282.59,468.52 282.28,468.28 282.03,467.98 281.83,467.64 281.69,467.25 281.59,466.83 281.54,466.39 281.54,465.92 281.57,465.44 281.63,464.95 281.73,464.45 281.85,463.96 281.99,463.47 282.16,462.99 282.35,462.52 282.57,462.05 282.81,461.61 283.06,461.17 283.34,460.76 283.64,460.36 283.95,459.98 284.29,459.63 284.64,459.30 285.00,458.99 285.38,458.72 285.78,458.47 286.18,458.25 286.60,458.04 287.03,457.85 287.46,457.68 287.91,457.51 288.35,457.35 288.80,457.18 289.26,457.02 289.71,456.85 290.15,456.67 290.60,456.47 291.04,456.27 291.47,456.04 291.89,455.81 292.31,455.56 292.73,455.31 293.15,455.06 293.57,454.82 293.99,454.58 294.42,454.36 294.85,454.14 295.29,453.94 295.73,453.74 296.17,453.56 296.62,453.38 297.07,453.21 297.52,453.05 297.97,452.90 298.43,452.75 298.88,452.60 299.34,452.46 299.80,452.32 300.26,452.18 300.72,452.05 300.72,452.05" fill="none" stroke="#ff1a1a" stroke-width="1.30" stroke-linejoin="round" />
<polyline points="300.06,450.85 300.55,450.67 301.04,450.48 301.52,450.29 302.01,450.11 302.50,449.93 302.98,449.75 303.47,449.57 303.96,449.39 304.45,449.21 304.93,449.03 305.42,448.86 305.91,448.68 306.40,448.51 306.89,448.34 307.37,448.17 307.86,448.00 308.35,447.83 308.84,447.66 309.33,447.50 309.82,447.33 310.31,447.17 310.80,447.01 311.28,446.84 311.77,446.68 312.26,446.52 312.75,446.37 313.24,446.21 313.73,446.05 314.22,445.90 314.71,445.74 315.20,445.59 315.69,445.43 316.18,445.28 316.68,445.13 317.17,444.98 317.66,444.83 318.15,444.68 318.64,444.53 319.13,444.39 319.62,444.24 320.11,444.10 320.60,443.95 321.10,443.81 321.59,443.67 322.08,443.52 322.57,443.38 323.06,443.24 323.56,443.10 324.05,442.96 324.54,442.82 325.03,442.69 325.53,442.55 326.02,442.41 326.51,442.28 327.01,442.14 327.50,442.01 327.99,441.88 328.49,441.74 328.98,441.61 329.47,441.48 329.97,441.35 330.46,441.22 330.96,441.09 331.45,440.96 331.94,440.83 332.44,440.70 332.93,440.57 333.43,440.44 333.92,440.32 334.42,440.19 334.91,440.06 335.41,439.94 335.90,439.81 336.40,439.69 336.89,439.56 337.39,439.44 337.88,439.31 338.38,439.19 338.87,439.07 339.37,438.94 339.87,438.82 340.36,438.70 340.86,438.58 341.35,438.46 341.85,438.34 342.35,438.22 342.84,438.09 343.34,437.97 343.84,437.85 344.33,437.73 344.83,437.61 345.33,437.50 345.82,437.38 346.32,437.26 346.82,437.14 347.32,437.02 347.81,436.90 348.31,436.78 348.81,436.66 349.31,436.54 349.80,436.43 350.30,436.31 350.80,436.19 351.30,436.07 351.80,435.95 352.29,435.84 352.79,435.72 353.29,435.60 353.79,435.48 354.29,435.36 354.79,435.25 355.29,435.13 355.78,435.01 356.28,434.90 356.78,434.78 357.28,434.66 357.78,434.54 358.28,434.43 358.78,434.31 359.28,434.19 359.78,434.08 360.28,433.96 360.78,433.84 361.27,433.72 361.77,433.61 362.27,433.49 362.77,433.38 363.27,433.26 363.77,433.14 364.27,433.03 364.77,432.91 365.27,432.79 365.77,432.68 366.27,432.56 366.77,432.45 367.27,432.33 367.77,432.21 368.27,432.10 368.77,431.98 369.27,431.87 369.77,431.75 370.27,431.63 370.77,431.52 371.27,431.40 371.77,431.29 372.27,431.17 372.78,431.06 373.28,430.94 373.78,430.83 374.28,430.71 374.78,430.60 375.28,430.48 375.78,430.37 376.28,430.25 376.78,430.14 377.28,430.02 377.78,429.91 378.28,429.79 378.78,429.68 379.28,429.56 379.78,429.45 380.28,429.33 380.78,429.22 381.28,429.10 381.78,428.99 382.28,428.87 382.78,428.76 383.28,428.65 383.78,428.53 384.29,428.42 384.79,428.30 385.29,428.19 385.79,428.08 386.29,427.96 386.79,427.85 387.29,427.73 387.79,427.62 388.29,427.51 388.79,427.39 389.29,427.28 389.79,427.16 390.29,427.05 390.79,426.94 391.29,426.82 391.79,426.71 392.29,426.60 392.79,426.48 393.29,426.37 393.79,426.25 394.29,426.14 394.79,426.03 395.29,425.91 395.79,425.80 396.29,425.69 396.78,425.57 397.28,425.46 397.78,425.35 398.28,425.23 398.78,425.12 399.28,425.01 399.78,424.90 400.28,424.78 400.78,424.67 401.28,424.56 401.78,424.44 402.27,424.33 402.77,424.22 403.27,424.10 403.77,423.99 404.27,423.88 404.77,423.77 405.27,423.65 405.76,423.54 406.26,423.43 406.76,423.31 407.26,423.20 407.76,423.09 408.26,422.98 408.75,422.86 409.25,422.75 409.75,422.64 410.25,422.52 410.75,422.41 411.24,422.30 411.74,422.18 412.24,422.07 412.74,421.96 413.24,421.85 413.74,421.73 414.24,421.62 414.74,421.50 415.23,421.39 415.73,421.28 416.23,421.16 416.73,421.05 417.23,420.94 417.73,420.82 418.23,420.71 418.73,420.59 419.23,420.48 419.73,420.36 420.23,420.25 420.73,420.14 421.23,420.02 421.73,419.91 422.24,419.79 422.74,419.67 423.24,419.56 423.74,419.44 424.24,419.33 424.75,419.21 425.25,419.10 425.75,418.98 426.26,418.86 426.76,418.75 427.26,418.63 427.77,418.51 428.27,418.39 428.78,418.28 429.28,418.16 429.79,418.04 430.29,417.92 430.80,417.80 431.31,417.68 431.82,417.55 432.34,417.42 432.86,417.29 433.38,417.14 433.90,417.01 434.39,416.90 434.83,416.85 435.21,416.88 435.51,417.01 435.72,417.25 435.83,417.59 435.89,418.02 435.89,418.50 435.86,419.02 435.82,419.56 435.78,420.10 435.74,420.64 435.70,421.18 435.65,421.72 435.61,422.26 435.57,422.80 435.52,423.33 435.48,423.86 435.45,424.38 435.41,424.90 435.38,425.41 435.35,425.92 435.32,426.42 435.29,426.92 435.26,427.42 435.23,427.92 435.19,428.42 435.16,428.92 435.12,429.43 435.08,429.93 435.04,430.44 434.99,430.96 434.93,431.47 434.87,431.99 434.80,432.50 434.72,433.02 434.63,433.53 434.53,434.04 434.42,434.54 434.30,435.04 434.16,435.53 434.00,436.02 433.83,436.50 433.64,436.97 433.43,437.44 433.21,437.89 432.97,438.34 432.72,438.77 432.45,439.21 432.17,439.63 431.88,440.05 431.58,440.46 431.27,440.87 430.96,441.28 430.64,441.68 430.31,442.07 429.98,442.47 429.65,442.86 429.31,443.25 428.97,443.64 428.63,444.02 428.29,444.40 427.94,444.78 427.58,445.15 427.23,445.52 426.87,445.89 426.51,446.26 426.15,446.62 425.78,446.98 425.41,447.34 425.04,447.69 424.66,448.04 424.28,448.39 423.90,448.73 423.52,449.07 423.13,449.41 422.74,449.74 422.35,450.07 421.95,450.40 421.55,450.72 421.15,451.04 420.75,451.35 420.34,451.67 419.93,451.97 419.52,452.28 419.10,452.58 418.69,452.87 418.27,453.16 417.84,453.45 417.42,453.74 416.99,454.02 416.56,454.29 416.13,454.56 415.69,454.83 415.26,455.10 414.82,455.35 414.38,455.61 413.93,455.86 413.49,456.11 413.04,456.35 412.59,456.59 412.13,456.83 411.68,457.06 411.22,457.29 410.77,457.52 410.31,457.74 409.84,457.96 409.38,458.17 408.91,458.38 408.45,458.59 407.98,458.80 407.51,459.00 407.03,459.20 406.56,459.39 406.08,459.58 405.61,459.77 405.13,459.96 404.65,460.14 404.17,460.32 403.69,460.50 403.20,460.67 402.72,460.84 402.24,461.01 401.75,461.18 401.26,461.34 400.77,461.50 400.28,461.66 399.79,461.82 399.30,461.97 398.81,462.12 398.32,462.27 397.82,462.41 397.33,462.56 396.84,462.70 396.34,462.84 395.84,462.98 395.35,463.11 394.85,463.24 394.35,463.38 393.86,463.51 393.36,463.63 392.86,463.76 392.36,463.88 391.86,464.00 391.36,464.12 390.87,464.24 390.37,464.36 389.87,464.47 389.37,464.59 388.87,464.70 388.37,464.81 387.86,464.91 387.36,465.02 386.86,465.13 386.36,465.23 385.86,465.33 385.36,465.43 384.85,465.53 384.35,465.63 383.85,465.73 383.35,465.82 382.84,465.92 382.34,466.01 381.83,466.10 381.33,466.19 380.83,466.28 380.32,466.37 379.82,466.45 379.31,466.54 378.81,466.62 378.30,466.71 377.80,466.79 377.29,466.87 376.79,466.95 376.28,467.03 375.78,467.11 375.27,467.19 374.76,467.27 374.26,467.34 373.75,467.42 373.25,467.49 372.74,467.57 372.23,467.64 371.73,467.71 371.22,467.79 370.71,467.86 370.20,467.93 369.70,468.00 369.19,468.07 368.68,468.14 368.17,468.21 367.67,468.28 367.16,468.34 366.65,468.41 366.14,468.48 365.64,468.55 365.13,468.61 364.62,468.68 364.11,468.74 363.60,468.81 363.10,468.88 362.59,468.94 362.08,469.01 361.57,469.07 361.06,469.13 360.55,469.20 360.05,469.26 359.54,469.32 359.03,469.39 358.52,469.45 358.01,469.51 357.50,469.57 356.99,469.63 356.48,469.69 355.98,469.76 355.47,469.82 354.96,469.88 354.45,469.94 353.94,470.00 353.43,470.06 352.92,470.11 352.41,470.17 351.90,470.23 351.39,470.29 350.88,470.35 350.37,470.41 349.86,470.46 349.36,470.52 348.85,470.58 348.34,470.64 347.83,470.69 347.32,470.75 346.81,470.81 346.30,470.86 345.79,470.92 345.28,470.97 344.77,471.03 344.26,471.09 343.75,471.14 343.24,471.20 342.73,471.25 342.22,471.30 341.71,471.36 341.20,471.41 340.69,471.47 340.18,471.52 339.67,471.58 339.16,471.63 338.65,471.68 338.14,471.74 337.63,471.79 337.12,471.84 336.61,471.89 336.10,471.95 335.59,472.00 335.08,472.05 334.57,472.11 334.06,472.16 333.55,472.21 333.04,472.26 332.53,472.31 332.02,472.37 331.51,472.42 331.00,472.47 330.49,472.52 329.98,472.57 329.47,472.62 328.96,472.68 328.45,472.73 327.94,472.78 327.43,472.83 326.92,472.88 326.41,472.93 325.90,472.98 325.39,473.03 324.88,473.09 324.37,473.14 323.86,473.19 323.35,473.24 322.84,473.29 322.33,473.34 321.82,473.39 321.31,473.44 320.80,473.49 320.29,473.54 319.78,473.59 319.27,473.65 318.76,473.70 318.25,473.75 317.74,473.80 317.23,473.85 316.72,473.90 316.22,473.95 315.71,474.00 315.20,474.05 314.69,474.10 314.18,474.16 313.67,474.21 313.16,474.26 312.65,474.31 312.14,474.36 311.63,474.41 311.12,474.46 310.61,474.52 310.10,474.57 309.59,474.62 309.09,474.67 308.58,474.72 308.07,474.78 307.56,474.83 307.05,474.88 306.54,474.93 306.03,474.99 305.52,475.04 305.01,475.09 304.50,475.15 303.99,475.20 303.48,475.25 302.97,475.31 302.46,475.36 301.96,475.41 301.45,475.47 300.94,475.52 300.43,475.58 299.92,475.63 299.41,475.69 298.90,475.75 298.39,475.80 297.88,475.86 297.37,475.91 296.86,475.97 296.35,476.03 295.84,476.08 295.33,476.14 294.81,476.20 294.30,476.26 293.79,476.32 293.28,476.38 292.77,476.43 292.26,476.49 291.75,476.55 291.24,476.61 290.73,476.67 290.21,476.73 289.70,476.80 289.19,476.86 288.68,476.92 288.17,476.98 287.65,477.04 287.14,477.11 286.63,477.17 286.12,477.23 285.60,477.30 285.09,477.36 284.58,477.43 284.07,477.48 283.58,477.50 283.13,477.46 282.71,477.35 282.35,477.14 282.04,476.82 281.80,476.42 281.60,475.96 281.44,475.48 281.31,474.98 281.22,474.47 281.15,473.95 281.11,473.43 281.10,472.90 281.11,472.36 281.14,471.82 281.19,471.28 281.25,470.73 281.32,470.19 281.41,469.65 281.50,469.11 281.60,468.57 281.71,468.04 281.84,467.51 281.97,466.99 282.11,466.47 282.26,465.96 282.43,465.45 282.60,464.95 282.78,464.46 282.98,463.97 283.18,463.50 283.40,463.03 283.63,462.57 283.87,462.13 284.12,461.69 284.38,461.26 284.65,460.85 284.94,460.44 285.23,460.05 285.54,459.67 285.86,459.29 286.18,458.93 286.52,458.57 286.86,458.23 287.22,457.89 287.58,457.56 287.95,457.24 288.33,456.93 288.72,456.63 289.11,456.33 289.51,456.04 289.92,455.76 290.34,455.49 290.76,455.22 291.19,454.96 291.62,454.70 292.06,454.45 292.50,454.21 292.95,453.97 293.40,453.73 293.86,453.50 294.32,453.28 294.79,453.06 295.26,452.84 295.73,452.63 296.20,452.42 296.68,452.22 297.16,452.02 297.64,451.82 298.12,451.62 298.61,451.43 299.09,451.23 299.58,451.04 300.06,450.85 300.06,450.85" fill="none" stroke="#00ee00" stroke-width="1.30" stroke-linejoin="round" />
<polyline points="302.44,449.09 302.93,448.83 303.41,448.58 303.90,448.33 304.39,448.09 304.88,447.84 305.37,447.60 305.85,447.35 306.34,447.11 306.84,446.87 307.33,446.64 307.82,446.40 308.31,446.17 308.80,445.94 309.30,445.71 309.79,445.48 310.29,445.25 310.78,445.03 311.28,444.80 311.77,444.58 312.27,444.36 312.77,444.14 313.27,443.92 313.76,443.71 314.26,443.50 314.76,443.28 315.26,443.07 315.76,442.86 316.26,442.65 316.77,442.45 317.27,442.24 317.77,442.04 318.27,441.83 318.78,441.63 319.28,441.43 319.78,441.23 320.29,441.04 320.79,440.84 321.30,440.65 321.81,440.45 322.31,440.26 322.82,440.07 323.33,439.88 323.83,439.69 324.34,439.50 324.85,439.32 325.36,439.13 325.87,438.95 326.38,438.76 326.89,438.58 327.40,438.40 327.91,438.22 328.42,438.04 328.93,437.87 329.44,437.69 329.95,437.51 330.47,437.34 330.98,437.16 331.49,436.99 332.01,436.82 332.52,436.65 333.03,436.48 333.55,436.31 334.06,436.14 334.58,435.97 335.09,435.80 335.61,435.64 336.12,435.47 336.64,435.31 337.15,435.14 337.67,434.98 338.19,434.82 338.70,434.65 339.22,434.49 339.74,434.33 340.26,434.17 340.77,434.01 341.29,433.85 341.81,433.69 342.33,433.54 342.85,433.38 343.37,433.22 343.88,433.06 344.40,432.91 344.92,432.75 345.44,432.60 345.96,432.44 346.48,432.29 347.00,432.14 347.52,431.98 348.04,431.83 348.56,431.68 349.08,431.52 349.60,431.37 350.12,431.22 350.64,431.07 351.16,430.92 351.68,430.77 352.20,430.61 352.72,430.46 353.24,430.31 353.77,430.16 354.29,430.01 354.81,429.86 355.33,429.71 355.85,429.56 356.37,429.41 356.89,429.26 357.41,429.11 357.93,428.96 358.45,428.81 358.98,428.66 359.50,428.51 360.02,428.36 360.54,428.21 361.06,428.06 361.58,427.91 362.10,427.76 362.62,427.61 363.15,427.46 363.67,427.31 364.19,427.16 364.71,427.01 365.23,426.86 365.75,426.71 366.27,426.56 366.79,426.41 367.31,426.26 367.84,426.11 368.36,425.96 368.88,425.81 369.40,425.66 369.92,425.51 370.44,425.36 370.96,425.21 371.48,425.06 372.00,424.91 372.53,424.76 373.05,424.61 373.57,424.46 374.09,424.31 374.61,424.16 375.13,424.01 375.65,423.87 376.17,423.72 376.69,423.57 377.22,423.42 377.74,423.27 378.26,423.12 378.78,422.97 379.30,422.82 379.82,422.67 380.34,422.52 380.86,422.37 381.39,422.22 381.91,422.07 382.43,421.92 382.95,421.77 383.47,421.62 383.99,421.48 384.51,421.33 385.03,421.18 385.56,421.03 386.08,420.88 386.60,420.73 387.12,420.58 387.64,420.44 388.16,420.29 388.68,420.14 389.21,419.99 389.73,419.84 390.25,419.70 390.77,419.55 391.29,419.40 391.81,419.25 392.33,419.11 392.86,418.96 393.38,418.81 393.90,418.66 394.42,418.52 394.94,418.37 395.46,418.22 395.99,418.08 396.51,417.93 397.03,417.78 397.55,417.64 398.07,417.49 398.59,417.34 399.12,417.20 399.64,417.05 400.16,416.91 400.68,416.76 401.20,416.62 401.73,416.47 402.25,416.33 402.77,416.18 403.29,416.04 403.81,415.89 404.34,415.75 404.86,415.60 405.38,415.46 405.90,415.32 406.43,415.17 406.95,415.03 407.47,414.88 407.99,414.74 408.51,414.60 409.04,414.45 409.56,414.31 410.08,414.17 410.60,414.03 411.13,413.88 411.65,413.74 412.17,413.60 412.69,413.46 413.22,413.32 413.74,413.18 414.26,413.03 414.79,412.89 415.31,412.75 415.83,412.61 416.35,412.47 416.88,412.33 417.40,412.19 417.92,412.05 418.45,411.91 418.97,411.77 419.49,411.63 420.01,411.49 420.54,411.35 421.06,411.21 421.58,411.06 422.11,410.92 422.63,410.78 423.16,410.64 423.68,410.49 424.20,410.35 424.73,410.20 425.25,410.06 425.77,409.91 426.30,409.76 426.82,409.61 427.35,409.46 427.87,409.31 428.40,409.16 428.92,409.01 429.44,408.86 429.97,408.70 430.49,408.55 431.02,408.39 431.55,408.22 432.08,408.05 432.63,407.87 433.18,407.68 433.73,407.48 434.27,407.30 434.78,407.17 435.24,407.12 435.62,407.16 435.91,407.34 436.10,407.66 436.20,408.09 436.24,408.61 436.23,409.18 436.19,409.80 436.12,410.41 436.06,411.02 436.00,411.60 435.93,412.17 435.87,412.73 435.81,413.27 435.76,413.81 435.71,414.33 435.66,414.86 435.62,415.38 435.58,415.91 435.55,416.44 435.52,416.97 435.50,417.50 435.49,418.04 435.47,418.58 435.46,419.13 435.45,419.67 435.44,420.22 435.43,420.77 435.42,421.32 435.41,421.87 435.40,422.42 435.38,422.98 435.36,423.53 435.33,424.08 435.30,424.63 435.26,425.17 435.21,425.72 435.16,426.27 435.09,426.81 435.02,427.34 434.93,427.88 434.83,428.41 434.72,428.94 434.60,429.46 434.47,429.98 434.33,430.50 434.17,431.01 434.01,431.52 433.84,432.03 433.65,432.53 433.46,433.03 433.26,433.53 433.05,434.02 432.83,434.51 432.60,435.00 432.37,435.48 432.12,435.97 431.88,436.44 431.62,436.92 431.36,437.39 431.09,437.86 430.82,438.33 430.54,438.80 430.26,439.26 429.97,439.72 429.68,440.18 429.38,440.64 429.08,441.10 428.78,441.55 428.47,442.00 428.17,442.45 427.85,442.90 427.54,443.34 427.23,443.79 426.91,444.23 426.59,444.67 426.26,445.10 425.94,445.54 425.61,445.97 425.27,446.40 424.94,446.83 424.60,447.25 424.26,447.68 423.92,448.10 423.57,448.51 423.22,448.93 422.87,449.34 422.51,449.75 422.15,450.15 421.79,450.56 421.43,450.95 421.06,451.35 420.69,451.74 420.31,452.13 419.93,452.52 419.55,452.90 419.16,453.28 418.78,453.66 418.38,454.03 417.99,454.39 417.59,454.76 417.19,455.12 416.78,455.48 416.37,455.83 415.96,456.18 415.54,456.53 415.12,456.87 414.70,457.21 414.28,457.54 413.85,457.88 413.42,458.20 412.99,458.53 412.55,458.85 412.11,459.17 411.67,459.48 411.23,459.79 410.78,460.10 410.33,460.40 409.88,460.70 409.42,461.00 408.97,461.29 408.51,461.58 408.04,461.86 407.58,462.14 407.11,462.42 406.65,462.70 406.18,462.97 405.70,463.24 405.23,463.50 404.75,463.76 404.27,464.02 403.79,464.27 403.31,464.52 402.83,464.77 402.34,465.01 401.85,465.25 401.37,465.49 400.88,465.72 400.38,465.95 399.89,466.18 399.39,466.40 398.90,466.62 398.40,466.83 397.90,467.05 397.40,467.26 396.90,467.46 396.40,467.66 395.89,467.86 395.39,468.06 394.88,468.25 394.37,468.44 393.87,468.63 393.36,468.81 392.85,468.99 392.34,469.17 391.82,469.34 391.31,469.51 390.80,469.68 390.28,469.84 389.77,470.01 389.25,470.17 388.73,470.33 388.21,470.48 387.69,470.63 387.17,470.78 386.65,470.93 386.13,471.08 385.61,471.22 385.09,471.36 384.56,471.50 384.04,471.64 383.51,471.77 382.99,471.90 382.46,472.03 381.93,472.16 381.41,472.29 380.88,472.41 380.35,472.53 379.82,472.65 379.29,472.77 378.76,472.89 378.23,473.01 377.70,473.12 377.17,473.23 376.64,473.35 376.11,473.46 375.58,473.56 375.05,473.67 374.51,473.78 373.98,473.88 373.45,473.99 372.91,474.09 372.38,474.19 371.85,474.29 371.31,474.39 370.78,474.49 370.25,474.59 369.71,474.69 369.18,474.78 368.64,474.88 368.11,474.97 367.58,475.07 367.04,475.16 366.51,475.25 365.97,475.35 365.44,475.44 364.90,475.53 364.37,475.62 363.83,475.71 363.30,475.79 362.76,475.88 362.23,475.97 361.69,476.06 361.16,476.14 360.62,476.23 360.09,476.31 359.55,476.39 359.02,476.48 358.48,476.56 357.95,476.64 357.41,476.72 356.87,476.80 356.34,476.88 355.80,476.96 355.27,477.04 354.73,477.12 354.19,477.20 353.66,477.27 353.12,477.35 352.58,477.43 352.05,477.50 351.51,477.58 350.97,477.65 350.44,477.73 349.90,477.80 349.36,477.87 348.83,477.94 348.29,478.02 347.75,478.09 347.22,478.16 346.68,478.23 346.14,478.30 345.61,478.37 345.07,478.44 344.53,478.51 343.99,478.58 343.46,478.65 342.92,478.71 342.38,478.78 341.84,478.85 341.31,478.92 340.77,478.98 340.23,479.05 339.69,479.11 339.15,479.18 338.62,479.25 338.08,479.31 337.54,479.38 337.00,479.44 336.46,479.50 335.93,479.57 335.39,479.63 334.85,479.69 334.31,479.76 333.77,479.82 333.24,479.88 332.70,479.95 332.16,480.01 331.62,480.07 331.08,480.13 330.54,480.19 330.00,480.25 329.47,480.32 328.93,480.38 328.39,480.44 327.85,480.50 327.31,480.56 326.77,480.62 326.23,480.68 325.70,480.74 325.16,480.80 324.62,480.86 324.08,480.92 323.54,480.98 323.00,481.04 322.46,481.10 321.92,481.16 321.38,481.22 320.85,481.28 320.31,481.34 319.77,481.40 319.23,481.46 318.69,481.52 318.15,481.58 317.61,481.64 317.07,481.70 316.53,481.76 315.99,481.82 315.46,481.88 314.92,481.94 314.38,482.00 313.84,482.06 313.30,482.12 312.76,482.18 312.22,482.24 311.68,482.30 311.14,482.36 310.60,482.42 310.06,482.48 309.52,482.54 308.99,482.60 308.45,482.66 307.91,482.72 307.37,482.78 306.83,482.84 306.29,482.90 305.75,482.96 305.21,483.02 304.67,483.08 304.14,483.14 303.60,483.20 303.06,483.26 302.52,483.32 301.98,483.38 301.45,483.44 300.91,483.50 300.37,483.55 299.83,483.61 299.29,483.67 298.76,483.72 298.22,483.78 297.68,483.84 297.15,483.90 296.61,483.96 296.07,484.02 295.54,484.08 295.00,484.14 294.46,484.21 293.92,484.28 293.39,484.35 292.85,484.42 292.31,484.50 291.78,484.59 291.24,484.68 290.70,484.77 290.16,484.87 289.63,484.97 289.09,485.08 288.55,485.18 288.01,485.28 287.46,485.37 286.92,485.45 286.37,485.51 285.82,485.54 285.27,485.56 284.71,485.54 284.15,485.48 283.62,485.38 283.13,485.22 282.70,485.00 282.35,484.69 282.06,484.32 281.85,483.88 281.69,483.39 281.59,482.86 281.53,482.30 281.51,481.72 281.52,481.12 281.56,480.52 281.61,479.92 281.67,479.34 281.74,478.78 281.82,478.23 281.89,477.71 281.97,477.19 282.06,476.69 282.15,476.19 282.24,475.70 282.33,475.20 282.43,474.70 282.53,474.19 282.63,473.68 282.73,473.15 282.84,472.62 282.95,472.09 283.06,471.55 283.19,471.01 283.31,470.46 283.44,469.92 283.58,469.37 283.73,468.83 283.88,468.28 284.04,467.74 284.21,467.20 284.38,466.66 284.57,466.13 284.76,465.61 284.97,465.09 285.19,464.58 285.41,464.08 285.65,463.59 285.90,463.11 286.16,462.64 286.43,462.17 286.71,461.71 286.99,461.27 287.29,460.83 287.60,460.40 287.92,459.97 288.25,459.56 288.58,459.15 288.93,458.75 289.28,458.36 289.64,457.97 290.00,457.59 290.38,457.22 290.76,456.85 291.15,456.49 291.55,456.14 291.95,455.79 292.36,455.45 292.77,455.12 293.19,454.79 293.62,454.46 294.05,454.14 294.49,453.83 294.93,453.52 295.38,453.22 295.83,452.92 296.28,452.62 296.74,452.33 297.20,452.04 297.66,451.76 298.13,451.48 298.60,451.20 299.08,450.92 299.55,450.65 300.03,450.39 300.51,450.12 300.99,449.86 301.47,449.60 301.96,449.34 302.44,449.09 302.44,449.09" fill="none" stroke="#1a1aff" stroke-width="1.30" stroke-linejoin="round" />
<polyline points="302.67,448.27 303.13,447.95 303.60,447.63 304.07,447.31 304.54,446.99 305.01,446.68 305.49,446.37 305.96,446.07 306.44,445.77 306.92,445.47 307.40,445.17 307.89,444.88 308.37,444.59 308.86,444.30 309.35,444.02 309.84,443.73 310.33,443.46 310.83,443.18 311.32,442.91 311.82,442.64 312.32,442.37 312.82,442.10 313.32,441.84 313.82,441.58 314.33,441.32 314.83,441.06 315.34,440.81 315.85,440.56 316.35,440.31 316.87,440.06 317.38,439.82 317.89,439.57 318.40,439.33 318.92,439.09 319.43,438.86 319.95,438.62 320.47,438.39 320.99,438.16 321.51,437.93 322.03,437.70 322.55,437.47 323.07,437.25 323.60,437.02 324.12,436.80 324.64,436.58 325.17,436.36 325.70,436.14 326.22,435.93 326.75,435.71 327.28,435.50 327.80,435.29 328.33,435.08 328.86,434.87 329.39,434.66 329.92,434.45 330.45,434.24 330.98,434.03 331.51,433.83 332.05,433.62 332.58,433.42 333.11,433.22 333.64,433.01 334.17,432.81 334.70,432.61 335.24,432.41 335.77,432.21 336.30,432.01 336.83,431.81 337.37,431.61 337.90,431.41 338.43,431.21 338.96,431.02 339.50,430.82 340.03,430.62 340.56,430.43 341.10,430.23 341.63,430.04 342.16,429.84 342.69,429.65 343.23,429.45 343.76,429.26 344.29,429.07 344.83,428.88 345.36,428.68 345.89,428.49 346.43,428.30 346.96,428.11 347.50,427.92 348.03,427.73 348.56,427.54 349.10,427.35 349.63,427.16 350.17,426.97 350.70,426.79 351.23,426.60 351.77,426.41 352.30,426.22 352.84,426.04 353.37,425.85 353.91,425.66 354.44,425.48 354.98,425.29 355.51,425.11 356.05,424.93 356.59,424.74 357.12,424.56 357.66,424.37 358.19,424.19 358.73,424.01 359.27,423.83 359.80,423.64 360.34,423.46 360.88,423.28 361.41,423.10 361.95,422.92 362.49,422.74 363.02,422.56 363.56,422.38 364.10,422.20 364.64,422.02 365.17,421.84 365.71,421.66 366.25,421.48 366.79,421.30 367.33,421.13 367.86,420.95 368.40,420.77 368.94,420.59 369.48,420.42 370.02,420.24 370.56,420.06 371.10,419.89 371.64,419.71 372.18,419.54 372.72,419.36 373.26,419.19 373.80,419.01 374.34,418.84 374.88,418.66 375.42,418.49 375.96,418.31 376.50,418.14 377.04,417.96 377.58,417.79 378.12,417.62 378.66,417.44 379.20,417.27 379.74,417.10 380.28,416.93 380.82,416.75 381.36,416.58 381.91,416.41 382.45,416.24 382.99,416.07 383.53,415.89 384.07,415.72 384.61,415.55 385.15,415.38 385.70,415.21 386.24,415.04 386.78,414.87 387.32,414.70 387.86,414.53 388.40,414.36 388.95,414.19 389.49,414.02 390.03,413.85 390.57,413.68 391.11,413.51 391.66,413.34 392.20,413.17 392.74,413.00 393.28,412.83 393.83,412.66 394.37,412.49 394.91,412.32 395.45,412.15 395.99,411.98 396.54,411.82 397.08,411.65 397.62,411.48 398.16,411.31 398.71,411.14 399.25,410.97 399.79,410.81 400.33,410.64 400.87,410.47 401.42,410.30 401.96,410.13 402.50,409.96 403.04,409.80 403.59,409.63 404.13,409.46 404.67,409.29 405.21,409.13 405.75,408.96 406.30,408.79 406.84,408.62 407.38,408.45 407.92,408.29 408.46,408.12 409.01,407.95 409.55,407.78 410.09,407.62 410.63,407.45 411.17,407.28 411.71,407.11 412.25,406.94 412.80,406.78 413.34,406.61 413.88,406.44 414.42,406.27 414.96,406.10 415.50,405.94 416.04,405.77 416.58,405.60 417.12,405.43 417.67,405.26 418.21,405.10 418.75,404.93 419.29,404.76 419.83,404.59 420.37,404.42 420.91,404.25 421.45,404.08 421.99,403.92 422.53,403.75 423.07,403.58 423.61,403.41 424.15,403.24 424.68,403.07 425.22,402.90 425.76,402.73 426.30,402.56 426.85,402.39 427.39,402.22 427.93,402.04 428.48,401.86 429.03,401.69 429.58,401.51 430.13,401.32 430.69,401.14 431.24,400.95 431.81,400.76 432.37,400.57 432.94,400.37 433.51,400.17 434.08,399.99 434.61,399.84 435.08,399.77 435.48,399.79 435.77,399.95 435.96,400.24 436.06,400.64 436.09,401.14 436.07,401.69 436.04,402.28 435.99,402.88 435.94,403.50 435.88,404.11 435.83,404.72 435.78,405.32 435.73,405.91 435.68,406.50 435.64,407.07 435.60,407.65 435.56,408.21 435.52,408.78 435.48,409.34 435.44,409.89 435.41,410.45 435.37,411.01 435.33,411.56 435.30,412.12 435.26,412.67 435.23,413.23 435.19,413.80 435.15,414.36 435.11,414.92 435.06,415.49 435.02,416.06 434.97,416.62 434.92,417.19 434.86,417.76 434.80,418.33 434.73,418.89 434.66,419.46 434.59,420.02 434.50,420.59 434.41,421.15 434.32,421.71 434.21,422.27 434.10,422.83 433.98,423.38 433.85,423.94 433.72,424.49 433.58,425.04 433.44,425.58 433.28,426.13 433.13,426.67 432.96,427.22 432.79,427.76 432.61,428.29 432.43,428.83 432.24,429.37 432.05,429.90 431.85,430.43 431.65,430.96 431.44,431.49 431.23,432.01 431.02,432.54 430.79,433.06 430.57,433.58 430.34,434.10 430.11,434.62 429.87,435.13 429.63,435.65 429.38,436.16 429.14,436.67 428.89,437.18 428.63,437.69 428.38,438.20 428.12,438.71 427.86,439.21 427.59,439.71 427.33,440.21 427.06,440.71 426.79,441.21 426.52,441.71 426.24,442.20 425.96,442.70 425.68,443.19 425.40,443.68 425.11,444.17 424.83,444.66 424.54,445.14 424.24,445.63 423.95,446.11 423.65,446.59 423.34,447.07 423.04,447.54 422.73,448.02 422.42,448.49 422.11,448.96 421.79,449.43 421.47,449.90 421.15,450.37 420.82,450.83 420.49,451.29 420.16,451.75 419.82,452.21 419.48,452.67 419.14,453.12 418.79,453.57 418.44,454.02 418.08,454.47 417.73,454.91 417.37,455.35 417.00,455.79 416.63,456.23 416.26,456.66 415.89,457.09 415.51,457.52 415.13,457.95 414.74,458.37 414.35,458.79 413.96,459.20 413.56,459.61 413.16,460.02 412.76,460.42 412.35,460.82 411.95,461.22 411.53,461.61 411.12,462.00 410.70,462.38 410.27,462.76 409.85,463.14 409.42,463.51 408.98,463.87 408.55,464.23 408.11,464.59 407.66,464.94 407.22,465.29 406.77,465.63 406.32,465.97 405.86,466.30 405.40,466.63 404.94,466.96 404.48,467.28 404.01,467.59 403.54,467.90 403.07,468.21 402.59,468.51 402.11,468.81 401.63,469.11 401.15,469.40 400.66,469.69 400.17,469.97 399.68,470.25 399.19,470.52 398.70,470.80 398.20,471.06 397.70,471.33 397.20,471.59 396.69,471.84 396.19,472.10 395.68,472.35 395.17,472.59 394.66,472.83 394.14,473.07 393.63,473.31 393.11,473.54 392.59,473.77 392.07,473.99 391.54,474.21 391.02,474.43 390.49,474.65 389.97,474.86 389.44,475.07 388.91,475.27 388.38,475.47 387.84,475.67 387.31,475.87 386.77,476.06 386.24,476.25 385.70,476.44 385.16,476.63 384.62,476.81 384.08,476.99 383.54,477.17 383.00,477.34 382.46,477.51 381.91,477.68 381.37,477.85 380.82,478.01 380.28,478.17 379.73,478.33 379.19,478.49 378.64,478.64 378.09,478.80 377.54,478.95 376.99,479.09 376.44,479.24 375.90,479.38 375.35,479.52 374.79,479.66 374.24,479.80 373.69,479.93 373.14,480.07 372.59,480.20 372.04,480.33 371.48,480.45 370.93,480.58 370.38,480.70 369.82,480.82 369.27,480.94 368.72,481.06 368.16,481.18 367.61,481.29 367.05,481.41 366.49,481.52 365.94,481.63 365.38,481.74 364.83,481.85 364.27,481.95 363.71,482.06 363.15,482.16 362.60,482.26 362.04,482.36 361.48,482.46 360.92,482.56 360.36,482.66 359.80,482.75 359.25,482.85 358.69,482.94 358.13,483.03 357.57,483.12 357.01,483.21 356.45,483.30 355.89,483.39 355.33,483.48 354.77,483.57 354.20,483.65 353.64,483.74 353.08,483.82 352.52,483.90 351.96,483.99 351.40,484.07 350.84,484.15 350.28,484.23 349.71,484.31 349.15,484.39 348.59,484.47 348.03,484.55 347.47,484.63 346.90,484.71 346.34,484.79 345.78,484.87 345.22,484.94 344.66,485.02 344.09,485.10 343.53,485.17 342.97,485.25 342.41,485.33 341.84,485.40 341.28,485.48 340.72,485.55 340.16,485.63 339.59,485.70 339.03,485.78 338.47,485.85 337.90,485.92 337.34,486.00 336.78,486.07 336.22,486.14 335.65,486.22 335.09,486.29 334.53,486.36 333.96,486.43 333.40,486.50 332.84,486.58 332.28,486.65 331.71,486.72 331.15,486.79 330.59,486.86 330.02,486.93 329.46,487.00 328.90,487.07 328.33,487.14 327.77,487.21 327.21,487.28 326.64,487.35 326.08,487.41 325.52,487.48 324.95,487.55 324.39,487.62 323.83,487.69 323.26,487.75 322.70,487.82 322.14,487.89 321.57,487.96 321.01,488.02 320.45,488.09 319.88,488.15 319.32,488.22 318.76,488.29 318.19,488.35 317.63,488.42 317.07,488.48 316.50,488.55 315.94,488.61 315.38,488.68 314.81,488.74 314.25,488.81 313.68,488.87 313.12,488.94 312.56,489.00 311.99,489.07 311.43,489.13 310.87,489.20 310.30,489.26 309.74,489.32 309.18,489.39 308.61,489.45 308.05,489.52 307.48,489.58 306.92,489.64 306.36,489.71 305.79,489.77 305.23,489.83 304.67,489.90 304.10,489.96 303.54,490.03 302.97,490.09 302.41,490.15 301.85,490.22 301.28,490.28 300.72,490.35 300.16,490.41 299.59,490.47 299.03,490.54 298.46,490.60 297.90,490.67 297.33,490.73 296.77,490.80 296.21,490.86 295.64,490.92 295.08,490.99 294.51,491.05 293.95,491.12 293.39,491.19 292.82,491.25 292.26,491.32 291.69,491.38 291.13,491.45 290.56,491.52 290.00,491.58 289.43,491.65 288.87,491.72 288.30,491.78 287.74,491.85 287.17,491.92 286.61,491.99 286.05,492.05 285.48,492.12 284.92,492.19 284.35,492.25 283.82,492.28 283.32,492.22 282.88,492.06 282.52,491.77 282.22,491.36 281.99,490.86 281.80,490.29 281.67,489.65 281.58,488.97 281.52,488.28 281.49,487.57 281.48,486.89 281.48,486.23 281.50,485.60 281.54,484.99 281.58,484.42 281.63,483.86 281.69,483.31 281.76,482.78 281.84,482.26 281.92,481.74 282.01,481.22 282.09,480.70 282.18,480.17 282.28,479.63 282.37,479.09 282.47,478.54 282.57,477.98 282.67,477.42 282.78,476.86 282.89,476.29 283.00,475.72 283.13,475.15 283.25,474.58 283.39,474.01 283.53,473.45 283.67,472.88 283.83,472.32 283.99,471.76 284.16,471.20 284.34,470.65 284.53,470.11 284.73,469.57 284.93,469.03 285.15,468.50 285.37,467.98 285.60,467.45 285.84,466.94 286.08,466.43 286.34,465.92 286.60,465.42 286.86,464.92 287.14,464.43 287.42,463.95 287.71,463.46 288.01,462.99 288.31,462.51 288.62,462.04 288.94,461.58 289.26,461.12 289.59,460.67 289.92,460.21 290.27,459.77 290.61,459.33 290.97,458.89 291.32,458.46 291.69,458.03 292.06,457.60 292.43,457.18 292.81,456.76 293.20,456.35 293.59,455.94 293.98,455.54 294.38,455.14 294.78,454.74 295.19,454.35 295.60,453.96 296.02,453.58 296.44,453.20 296.86,452.82 297.29,452.45 297.72,452.08 298.16,451.72 298.59,451.36 299.03,451.00 299.48,450.65 299.93,450.30 300.38,449.95 300.83,449.61 301.29,449.27 301.74,448.93 302.20,448.60 302.67,448.27 302.67,448.27" fill="none" stroke="#00ffff" stroke-width="1.30" stroke-linejoin="round" />
<polyline points="301.82,447.79 302.26,447.40 302.70,447.01 303.15,446.63 303.61,446.25 304.07,445.88 304.53,445.51 305.00,445.15 305.48,444.80 305.96,444.45 306.44,444.10 306.93,443.76 307.42,443.43 307.92,443.10 308.42,442.77 308.92,442.45 309.42,442.14 309.93,441.82 310.44,441.51 310.96,441.21 311.47,440.90 311.99,440.60 312.51,440.31 313.04,440.01 313.56,439.72 314.09,439.43 314.61,439.15 315.14,438.86 315.67,438.58 316.20,438.30 316.73,438.02 317.26,437.75 317.80,437.47 318.33,437.20 318.86,436.92 319.39,436.65 319.93,436.38 320.46,436.11 320.99,435.84 321.53,435.58 322.06,435.31 322.60,435.05 323.13,434.79 323.66,434.52 324.20,434.26 324.74,434.00 325.27,433.74 325.81,433.49 326.35,433.23 326.88,432.98 327.42,432.72 327.96,432.47 328.50,432.22 329.04,431.97 329.58,431.72 330.12,431.47 330.66,431.22 331.20,430.98 331.74,430.73 332.28,430.49 332.82,430.24 333.37,430.00 333.91,429.76 334.46,429.52 335.00,429.28 335.55,429.04 336.09,428.81 336.64,428.57 337.18,428.34 337.73,428.10 338.28,427.87 338.83,427.64 339.37,427.40 339.92,427.17 340.47,426.94 341.02,426.71 341.57,426.49 342.12,426.26 342.67,426.03 343.22,425.80 343.78,425.58 344.33,425.35 344.88,425.13 345.43,424.91 345.98,424.68 346.54,424.46 347.09,424.24 347.64,424.02 348.20,423.80 348.75,423.58 349.31,423.36 349.86,423.14 350.41,422.92 350.97,422.70 351.52,422.48 352.08,422.27 352.64,422.05 353.19,421.83 353.75,421.62 354.30,421.40 354.86,421.19 355.42,420.97 355.97,420.76 356.53,420.54 357.08,420.33 357.64,420.11 358.20,419.90 358.76,419.69 359.31,419.47 359.87,419.26 360.43,419.05 360.98,418.83 361.54,418.62 362.10,418.41 362.66,418.20 363.21,417.98 363.77,417.77 364.33,417.56 364.88,417.35 365.44,417.13 366.00,416.92 366.56,416.71 367.11,416.50 367.67,416.29 368.23,416.08 368.79,415.86 369.34,415.65 369.90,415.44 370.46,415.23 371.02,415.02 371.57,414.81 372.13,414.60 372.69,414.39 373.25,414.18 373.80,413.96 374.36,413.75 374.92,413.54 375.48,413.33 376.03,413.12 376.59,412.91 377.15,412.70 377.71,412.49 378.27,412.28 378.82,412.07 379.38,411.86 379.94,411.65 380.50,411.44 381.05,411.23 381.61,411.02 382.17,410.81 382.73,410.60 383.29,410.39 383.84,410.19 384.40,409.98 384.96,409.77 385.52,409.56 386.08,409.35 386.63,409.14 387.19,408.93 387.75,408.72 388.31,408.51 388.87,408.30 389.42,408.10 389.98,407.89 390.54,407.68 391.10,407.47 391.66,407.26 392.21,407.05 392.77,406.84 393.33,406.64 393.89,406.43 394.45,406.22 395.01,406.01 395.56,405.80 396.12,405.60 396.68,405.39 397.24,405.18 397.80,404.97 398.35,404.76 398.91,404.56 399.47,404.35 400.03,404.14 400.59,403.93 401.15,403.73 401.70,403.52 402.26,403.31 402.82,403.10 403.38,402.90 403.94,402.69 404.50,402.48 405.06,402.28 405.61,402.07 406.17,401.86 406.73,401.65 407.29,401.45 407.85,401.24 408.41,401.03 408.96,400.83 409.52,400.62 410.08,400.41 410.64,400.20 411.20,400.00 411.76,399.79 412.32,399.58 412.87,399.38 413.43,399.17 413.99,398.96 414.55,398.76 415.11,398.55 415.67,398.34 416.23,398.14 416.78,397.93 417.34,397.72 417.90,397.52 418.46,397.31 419.02,397.11 419.58,396.90 420.14,396.69 420.70,396.49 421.25,396.28 421.81,396.07 422.37,395.87 422.93,395.66 423.49,395.45 424.05,395.25 424.61,395.04 425.17,394.83 425.73,394.63 426.29,394.42 426.85,394.21 427.41,394.00 427.97,393.78 428.54,393.57 429.11,393.35 429.67,393.13 430.25,392.91 430.82,392.68 431.39,392.45 431.97,392.21 432.55,391.98 433.13,391.74 433.70,391.52 434.23,391.35 434.70,391.27 435.08,391.30 435.36,391.48 435.54,391.81 435.63,392.25 435.65,392.79 435.62,393.39 435.57,394.03 435.49,394.68 435.41,395.35 435.34,396.02 435.27,396.67 435.22,397.31 435.18,397.93 435.15,398.54 435.13,399.14 435.12,399.73 435.11,400.31 435.11,400.88 435.10,401.46 435.08,402.03 435.07,402.61 435.04,403.19 435.00,403.78 434.96,404.37 434.91,404.96 434.86,405.56 434.81,406.16 434.76,406.76 434.71,407.35 434.66,407.95 434.62,408.55 434.58,409.15 434.54,409.75 434.50,410.35 434.46,410.95 434.42,411.54 434.37,412.14 434.33,412.74 434.28,413.33 434.23,413.93 434.18,414.52 434.12,415.11 434.06,415.71 433.99,416.30 433.92,416.89 433.84,417.48 433.76,418.06 433.67,418.65 433.57,419.24 433.46,419.82 433.35,420.41 433.24,420.99 433.11,421.57 432.99,422.15 432.85,422.73 432.71,423.31 432.57,423.89 432.42,424.46 432.26,425.04 432.10,425.61 431.93,426.18 431.76,426.75 431.59,427.32 431.41,427.89 431.22,428.46 431.04,429.02 430.84,429.59 430.65,430.15 430.44,430.71 430.24,431.27 430.03,431.83 429.82,432.39 429.60,432.95 429.38,433.50 429.16,434.06 428.93,434.61 428.71,435.16 428.47,435.71 428.24,436.26 428.00,436.81 427.76,437.36 427.52,437.90 427.28,438.45 427.03,438.99 426.78,439.53 426.53,440.07 426.27,440.61 426.02,441.15 425.76,441.68 425.50,442.21 425.23,442.75 424.97,443.28 424.70,443.81 424.42,444.34 424.15,444.86 423.87,445.39 423.59,445.91 423.31,446.43 423.02,446.95 422.73,447.47 422.44,447.99 422.15,448.51 421.85,449.02 421.55,449.54 421.24,450.05 420.94,450.56 420.63,451.07 420.31,451.57 420.00,452.08 419.68,452.58 419.36,453.08 419.03,453.58 418.70,454.08 418.37,454.58 418.03,455.08 417.69,455.57 417.35,456.06 417.00,456.55 416.65,457.04 416.30,457.52 415.94,458.01 415.58,458.48 415.22,458.96 414.85,459.44 414.48,459.91 414.10,460.38 413.72,460.84 413.34,461.30 412.95,461.76 412.56,462.22 412.17,462.67 411.77,463.11 411.37,463.56 410.97,464.00 410.56,464.43 410.14,464.86 409.73,465.29 409.31,465.71 408.88,466.13 408.45,466.54 408.02,466.95 407.58,467.35 407.14,467.75 406.70,468.14 406.25,468.53 405.80,468.91 405.34,469.29 404.88,469.66 404.42,470.03 403.95,470.40 403.48,470.76 403.01,471.12 402.53,471.47 402.05,471.81 401.57,472.16 401.08,472.50 400.59,472.83 400.10,473.16 399.60,473.49 399.11,473.81 398.60,474.12 398.10,474.44 397.59,474.75 397.08,475.05 396.57,475.35 396.06,475.65 395.54,475.94 395.02,476.23 394.50,476.52 393.97,476.80 393.45,477.08 392.92,477.35 392.39,477.62 391.85,477.88 391.32,478.15 390.78,478.41 390.24,478.66 389.70,478.91 389.16,479.16 388.61,479.40 388.07,479.65 387.52,479.88 386.97,480.12 386.42,480.35 385.86,480.57 385.31,480.80 384.75,481.02 384.20,481.24 383.64,481.45 383.08,481.66 382.52,481.87 381.96,482.07 381.39,482.27 380.83,482.47 380.27,482.67 379.70,482.86 379.13,483.05 378.57,483.24 378.00,483.42 377.43,483.60 376.86,483.78 376.29,483.95 375.72,484.13 375.15,484.30 374.58,484.46 374.00,484.63 373.43,484.79 372.86,484.95 372.28,485.11 371.71,485.26 371.13,485.41 370.55,485.56 369.98,485.71 369.40,485.86 368.82,486.00 368.24,486.14 367.66,486.28 367.08,486.42 366.50,486.56 365.92,486.69 365.34,486.82 364.76,486.95 364.18,487.08 363.60,487.21 363.02,487.33 362.43,487.45 361.85,487.58 361.27,487.70 360.68,487.81 360.10,487.93 359.51,488.05 358.93,488.16 358.34,488.27 357.76,488.39 357.17,488.50 356.59,488.61 356.00,488.71 355.41,488.82 354.83,488.93 354.24,489.03 353.65,489.14 353.07,489.24 352.48,489.34 351.89,489.44 351.30,489.54 350.72,489.64 350.13,489.74 349.54,489.84 348.95,489.94 348.37,490.04 347.78,490.14 347.19,490.23 346.60,490.33 346.01,490.43 345.42,490.52 344.84,490.62 344.25,490.71 343.66,490.81 343.07,490.90 342.48,490.99 341.90,491.09 341.31,491.18 340.72,491.28 340.13,491.37 339.54,491.46 338.95,491.55 338.37,491.64 337.78,491.74 337.19,491.83 336.60,491.92 336.01,492.01 335.42,492.10 334.84,492.19 334.25,492.28 333.66,492.37 333.07,492.46 332.48,492.54 331.89,492.63 331.30,492.72 330.71,492.81 330.12,492.90 329.53,492.98 328.94,493.07 328.36,493.16 327.77,493.24 327.18,493.33 326.59,493.41 326.00,493.50 325.41,493.58 324.82,493.67 324.23,493.75 323.64,493.84 323.05,493.92 322.46,494.00 321.86,494.09 321.27,494.17 320.68,494.25 320.09,494.34 319.50,494.42 318.91,494.50 318.32,494.58 317.73,494.66 317.14,494.74 316.54,494.82 315.95,494.90 315.36,494.98 314.77,495.06 314.18,495.14 313.58,495.22 312.99,495.30 312.40,495.38 311.81,495.46 311.22,495.54 310.62,495.61 310.03,495.69 309.44,495.77 308.85,495.85 308.26,495.92 307.67,496.00 307.07,496.08 306.48,496.15 305.89,496.23 305.30,496.30 304.71,496.38 304.12,496.45 303.53,496.53 302.95,496.60 302.36,496.68 301.77,496.75 301.18,496.82 300.59,496.90 300.01,496.97 299.42,497.04 298.84,497.12 298.25,497.19 297.67,497.26 297.08,497.34 296.49,497.41 295.90,497.48 295.32,497.56 294.72,497.63 294.13,497.71 293.54,497.79 292.94,497.87 292.34,497.95 291.73,498.03 291.13,498.11 290.51,498.20 289.90,498.29 289.28,498.38 288.66,498.47 288.04,498.55 287.42,498.63 286.81,498.69 286.20,498.75 285.61,498.78 285.03,498.79 284.47,498.78 283.94,498.73 283.46,498.61 283.04,498.39 282.71,498.07 282.46,497.65 282.26,497.15 282.13,496.59 282.03,495.98 281.97,495.34 281.94,494.68 281.91,494.02 281.90,493.38 281.89,492.74 281.88,492.12 281.88,491.51 281.88,490.91 281.89,490.31 281.90,489.72 281.92,489.13 281.94,488.54 281.96,487.95 281.99,487.36 282.02,486.77 282.06,486.18 282.10,485.58 282.14,484.99 282.20,484.39 282.26,483.79 282.33,483.20 282.41,482.61 282.50,482.02 282.60,481.43 282.70,480.84 282.82,480.26 282.95,479.68 283.09,479.10 283.23,478.52 283.39,477.95 283.55,477.38 283.72,476.81 283.90,476.24 284.09,475.68 284.28,475.11 284.48,474.55 284.68,474.00 284.90,473.44 285.12,472.89 285.34,472.34 285.57,471.79 285.80,471.24 286.04,470.70 286.29,470.16 286.53,469.62 286.79,469.08 287.05,468.55 287.31,468.02 287.58,467.49 287.85,466.96 288.13,466.43 288.41,465.91 288.69,465.39 288.98,464.87 289.28,464.35 289.57,463.83 289.87,463.32 290.18,462.81 290.49,462.30 290.80,461.79 291.11,461.29 291.43,460.78 291.76,460.28 292.08,459.78 292.41,459.28 292.74,458.78 293.08,458.29 293.41,457.80 293.75,457.30 294.10,456.82 294.44,456.33 294.79,455.84 295.15,455.36 295.51,454.88 295.87,454.41 296.23,453.94 296.60,453.47 296.97,453.00 297.35,452.54 297.73,452.08 298.12,451.63 298.51,451.18 298.90,450.74 299.30,450.30 299.71,449.87 300.12,449.44 300.54,449.02 300.96,448.61 301.39,448.20 301.82,447.79 301.82,447.79" fill="none" stroke="#ff00ff" stroke-width="1.30" stroke-linejoin="round" />
<rect x="269.70" y="369.20" width="185.30" height="149.20" fill="none" stroke="#1a1a1a" stroke-width="1.30"/>
<line x1="269.70" y1="517.49" x2="266.70" y2="517.49" stroke="#1a1a1a" stroke-width="1.00"/>
<line x1="269.70" y1="494.71" x2="266.70" y2="494.71" stroke="#1a1a1a" stroke-width="1.00"/>
<line x1="269.70" y1="471.93" x2="266.70" y2="471.93" stroke="#1a1a1a" stroke-width="1.00"/>
<line x1="269.70" y1="449.15" x2="266.70" y2="449.15" stroke="#1a1a1a" stroke-width="1.00"/>
<line x1="269.70" y1="426.37" x2="266.70" y2="426.37" stroke="#1a1a1a" stroke-width="1.00"/>
<line x1="269.70" y1="403.59" x2="266.70" y2="403.59" stroke="#1a1a1a" stroke-width="1.00"/>
<line x1="269.70" y1="380.81" x2="266.70" y2="380.81" stroke="#1a1a1a" stroke-width="1.00"/>
<line x1="269.70" y1="506.10" x2="268.20" y2="506.10" stroke="#1a1a1a" stroke-width="1.00"/>
<line x1="269.70" y1="483.32" x2="268.20" y2="483.32" stroke="#1a1a1a" stroke-width="1.00"/>
<line x1="269.70" y1="460.54" x2="268.20" y2="460.54" stroke="#1a1a1a" stroke-width="1.00"/>
<line x1="269.70" y1="437.76" x2="268.20" y2="437.76" stroke="#1a1a1a" stroke-width="1.00"/>
<line x1="269.70" y1="414.98" x2="268.20" y2="414.98" stroke="#1a1a1a" stroke-width="1.00"/>
<line x1="269.70" y1="392.20" x2="268.20" y2="392.20" stroke="#1a1a1a" stroke-width="1.00"/>
<line x1="269.70" y1="369.42" x2="268.20" y2="369.42" stroke="#1a1a1a" stroke-width="1.00"/>
<text x="264.90" y="520.69" font-family='"Liberation Sans", sans-serif' font-size="8.40" font-weight="bold" text-anchor="end" fill="#111"  stroke="#111" stroke-width="0.25">-0.3</text>
<text x="264.90" y="497.91" font-family='"Liberation Sans", sans-serif' font-size="8.40" font-weight="bold" text-anchor="end" fill="#111"  stroke="#111" stroke-width="0.25">-0.2</text>
<text x="264.90" y="475.13" font-family='"Liberation Sans", sans-serif' font-size="8.40" font-weight="bold" text-anchor="end" fill="#111"  stroke="#111" stroke-width="0.25">-0.1</text>
<text x="264.90" y="452.35" font-family='"Liberation Sans", sans-serif' font-size="8.40" font-weight="bold" text-anchor="end" fill="#111"  stroke="#111" stroke-width="0.25">0.0</text>
<text x="264.90" y="429.57" font-family='"Liberation Sans", sans-serif' font-size="8.40" font-weight="bold" text-anchor="end" fill="#111"  stroke="#111" stroke-width="0.25">0.1</text>
<text x="264.90" y="406.79" font-family='"Liberation Sans", sans-serif' font-size="8.40" font-weight="bold" text-anchor="end" fill="#111"  stroke="#111" stroke-width="0.25">0.2</text>
<text x="264.90" y="384.01" font-family='"Liberation Sans", sans-serif' font-size="8.40" font-weight="bold" text-anchor="end" fill="#111"  stroke="#111" stroke-width="0.25">0.3</text>
<line x1="269.90" y1="518.40" x2="269.90" y2="520.90" stroke="#1a1a1a" stroke-width="1.00"/>
<line x1="300.73" y1="518.40" x2="300.73" y2="520.90" stroke="#1a1a1a" stroke-width="1.00"/>
<line x1="331.57" y1="518.40" x2="331.57" y2="520.90" stroke="#1a1a1a" stroke-width="1.00"/>
<line x1="362.40" y1="518.40" x2="362.40" y2="520.90" stroke="#1a1a1a" stroke-width="1.00"/>
<line x1="393.24" y1="518.40" x2="393.24" y2="520.90" stroke="#1a1a1a" stroke-width="1.00"/>
<line x1="424.07" y1="518.40" x2="424.07" y2="520.90" stroke="#1a1a1a" stroke-width="1.00"/>
<line x1="454.90" y1="518.40" x2="454.90" y2="520.90" stroke="#1a1a1a" stroke-width="1.00"/>
<line x1="285.32" y1="518.40" x2="285.32" y2="519.80" stroke="#1a1a1a" stroke-width="1.00"/>
<line x1="316.15" y1="518.40" x2="316.15" y2="519.80" stroke="#1a1a1a" stroke-width="1.00"/>
<line x1="346.98" y1="518.40" x2="346.98" y2="519.80" stroke="#1a1a1a" stroke-width="1.00"/>
<line x1="377.82" y1="518.40" x2="377.82" y2="519.80" stroke="#1a1a1a" stroke-width="1.00"/>
<line x1="408.65" y1="518.40" x2="408.65" y2="519.80" stroke="#1a1a1a" stroke-width="1.00"/>
<line x1="439.49" y1="518.40" x2="439.49" y2="519.80" stroke="#1a1a1a" stroke-width="1.00"/>
<text x="269.90" y="530.50" font-family='"Liberation Sans", sans-serif' font-size="8.40" font-weight="bold" text-anchor="middle" fill="#111"  stroke="#111" stroke-width="0.25">0.80</text>
<text x="300.73" y="530.50" font-family='"Liberation Sans", sans-serif' font-size="8.40" font-weight="bold" text-anchor="middle" fill="#111"  stroke="#111" stroke-width="0.25">0.82</text>
<text x="331.57" y="530.50" font-family='"Liberation Sans", sans-serif' font-size="8.40" font-weight="bold" text-anchor="middle" fill="#111"  stroke="#111" stroke-width="0.25">0.84</text>
<text x="362.40" y="530.50" font-family='"Liberation Sans", sans-serif' font-size="8.40" font-weight="bold" text-anchor="middle" fill="#111"  stroke="#111" stroke-width="0.25">0.86</text>
<text x="393.24" y="530.50" font-family='"Liberation Sans", sans-serif' font-size="8.40" font-weight="bold" text-anchor="middle" fill="#111"  stroke="#111" stroke-width="0.25">0.88</text>
<text x="424.07" y="530.50" font-family='"Liberation Sans", sans-serif' font-size="8.40" font-weight="bold" text-anchor="middle" fill="#111"  stroke="#111" stroke-width="0.25">0.90</text>
<text x="454.90" y="530.50" font-family='"Liberation Sans", sans-serif' font-size="8.40" font-weight="bold" text-anchor="middle" fill="#111"  stroke="#111" stroke-width="0.25">0.92</text>
<text x="362.30" y="545.00" font-family='"Liberation Serif", serif' font-size="8.45" font-weight="bold" text-anchor="middle" fill="#111"  stroke="#111" stroke-width="0.25">Potential(V vs RHE)</text>
<text x="240.90" y="438.80" font-family='"Liberation Serif", serif' font-size="8.55" font-weight="bold" text-anchor="middle" fill="#111" transform="rotate(-90.00 240.90 438.80)"  stroke="#111" stroke-width="0.25">Current density(mA cm<tspan dy="-3" font-size="5.6">-2</tspan><tspan dy="3">)</tspan></text>
<line x1="271.90" y1="375.80" x2="284.80" y2="375.80" stroke="#111111" stroke-width="1.50"/>
<text x="286.90" y="377.50" font-family='"Liberation Sans", sans-serif' font-size="5.70" font-weight="normal" text-anchor="start" fill="#222" word-spacing="0.8" stroke="#222" stroke-width="0.25">10 <tspan font-style="italic">mv</tspan> s<tspan dy="-3.0" font-size="4.6">-1</tspan></text>
<line x1="316.90" y1="375.90" x2="329.80" y2="375.90" stroke="#ff1a1a" stroke-width="1.50"/>
<text x="330.90" y="377.60" font-family='"Liberation Sans", sans-serif' font-size="5.70" font-weight="normal" text-anchor="start" fill="#222" word-spacing="0.8" stroke="#222" stroke-width="0.25">20 <tspan font-style="italic">mv</tspan> s<tspan dy="-3.0" font-size="4.6">-1</tspan></text>
<line x1="271.90" y1="385.10" x2="284.80" y2="385.10" stroke="#00ee00" stroke-width="1.50"/>
<text x="286.90" y="386.80" font-family='"Liberation Sans", sans-serif' font-size="5.70" font-weight="normal" text-anchor="start" fill="#222" word-spacing="0.8" stroke="#222" stroke-width="0.25">40 <tspan font-style="italic">mv</tspan> s<tspan dy="-3.0" font-size="4.6">-1</tspan></text>
<line x1="316.90" y1="385.10" x2="329.80" y2="385.10" stroke="#1a1aff" stroke-width="1.50"/>
<text x="330.90" y="386.80" font-family='"Liberation Sans", sans-serif' font-size="5.70" font-weight="normal" text-anchor="start" fill="#222" word-spacing="0.8" stroke="#222" stroke-width="0.25">60 <tspan font-style="italic">mv</tspan> s<tspan dy="-3.0" font-size="4.6">-1</tspan></text>
<line x1="271.90" y1="394.60" x2="284.80" y2="394.60" stroke="#00ffff" stroke-width="1.50"/>
<text x="286.90" y="396.30" font-family='"Liberation Sans", sans-serif' font-size="5.70" font-weight="normal" text-anchor="start" fill="#222" word-spacing="0.8" stroke="#222" stroke-width="0.25">80 <tspan font-style="italic">mv</tspan> s<tspan dy="-3.0" font-size="4.6">-1</tspan></text>
<line x1="316.90" y1="394.60" x2="329.80" y2="394.60" stroke="#ff00ff" stroke-width="1.50"/>
<text x="330.90" y="396.30" font-family='"Liberation Sans", sans-serif' font-size="5.70" font-weight="normal" text-anchor="start" fill="#222" word-spacing="0.8" stroke="#222" stroke-width="0.25">100 <tspan font-style="italic">mv</tspan> s<tspan dy="-3.0" font-size="4.6">-1</tspan></text>
<text x="236.70" y="369.70" font-family='"Liberation Sans", sans-serif' font-size="13.60" font-weight="bold" text-anchor="start" fill="#111"  stroke="#111" stroke-width="0.25">(f)</text>
</g>
</svg>
</body></html>
